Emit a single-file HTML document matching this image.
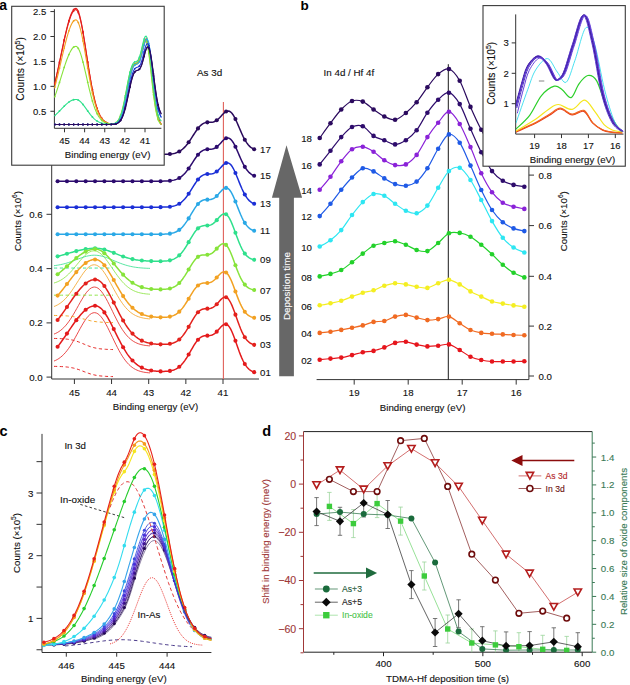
<!DOCTYPE html>
<html><head><meta charset="utf-8"><style>
html,body{margin:0;padding:0;background:#fff;}
svg{display:block;}
text{font-family:"Liberation Sans", sans-serif;}
</style></head><body>
<svg width="630" height="685" viewBox="0 0 630 685">
<rect width="630" height="685" fill="#fff"/>
<g stroke="#333" stroke-width="1" fill="none">
<path d="M51.7,165 L51.7,379 L259,379"/>
<path d="M46.5,377.1 L51.7,377.1"/>
<path d="M46.5,322.9 L51.7,322.9"/>
<path d="M46.5,268.6 L51.7,268.6"/>
<path d="M46.5,214.3 L51.7,214.3"/>
<path d="M74.4,379 L74.4,384"/>
<path d="M111.55,379 L111.55,384"/>
<path d="M148.7,379 L148.7,384"/>
<path d="M185.85,379 L185.85,384"/>
<path d="M223,379 L223,384"/>
</g>
<text x="42.6" y="380.6" font-size="9.7" text-anchor="end" fill="#111" stroke="#111" stroke-width="0.12" font-weight="normal" >0.0</text>
<text x="42.6" y="326.4" font-size="9.7" text-anchor="end" fill="#111" stroke="#111" stroke-width="0.12" font-weight="normal" >0.2</text>
<text x="42.6" y="272.1" font-size="9.7" text-anchor="end" fill="#111" stroke="#111" stroke-width="0.12" font-weight="normal" >0.4</text>
<text x="42.6" y="217.8" font-size="9.7" text-anchor="end" fill="#111" stroke="#111" stroke-width="0.12" font-weight="normal" >0.6</text>
<text x="74.4" y="396" font-size="9.7" text-anchor="middle" fill="#111" stroke="#111" stroke-width="0.12" font-weight="normal" >45</text>
<text x="111.55" y="396" font-size="9.7" text-anchor="middle" fill="#111" stroke="#111" stroke-width="0.12" font-weight="normal" >44</text>
<text x="148.7" y="396" font-size="9.7" text-anchor="middle" fill="#111" stroke="#111" stroke-width="0.12" font-weight="normal" >43</text>
<text x="185.85" y="396" font-size="9.7" text-anchor="middle" fill="#111" stroke="#111" stroke-width="0.12" font-weight="normal" >42</text>
<text x="223" y="396" font-size="9.7" text-anchor="middle" fill="#111" stroke="#111" stroke-width="0.12" font-weight="normal" >41</text>
<text x="155.5" y="410" font-size="9.7" text-anchor="middle" fill="#111" stroke="#111" stroke-width="0.12" font-weight="normal" >Binding energy (eV)</text>
<text x="20.8" y="221" font-size="9.7" text-anchor="middle" fill="#111" stroke="#111" stroke-width="0.12" font-weight="normal" transform="rotate(-90 20.8 221)" >Counts (×10<tspan font-size="6.5" dy="-3.5">6</tspan><tspan dy="3.5">)</tspan></text>
<text x="197" y="76" font-size="9.9" text-anchor="start" fill="#111" stroke="#111" stroke-width="0.12" font-weight="normal" >As 3d</text>
<line x1="223.4" y1="102" x2="223.4" y2="379" stroke="#e0605a" stroke-width="1.1" />
<path d="M54,366.34 L55.51,366.38 L57.03,366.41 L58.54,366.46 L60.05,366.52 L61.56,366.59 L63.08,366.68 L64.59,366.79 L66.1,366.93 L67.62,367.09 L69.13,367.29 L70.64,367.53 L72.15,367.81 L73.67,368.14 L75.18,368.52 L76.69,368.95 L78.21,369.43 L79.72,369.96 L81.23,370.52 L82.74,371.1 L84.26,371.7 L85.77,372.28 L87.28,372.85 L88.79,373.39 L90.31,373.88 L91.82,374.32 L93.33,374.72 L94.85,375.06 L96.36,375.35 L97.87,375.6 L99.38,375.81 L100.9,375.98 L102.41,376.12 L103.92,376.24 L105.44,376.33 L106.95,376.41 L108.46,376.47 L109.97,376.52 L111.49,376.56 L113,376.59" stroke="#e41a1c" stroke-width="0.95" fill="none" stroke-dasharray="3.2,2.6"/>
<path d="M54,361.06 L55.63,360.36 L57.25,359.52 L58.88,358.51 L60.51,357.34 L62.14,355.97 L63.76,354.4 L65.39,352.61 L67.02,350.62 L68.64,348.41 L70.27,346 L71.9,343.4 L73.53,340.64 L75.15,337.75 L76.78,334.78 L78.41,331.76 L80.03,328.77 L81.66,325.85 L83.29,323.07 L84.92,320.5 L86.54,318.2 L88.17,316.24 L89.8,314.66 L91.42,313.52 L93.05,312.85 L94.68,312.67 L96.31,312.99 L97.93,313.81 L99.56,315.12 L101.19,316.89 L102.81,319.07 L104.44,321.61 L106.07,324.46 L107.69,327.55 L109.32,330.82 L110.95,334.2 L112.58,337.62 L114.2,341.03 L115.83,344.36 L117.46,347.58 L119.08,350.64 L120.71,353.52 L122.34,356.17 L123.97,358.6 L125.59,360.8 L127.22,362.76 L128.85,364.49 L130.47,366 L132.1,367.3 L133.73,368.41 L135.36,369.35 L136.98,370.14 L138.61,370.79 L140.24,371.32 L141.86,371.76 L143.49,372.11 L145.12,372.38 L146.75,372.6 L148.37,372.77 L150,372.9" stroke="#e41a1c" stroke-width="0.8" fill="none"/>
<path d="M54,338.42 L55.51,338.46 L57.03,338.5 L58.54,338.55 L60.05,338.61 L61.56,338.69 L63.08,338.79 L64.59,338.91 L66.1,339.06 L67.62,339.24 L69.13,339.45 L70.64,339.71 L72.15,340.01 L73.67,340.37 L75.18,340.79 L76.69,341.25 L78.21,341.78 L79.72,342.35 L81.23,342.96 L82.74,343.59 L84.26,344.23 L85.77,344.87 L87.28,345.49 L88.79,346.07 L90.31,346.6 L91.82,347.08 L93.33,347.51 L94.85,347.88 L96.36,348.2 L97.87,348.47 L99.38,348.7 L100.9,348.88 L102.41,349.04 L103.92,349.16 L105.44,349.27 L106.95,349.35 L108.46,349.42 L109.97,349.47 L111.49,349.51 L113,349.55" stroke="#e3211c" stroke-width="0.95" fill="none" stroke-dasharray="3.2,2.6"/>
<path d="M54,334.1 L55.63,333.42 L57.25,332.6 L58.88,331.62 L60.51,330.47 L62.14,329.14 L63.76,327.61 L65.39,325.88 L67.02,323.93 L68.64,321.78 L70.27,319.44 L71.9,316.91 L73.53,314.22 L75.15,311.41 L76.78,308.51 L78.41,305.58 L80.03,302.66 L81.66,299.82 L83.29,297.12 L84.92,294.62 L86.54,292.39 L88.17,290.48 L89.8,288.95 L91.42,287.85 L93.05,287.2 L94.68,287.03 L96.31,287.36 L97.93,288.17 L99.56,289.45 L101.19,291.18 L102.81,293.32 L104.44,295.8 L106.07,298.59 L107.69,301.61 L109.32,304.8 L110.95,308.1 L112.58,311.44 L114.2,314.77 L115.83,318.03 L117.46,321.17 L119.08,324.16 L120.71,326.96 L122.34,329.55 L123.97,331.92 L125.59,334.07 L127.22,335.98 L128.85,337.67 L130.47,339.14 L132.1,340.41 L133.73,341.5 L135.36,342.42 L136.98,343.18 L138.61,343.82 L140.24,344.34 L141.86,344.76 L143.49,345.1 L145.12,345.37 L146.75,345.58 L148.37,345.75 L150,345.88" stroke="#e3211c" stroke-width="0.8" fill="none"/>
<path d="M54,315.45 L55.51,315.47 L57.03,315.5 L58.54,315.53 L60.05,315.57 L61.56,315.62 L63.08,315.68 L64.59,315.76 L66.1,315.86 L67.62,315.97 L69.13,316.11 L70.64,316.27 L72.15,316.47 L73.67,316.7 L75.18,316.96 L76.69,317.26 L78.21,317.6 L79.72,317.96 L81.23,318.35 L82.74,318.76 L84.26,319.17 L85.77,319.58 L87.28,319.97 L88.79,320.34 L90.31,320.69 L91.82,321 L93.33,321.27 L94.85,321.51 L96.36,321.71 L97.87,321.88 L99.38,322.03 L100.9,322.15 L102.41,322.25 L103.92,322.33 L105.44,322.39 L106.95,322.45 L108.46,322.49 L109.97,322.52 L111.49,322.55 L113,322.57" stroke="#f2a122" stroke-width="0.95" fill="none" stroke-dasharray="3.2,2.6"/>
<path d="M54,306.51 L55.63,305.85 L57.25,305.05 L58.88,304.11 L60.51,303.03 L62.14,301.77 L63.76,300.34 L65.39,298.74 L67.02,296.95 L68.64,294.99 L70.27,292.86 L71.9,290.58 L73.53,288.18 L75.15,285.68 L76.78,283.12 L78.41,280.54 L80.03,277.99 L81.66,275.53 L83.29,273.19 L84.92,271.05 L86.54,269.15 L88.17,267.54 L89.8,266.27 L91.42,265.37 L93.05,264.87 L94.68,264.79 L96.31,265.14 L97.93,265.92 L99.56,267.1 L101.19,268.67 L102.81,270.59 L104.44,272.82 L106.07,275.31 L107.69,278.02 L109.32,280.87 L110.95,283.83 L112.58,286.83 L114.2,289.82 L115.83,292.76 L117.46,295.61 L119.08,298.33 L120.71,300.89 L122.34,303.28 L123.97,305.47 L125.59,307.46 L127.22,309.26 L128.85,310.85 L130.47,312.25 L132.1,313.47 L133.73,314.52 L135.36,315.41 L136.98,316.16 L138.61,316.79 L140.24,317.32 L141.86,317.74 L143.49,318.09 L145.12,318.37 L146.75,318.59 L148.37,318.77 L150,318.91" stroke="#f2a122" stroke-width="0.8" fill="none"/>
<path d="M54,295.18 L55.51,295.18 L57.03,295.18 L58.54,295.18 L60.05,295.18 L61.56,295.18 L63.08,295.18 L64.59,295.18 L66.1,295.18 L67.62,295.18 L69.13,295.18 L70.64,295.18 L72.15,295.18 L73.67,295.18 L75.18,295.18 L76.69,295.18 L78.21,295.18 L79.72,295.18 L81.23,295.18 L82.74,295.18 L84.26,295.18 L85.77,295.18 L87.28,295.18 L88.79,295.18 L90.31,295.18 L91.82,295.18 L93.33,295.18 L94.85,295.18 L96.36,295.18 L97.87,295.18 L99.38,295.18 L100.9,295.18 L102.41,295.18 L103.92,295.18 L105.44,295.18 L106.95,295.18 L108.46,295.18 L109.97,295.18 L111.49,295.18 L113,295.18" stroke="#86e33a" stroke-width="0.95" fill="none" stroke-dasharray="3.2,2.6"/>
<path d="M54,283.02 L55.63,282.5 L57.25,281.88 L58.88,281.15 L60.51,280.3 L62.14,279.33 L63.76,278.21 L65.39,276.96 L67.02,275.56 L68.64,274.03 L70.27,272.38 L71.9,270.6 L73.53,268.73 L75.15,266.79 L76.78,264.8 L78.41,262.8 L80.03,260.82 L81.66,258.92 L83.29,257.12 L84.92,255.47 L86.54,254.02 L88.17,252.8 L89.8,251.85 L91.42,251.19 L93.05,250.85 L94.68,250.85 L96.31,251.17 L97.93,251.84 L99.56,252.82 L101.19,254.11 L102.81,255.67 L104.44,257.47 L106.07,259.48 L107.69,261.65 L109.32,263.94 L110.95,266.3 L112.58,268.69 L114.2,271.08 L115.83,273.42 L117.46,275.69 L119.08,277.85 L120.71,279.89 L122.34,281.79 L123.97,283.53 L125.59,285.11 L127.22,286.54 L128.85,287.8 L130.47,288.91 L132.1,289.88 L133.73,290.71 L135.36,291.42 L136.98,292.02 L138.61,292.52 L140.24,292.94 L141.86,293.28 L143.49,293.56 L145.12,293.78 L146.75,293.96 L148.37,294.1 L150,294.21" stroke="#86e33a" stroke-width="0.8" fill="none"/>
<path d="M54,268.05 L55.51,268.05 L57.03,268.05 L58.54,268.05 L60.05,268.05 L61.56,268.05 L63.08,268.05 L64.59,268.05 L66.1,268.05 L67.62,268.05 L69.13,268.05 L70.64,268.05 L72.15,268.05 L73.67,268.05 L75.18,268.05 L76.69,268.05 L78.21,268.05 L79.72,268.05 L81.23,268.05 L82.74,268.05 L84.26,268.05 L85.77,268.05 L87.28,268.05 L88.79,268.05 L90.31,268.05 L91.82,268.05 L93.33,268.05 L94.85,268.05 L96.36,268.05 L97.87,268.05 L99.38,268.05 L100.9,268.05 L102.41,268.05 L103.92,268.05 L105.44,268.05 L106.95,268.05 L108.46,268.05 L109.97,268.05 L111.49,268.05 L113,268.05" stroke="#2fe08c" stroke-width="0.95" fill="none" stroke-dasharray="3.2,2.6"/>
<path d="M54,265.68 L55.63,265.47 L57.25,265.23 L58.88,264.96 L60.51,264.64 L62.14,264.29 L63.76,263.9 L65.39,263.46 L67.02,262.99 L68.64,262.48 L70.27,261.93 L71.9,261.36 L73.53,260.76 L75.15,260.15 L76.78,259.53 L78.41,258.91 L80.03,258.31 L81.66,257.73 L83.29,257.18 L84.92,256.68 L86.54,256.24 L88.17,255.87 L89.8,255.57 L91.42,255.36 L93.05,255.23 L94.68,255.2 L96.31,255.27 L97.93,255.43 L99.56,255.68 L101.19,256.01 L102.81,256.43 L104.44,256.92 L106.07,257.47 L107.69,258.07 L109.32,258.71 L110.95,259.38 L112.58,260.07 L114.2,260.76 L115.83,261.45 L117.46,262.13 L119.08,262.79 L120.71,263.41 L122.34,264.01 L123.97,264.56 L125.59,265.07 L127.22,265.54 L128.85,265.97 L130.47,266.35 L132.1,266.69 L133.73,266.99 L135.36,267.25 L136.98,267.47 L138.61,267.66 L140.24,267.83 L141.86,267.96 L143.49,268.08 L145.12,268.17 L146.75,268.25 L148.37,268.31 L150,268.36" stroke="#2fe08c" stroke-width="0.8" fill="none"/>
<path d="M57.6,154.47 L58.84,154.47 L60.07,154.47 L61.31,154.47 L62.55,154.47 L63.78,154.47 L65.02,154.47 L66.26,154.47 L67.49,154.47 L68.73,154.47 L69.96,154.47 L71.2,154.47 L72.44,154.47 L73.67,154.47 L74.91,154.47 L76.15,154.47 L77.38,154.47 L78.62,154.47 L79.86,154.47 L81.09,154.47 L82.33,154.47 L83.57,154.47 L84.8,154.47 L86.04,154.47 L87.28,154.47 L88.51,154.47 L89.75,154.47 L90.98,154.47 L92.22,154.47 L93.46,154.47 L94.69,154.47 L95.93,154.47 L97.17,154.47 L98.4,154.47 L99.64,154.47 L100.88,154.47 L102.11,154.47 L103.35,154.47 L104.59,154.47 L105.82,154.47 L107.06,154.47 L108.3,154.47 L109.53,154.47 L110.77,154.47 L112.01,154.47 L113.24,154.47 L114.48,154.47 L115.71,154.47 L116.95,154.47 L118.19,154.47 L119.42,154.47 L120.66,154.47 L121.9,154.47 L123.13,154.47 L124.37,154.47 L125.61,154.47 L126.84,154.47 L128.08,154.47 L129.32,154.47 L130.55,154.47 L131.79,154.47 L133.03,154.47 L134.26,154.47 L135.5,154.47 L136.73,154.47 L137.97,154.47 L139.21,154.47 L140.44,154.47 L141.68,154.47 L142.92,154.47 L144.15,154.47 L145.39,154.47 L146.63,154.47 L147.86,154.47 L149.1,154.47 L150.34,154.47 L151.57,154.47 L152.81,154.47 L154.05,154.46 L155.28,154.46 L156.52,154.46 L157.75,154.46 L158.99,154.45 L160.23,154.44 L161.46,154.43 L162.7,154.41 L163.94,154.39 L165.17,154.36 L166.41,154.31 L167.65,154.25 L168.88,154.16 L170.12,154.05 L171.36,153.9 L172.59,153.71 L173.83,153.47 L175.07,153.16 L176.3,152.77 L177.54,152.3 L178.77,151.72 L180.01,151.02 L181.25,150.2 L182.48,149.24 L183.72,148.13 L184.96,146.88 L186.19,145.47 L187.43,143.93 L188.67,142.26 L189.9,140.47 L191.14,138.61 L192.38,136.69 L193.61,134.76 L194.85,132.85 L196.09,131.01 L197.32,129.28 L198.56,127.7 L199.79,126.3 L201.03,125.11 L202.27,124.15 L203.5,123.41 L204.74,122.89 L205.98,122.56 L207.21,122.39 L208.45,122.32 L209.69,122.29 L210.92,122.25 L212.16,122.14 L213.4,121.9 L214.63,121.48 L215.87,120.86 L217.11,120.02 L218.34,118.98 L219.58,117.77 L220.82,116.45 L222.05,115.1 L223.29,113.8 L224.52,112.65 L225.76,111.74 L227,111.16 L228.23,110.99 L229.47,111.27 L230.71,112.04 L231.94,113.28 L233.18,114.98 L234.42,117.09 L235.65,119.53 L236.89,122.23 L238.13,125.08 L239.36,128.01 L240.6,130.91 L241.84,133.72 L243.07,136.36 L244.31,138.78 L245.54,140.96 L246.78,142.88 L248.02,144.52 L249.25,145.91 L250.49,147.05 L251.73,147.98 L252.96,148.71 L254.2,149.28" stroke="#2a0a5c" stroke-width="1.5" fill="none"/>
<circle cx="57.6" cy="154.47" r="2.05" fill="#2a0a5c"/><circle cx="66.96" cy="154.47" r="2.05" fill="#2a0a5c"/><circle cx="76.32" cy="154.47" r="2.05" fill="#2a0a5c"/><circle cx="85.68" cy="154.47" r="2.05" fill="#2a0a5c"/><circle cx="95.04" cy="154.47" r="2.05" fill="#2a0a5c"/><circle cx="104.4" cy="154.47" r="2.05" fill="#2a0a5c"/><circle cx="113.76" cy="154.47" r="2.05" fill="#2a0a5c"/><circle cx="123.12" cy="154.47" r="2.05" fill="#2a0a5c"/><circle cx="132.48" cy="154.47" r="2.05" fill="#2a0a5c"/><circle cx="141.84" cy="154.47" r="2.05" fill="#2a0a5c"/><circle cx="151.2" cy="154.47" r="2.05" fill="#2a0a5c"/><circle cx="160.56" cy="154.44" r="2.05" fill="#2a0a5c"/><circle cx="169.92" cy="154.07" r="2.05" fill="#2a0a5c"/><circle cx="179.28" cy="151.45" r="2.05" fill="#2a0a5c"/><circle cx="188.64" cy="142.29" r="2.05" fill="#2a0a5c"/><circle cx="198" cy="128.39" r="2.05" fill="#2a0a5c"/><circle cx="207.36" cy="122.37" r="2.05" fill="#2a0a5c"/><circle cx="216.72" cy="120.3" r="2.05" fill="#2a0a5c"/><circle cx="226.08" cy="111.56" r="2.05" fill="#2a0a5c"/><circle cx="235.44" cy="119.09" r="2.05" fill="#2a0a5c"/><circle cx="244.8" cy="139.68" r="2.05" fill="#2a0a5c"/><circle cx="254.16" cy="149.27" r="2.05" fill="#2a0a5c"/>
<text x="260" y="152.87" font-size="9.7" text-anchor="start" fill="#111" stroke="#111" stroke-width="0.12" font-weight="normal" >17</text>
<path d="M57.6,181.21 L58.84,181.21 L60.07,181.21 L61.31,181.21 L62.55,181.21 L63.78,181.21 L65.02,181.21 L66.26,181.21 L67.49,181.21 L68.73,181.21 L69.96,181.21 L71.2,181.21 L72.44,181.21 L73.67,181.21 L74.91,181.21 L76.15,181.21 L77.38,181.21 L78.62,181.21 L79.86,181.21 L81.09,181.21 L82.33,181.21 L83.57,181.21 L84.8,181.21 L86.04,181.21 L87.28,181.21 L88.51,181.21 L89.75,181.21 L90.98,181.21 L92.22,181.21 L93.46,181.21 L94.69,181.21 L95.93,181.21 L97.17,181.21 L98.4,181.21 L99.64,181.21 L100.88,181.21 L102.11,181.21 L103.35,181.21 L104.59,181.21 L105.82,181.21 L107.06,181.21 L108.3,181.21 L109.53,181.21 L110.77,181.21 L112.01,181.21 L113.24,181.21 L114.48,181.21 L115.71,181.21 L116.95,181.21 L118.19,181.21 L119.42,181.21 L120.66,181.21 L121.9,181.21 L123.13,181.21 L124.37,181.21 L125.61,181.21 L126.84,181.21 L128.08,181.21 L129.32,181.21 L130.55,181.21 L131.79,181.21 L133.03,181.21 L134.26,181.21 L135.5,181.21 L136.73,181.21 L137.97,181.21 L139.21,181.21 L140.44,181.21 L141.68,181.21 L142.92,181.21 L144.15,181.21 L145.39,181.21 L146.63,181.21 L147.86,181.21 L149.1,181.21 L150.34,181.21 L151.57,181.21 L152.81,181.21 L154.05,181.2 L155.28,181.2 L156.52,181.2 L157.75,181.2 L158.99,181.19 L160.23,181.18 L161.46,181.17 L162.7,181.15 L163.94,181.12 L165.17,181.08 L166.41,181.03 L167.65,180.96 L168.88,180.87 L170.12,180.75 L171.36,180.58 L172.59,180.38 L173.83,180.11 L175.07,179.78 L176.3,179.36 L177.54,178.85 L178.77,178.24 L180.01,177.5 L181.25,176.63 L182.48,175.63 L183.72,174.47 L184.96,173.17 L186.19,171.73 L187.43,170.14 L188.67,168.44 L189.9,166.63 L191.14,164.76 L192.38,162.84 L193.61,160.92 L194.85,159.04 L196.09,157.25 L197.32,155.58 L198.56,154.07 L199.79,152.75 L201.03,151.65 L202.27,150.77 L203.5,150.12 L204.74,149.67 L205.98,149.41 L207.21,149.27 L208.45,149.23 L209.69,149.21 L210.92,149.15 L212.16,148.99 L213.4,148.69 L214.63,148.2 L215.87,147.51 L217.11,146.59 L218.34,145.49 L219.58,144.24 L220.82,142.9 L222.05,141.56 L223.29,140.3 L224.52,139.23 L225.76,138.42 L227,137.98 L228.23,137.95 L229.47,138.38 L230.71,139.29 L231.94,140.67 L233.18,142.49 L234.42,144.68 L235.65,147.18 L236.89,149.9 L238.13,152.74 L239.36,155.62 L240.6,158.45 L241.84,161.16 L243.07,163.69 L244.31,166 L245.54,168.05 L246.78,169.84 L248.02,171.37 L249.25,172.65 L250.49,173.69 L251.73,174.54 L252.96,175.2 L254.2,175.71" stroke="#2c0b6e" stroke-width="1.5" fill="none"/>
<circle cx="57.6" cy="181.21" r="2.05" fill="#2c0b6e"/><circle cx="66.96" cy="181.21" r="2.05" fill="#2c0b6e"/><circle cx="76.32" cy="181.21" r="2.05" fill="#2c0b6e"/><circle cx="85.68" cy="181.21" r="2.05" fill="#2c0b6e"/><circle cx="95.04" cy="181.21" r="2.05" fill="#2c0b6e"/><circle cx="104.4" cy="181.21" r="2.05" fill="#2c0b6e"/><circle cx="113.76" cy="181.21" r="2.05" fill="#2c0b6e"/><circle cx="123.12" cy="181.21" r="2.05" fill="#2c0b6e"/><circle cx="132.48" cy="181.21" r="2.05" fill="#2c0b6e"/><circle cx="141.84" cy="181.21" r="2.05" fill="#2c0b6e"/><circle cx="151.2" cy="181.21" r="2.05" fill="#2c0b6e"/><circle cx="160.56" cy="181.18" r="2.05" fill="#2c0b6e"/><circle cx="169.92" cy="180.77" r="2.05" fill="#2c0b6e"/><circle cx="179.28" cy="177.95" r="2.05" fill="#2c0b6e"/><circle cx="188.64" cy="168.48" r="2.05" fill="#2c0b6e"/><circle cx="198" cy="154.73" r="2.05" fill="#2c0b6e"/><circle cx="207.36" cy="149.27" r="2.05" fill="#2c0b6e"/><circle cx="216.72" cy="146.9" r="2.05" fill="#2c0b6e"/><circle cx="226.08" cy="138.27" r="2.05" fill="#2c0b6e"/><circle cx="235.44" cy="146.73" r="2.05" fill="#2c0b6e"/><circle cx="244.8" cy="166.85" r="2.05" fill="#2c0b6e"/><circle cx="254.16" cy="175.7" r="2.05" fill="#2c0b6e"/>
<text x="260" y="179.3" font-size="9.7" text-anchor="start" fill="#111" stroke="#111" stroke-width="0.12" font-weight="normal" >15</text>
<path d="M57.6,207.19 L58.84,207.19 L60.07,207.19 L61.31,207.19 L62.55,207.19 L63.78,207.19 L65.02,207.19 L66.26,207.19 L67.49,207.19 L68.73,207.19 L69.96,207.19 L71.2,207.19 L72.44,207.19 L73.67,207.19 L74.91,207.19 L76.15,207.19 L77.38,207.19 L78.62,207.19 L79.86,207.19 L81.09,207.19 L82.33,207.19 L83.57,207.19 L84.8,207.19 L86.04,207.19 L87.28,207.19 L88.51,207.19 L89.75,207.19 L90.98,207.19 L92.22,207.19 L93.46,207.19 L94.69,207.19 L95.93,207.19 L97.17,207.19 L98.4,207.19 L99.64,207.19 L100.88,207.19 L102.11,207.19 L103.35,207.19 L104.59,207.19 L105.82,207.19 L107.06,207.19 L108.3,207.19 L109.53,207.19 L110.77,207.19 L112.01,207.19 L113.24,207.19 L114.48,207.19 L115.71,207.19 L116.95,207.19 L118.19,207.19 L119.42,207.19 L120.66,207.19 L121.9,207.19 L123.13,207.19 L124.37,207.19 L125.61,207.19 L126.84,207.19 L128.08,207.19 L129.32,207.19 L130.55,207.19 L131.79,207.19 L133.03,207.19 L134.26,207.19 L135.5,207.19 L136.73,207.19 L137.97,207.19 L139.21,207.19 L140.44,207.19 L141.68,207.19 L142.92,207.19 L144.15,207.19 L145.39,207.19 L146.63,207.19 L147.86,207.19 L149.1,207.19 L150.34,207.19 L151.57,207.19 L152.81,207.19 L154.05,207.18 L155.28,207.18 L156.52,207.18 L157.75,207.17 L158.99,207.17 L160.23,207.16 L161.46,207.14 L162.7,207.12 L163.94,207.09 L165.17,207.05 L166.41,207 L167.65,206.92 L168.88,206.82 L170.12,206.69 L171.36,206.52 L172.59,206.3 L173.83,206.02 L175.07,205.66 L176.3,205.22 L177.54,204.68 L178.77,204.03 L180.01,203.26 L181.25,202.34 L182.48,201.28 L183.72,200.07 L184.96,198.7 L186.19,197.19 L187.43,195.53 L188.67,193.75 L189.9,191.87 L191.14,189.91 L192.38,187.92 L193.61,185.93 L194.85,183.99 L196.09,182.14 L197.32,180.42 L198.56,178.87 L199.79,177.53 L201.03,176.41 L202.27,175.52 L203.5,174.87 L204.74,174.43 L205.98,174.17 L207.21,174.05 L208.45,174.01 L209.69,173.99 L210.92,173.93 L212.16,173.77 L213.4,173.45 L214.63,172.93 L215.87,172.2 L217.11,171.26 L218.34,170.12 L219.58,168.84 L220.82,167.48 L222.05,166.14 L223.29,164.9 L224.52,163.87 L225.76,163.14 L227,162.8 L228.23,162.91 L229.47,163.52 L230.71,164.63 L231.94,166.23 L233.18,168.28 L234.42,170.72 L235.65,173.47 L236.89,176.43 L238.13,179.51 L239.36,182.6 L240.6,185.63 L241.84,188.51 L243.07,191.19 L244.31,193.62 L245.54,195.78 L246.78,197.66 L248.02,199.26 L249.25,200.59 L250.49,201.68 L251.73,202.56 L252.96,203.24 L254.2,203.78" stroke="#1b2fd6" stroke-width="1.5" fill="none"/>
<circle cx="57.6" cy="207.19" r="2.05" fill="#1b2fd6"/><circle cx="66.96" cy="207.19" r="2.05" fill="#1b2fd6"/><circle cx="76.32" cy="207.19" r="2.05" fill="#1b2fd6"/><circle cx="85.68" cy="207.19" r="2.05" fill="#1b2fd6"/><circle cx="95.04" cy="207.19" r="2.05" fill="#1b2fd6"/><circle cx="104.4" cy="207.19" r="2.05" fill="#1b2fd6"/><circle cx="113.76" cy="207.19" r="2.05" fill="#1b2fd6"/><circle cx="123.12" cy="207.19" r="2.05" fill="#1b2fd6"/><circle cx="132.48" cy="207.19" r="2.05" fill="#1b2fd6"/><circle cx="141.84" cy="207.19" r="2.05" fill="#1b2fd6"/><circle cx="151.2" cy="207.19" r="2.05" fill="#1b2fd6"/><circle cx="160.56" cy="207.15" r="2.05" fill="#1b2fd6"/><circle cx="169.92" cy="206.72" r="2.05" fill="#1b2fd6"/><circle cx="179.28" cy="203.73" r="2.05" fill="#1b2fd6"/><circle cx="188.64" cy="193.79" r="2.05" fill="#1b2fd6"/><circle cx="198" cy="179.55" r="2.05" fill="#1b2fd6"/><circle cx="207.36" cy="174.04" r="2.05" fill="#1b2fd6"/><circle cx="216.72" cy="171.57" r="2.05" fill="#1b2fd6"/><circle cx="226.08" cy="163.01" r="2.05" fill="#1b2fd6"/><circle cx="235.44" cy="172.98" r="2.05" fill="#1b2fd6"/><circle cx="244.8" cy="194.51" r="2.05" fill="#1b2fd6"/><circle cx="254.16" cy="203.76" r="2.05" fill="#1b2fd6"/>
<text x="260" y="207.36" font-size="9.7" text-anchor="start" fill="#111" stroke="#111" stroke-width="0.12" font-weight="normal" >13</text>
<path d="M57.6,234.32 L58.84,234.32 L60.07,234.32 L61.31,234.32 L62.55,234.32 L63.78,234.32 L65.02,234.32 L66.26,234.32 L67.49,234.32 L68.73,234.32 L69.96,234.32 L71.2,234.32 L72.44,234.32 L73.67,234.32 L74.91,234.32 L76.15,234.32 L77.38,234.32 L78.62,234.32 L79.86,234.32 L81.09,234.32 L82.33,234.32 L83.57,234.32 L84.8,234.32 L86.04,234.32 L87.28,234.32 L88.51,234.32 L89.75,234.32 L90.98,234.32 L92.22,234.32 L93.46,234.32 L94.69,234.32 L95.93,234.32 L97.17,234.32 L98.4,234.32 L99.64,234.32 L100.88,234.32 L102.11,234.32 L103.35,234.32 L104.59,234.32 L105.82,234.32 L107.06,234.32 L108.3,234.32 L109.53,234.32 L110.77,234.32 L112.01,234.32 L113.24,234.32 L114.48,234.32 L115.71,234.32 L116.95,234.32 L118.19,234.32 L119.42,234.32 L120.66,234.32 L121.9,234.32 L123.13,234.32 L124.37,234.32 L125.61,234.32 L126.84,234.32 L128.08,234.32 L129.32,234.32 L130.55,234.32 L131.79,234.32 L133.03,234.32 L134.26,234.32 L135.5,234.32 L136.73,234.32 L137.97,234.32 L139.21,234.32 L140.44,234.32 L141.68,234.32 L142.92,234.32 L144.15,234.32 L145.39,234.32 L146.63,234.31 L147.86,234.31 L149.1,234.31 L150.34,234.31 L151.57,234.31 L152.81,234.31 L154.05,234.31 L155.28,234.31 L156.52,234.3 L157.75,234.29 L158.99,234.28 L160.23,234.27 L161.46,234.25 L162.7,234.22 L163.94,234.18 L165.17,234.12 L166.41,234.04 L167.65,233.94 L168.88,233.8 L170.12,233.62 L171.36,233.39 L172.59,233.1 L173.83,232.73 L175.07,232.27 L176.3,231.71 L177.54,231.03 L178.77,230.22 L180.01,229.27 L181.25,228.16 L182.48,226.9 L183.72,225.47 L184.96,223.89 L186.19,222.16 L187.43,220.3 L188.67,218.34 L189.9,216.3 L191.14,214.21 L192.38,212.14 L193.61,210.11 L194.85,208.17 L196.09,206.37 L197.32,204.75 L198.56,203.34 L199.79,202.17 L201.03,201.24 L202.27,200.55 L203.5,200.09 L204.74,199.82 L205.98,199.69 L207.21,199.65 L208.45,199.63 L209.69,199.57 L210.92,199.4 L212.16,199.07 L213.4,198.53 L214.63,197.77 L215.87,196.79 L217.11,195.6 L218.34,194.27 L219.58,192.85 L220.82,191.44 L222.05,190.15 L223.29,189.06 L224.52,188.29 L225.76,187.93 L227,188.03 L228.23,188.64 L229.47,189.78 L230.71,191.43 L231.94,193.55 L233.18,196.08 L234.42,198.92 L235.65,201.98 L236.89,205.16 L238.13,208.37 L239.36,211.5 L240.6,214.49 L241.84,217.26 L243.07,219.78 L244.31,222.02 L245.54,223.97 L246.78,225.63 L248.02,227.01 L249.25,228.14 L250.49,229.05 L251.73,229.76 L252.96,230.32 L254.2,230.73" stroke="#2aa8e6" stroke-width="1.5" fill="none"/>
<circle cx="57.6" cy="234.32" r="2.05" fill="#2aa8e6"/><circle cx="66.96" cy="234.32" r="2.05" fill="#2aa8e6"/><circle cx="76.32" cy="234.32" r="2.05" fill="#2aa8e6"/><circle cx="85.68" cy="234.32" r="2.05" fill="#2aa8e6"/><circle cx="95.04" cy="234.32" r="2.05" fill="#2aa8e6"/><circle cx="104.4" cy="234.32" r="2.05" fill="#2aa8e6"/><circle cx="113.76" cy="234.32" r="2.05" fill="#2aa8e6"/><circle cx="123.12" cy="234.32" r="2.05" fill="#2aa8e6"/><circle cx="132.48" cy="234.32" r="2.05" fill="#2aa8e6"/><circle cx="141.84" cy="234.32" r="2.05" fill="#2aa8e6"/><circle cx="151.2" cy="234.31" r="2.05" fill="#2aa8e6"/><circle cx="160.56" cy="234.26" r="2.05" fill="#2aa8e6"/><circle cx="169.92" cy="233.65" r="2.05" fill="#2aa8e6"/><circle cx="179.28" cy="229.85" r="2.05" fill="#2aa8e6"/><circle cx="188.64" cy="218.38" r="2.05" fill="#2aa8e6"/><circle cx="198" cy="203.95" r="2.05" fill="#2aa8e6"/><circle cx="207.36" cy="199.65" r="2.05" fill="#2aa8e6"/><circle cx="216.72" cy="195.99" r="2.05" fill="#2aa8e6"/><circle cx="226.08" cy="187.91" r="2.05" fill="#2aa8e6"/><circle cx="235.44" cy="201.44" r="2.05" fill="#2aa8e6"/><circle cx="244.8" cy="222.83" r="2.05" fill="#2aa8e6"/><circle cx="254.16" cy="230.72" r="2.05" fill="#2aa8e6"/>
<text x="260" y="234.32" font-size="9.7" text-anchor="start" fill="#111" stroke="#111" stroke-width="0.12" font-weight="normal" >11</text>
<path d="M57.6,256.37 L58.84,256.05 L60.07,255.72 L61.31,255.38 L62.55,255.04 L63.78,254.69 L65.02,254.33 L66.26,253.97 L67.49,253.61 L68.73,253.24 L69.96,252.88 L71.2,252.52 L72.44,252.16 L73.67,251.81 L74.91,251.46 L76.15,251.13 L77.38,250.8 L78.62,250.49 L79.86,250.19 L81.09,249.91 L82.33,249.65 L83.57,249.4 L84.8,249.17 L86.04,248.97 L87.28,248.79 L88.51,248.63 L89.75,248.5 L90.98,248.39 L92.22,248.31 L93.46,248.25 L94.69,248.23 L95.93,248.23 L97.17,248.28 L98.4,248.39 L99.64,248.54 L100.88,248.74 L102.11,248.98 L103.35,249.27 L104.59,249.6 L105.82,249.96 L107.06,250.36 L108.3,250.78 L109.53,251.23 L110.77,251.69 L112.01,252.17 L113.24,252.66 L114.48,253.16 L115.71,253.66 L116.95,254.16 L118.19,254.65 L119.42,255.13 L120.66,255.6 L121.9,256.05 L123.13,256.49 L124.37,256.91 L125.61,257.31 L126.84,257.68 L128.08,258.04 L129.32,258.37 L130.55,258.68 L131.79,258.97 L133.03,259.23 L134.26,259.47 L135.5,259.69 L136.73,259.89 L137.97,260.08 L139.21,260.24 L140.44,260.38 L141.68,260.51 L142.92,260.63 L144.15,260.73 L145.39,260.82 L146.63,260.9 L147.86,260.97 L149.1,261.02 L150.34,261.07 L151.57,261.12 L152.81,261.15 L154.05,261.18 L155.28,261.2 L156.52,261.21 L157.75,261.22 L158.99,261.22 L160.23,261.21 L161.46,261.19 L162.7,261.15 L163.94,261.09 L165.17,261.01 L166.41,260.9 L167.65,260.75 L168.88,260.56 L170.12,260.3 L171.36,259.98 L172.59,259.58 L173.83,259.07 L175.07,258.46 L176.3,257.73 L177.54,256.85 L178.77,255.82 L180.01,254.63 L181.25,253.28 L182.48,251.76 L183.72,250.09 L184.96,248.26 L186.19,246.31 L187.43,244.25 L188.67,242.13 L189.9,239.98 L191.14,237.84 L192.38,235.77 L193.61,233.81 L194.85,232 L196.09,230.39 L197.32,229 L198.56,227.86 L199.79,226.98 L201.03,226.34 L202.27,225.93 L203.5,225.69 L204.74,225.6 L205.98,225.57 L207.21,225.55 L208.45,225.47 L209.69,225.26 L210.92,224.86 L212.16,224.26 L213.4,223.42 L214.63,222.35 L215.87,221.09 L217.11,219.7 L218.34,218.26 L219.58,216.86 L220.82,215.62 L222.05,214.63 L223.29,214 L224.52,213.82 L225.76,214.14 L227,215.01 L228.23,216.43 L229.47,218.37 L230.71,220.79 L231.94,223.6 L233.18,226.71 L234.42,230.01 L235.65,233.4 L236.89,236.79 L238.13,240.06 L239.36,243.16 L240.6,246.01 L241.84,248.58 L243.07,250.85 L244.31,252.81 L245.54,254.47 L246.78,255.85 L248.02,256.97 L249.25,257.86 L250.49,258.56 L251.73,259.1 L252.96,259.51 L254.2,259.81" stroke="#2fe08c" stroke-width="1.5" fill="none"/>
<circle cx="57.6" cy="256.37" r="2.05" fill="#2fe08c"/><circle cx="66.96" cy="253.76" r="2.05" fill="#2fe08c"/><circle cx="76.32" cy="251.08" r="2.05" fill="#2fe08c"/><circle cx="85.68" cy="249.03" r="2.05" fill="#2fe08c"/><circle cx="95.04" cy="248.22" r="2.05" fill="#2fe08c"/><circle cx="104.4" cy="249.55" r="2.05" fill="#2fe08c"/><circle cx="113.76" cy="252.87" r="2.05" fill="#2fe08c"/><circle cx="123.12" cy="256.48" r="2.05" fill="#2fe08c"/><circle cx="132.48" cy="259.12" r="2.05" fill="#2fe08c"/><circle cx="141.84" cy="260.53" r="2.05" fill="#2fe08c"/><circle cx="151.2" cy="261.1" r="2.05" fill="#2fe08c"/><circle cx="160.56" cy="261.2" r="2.05" fill="#2fe08c"/><circle cx="169.92" cy="260.35" r="2.05" fill="#2fe08c"/><circle cx="179.28" cy="255.36" r="2.05" fill="#2fe08c"/><circle cx="188.64" cy="242.17" r="2.05" fill="#2fe08c"/><circle cx="198" cy="228.35" r="2.05" fill="#2fe08c"/><circle cx="207.36" cy="225.55" r="2.05" fill="#2fe08c"/><circle cx="216.72" cy="220.15" r="2.05" fill="#2fe08c"/><circle cx="226.08" cy="214.31" r="2.05" fill="#2fe08c"/><circle cx="235.44" cy="232.82" r="2.05" fill="#2fe08c"/><circle cx="244.8" cy="253.51" r="2.05" fill="#2fe08c"/><circle cx="254.16" cy="259.8" r="2.05" fill="#2fe08c"/>
<text x="260" y="263.4" font-size="9.7" text-anchor="start" fill="#111" stroke="#111" stroke-width="0.12" font-weight="normal" >09</text>
<path d="M57.6,274.3 L58.84,273.31 L60.07,272.29 L61.31,271.24 L62.55,270.17 L63.78,269.08 L65.02,267.98 L66.26,266.87 L67.49,265.74 L68.73,264.62 L69.96,263.5 L71.2,262.38 L72.44,261.28 L73.67,260.19 L74.91,259.12 L76.15,258.09 L77.38,257.08 L78.62,256.12 L79.86,255.19 L81.09,254.32 L82.33,253.5 L83.57,252.74 L84.8,252.04 L86.04,251.4 L87.28,250.84 L88.51,250.35 L89.75,249.94 L90.98,249.61 L92.22,249.36 L93.46,249.19 L94.69,249.11 L95.93,249.12 L97.17,249.28 L98.4,249.6 L99.64,250.07 L100.88,250.69 L102.11,251.45 L103.35,252.34 L104.59,253.36 L105.82,254.48 L107.06,255.7 L108.3,257.01 L109.53,258.39 L110.77,259.83 L112.01,261.32 L113.24,262.83 L114.48,264.37 L115.71,265.91 L116.95,267.44 L118.19,268.96 L119.42,270.45 L120.66,271.9 L121.9,273.31 L123.13,274.66 L124.37,275.95 L125.61,277.19 L126.84,278.35 L128.08,279.45 L129.32,280.48 L130.55,281.44 L131.79,282.32 L133.03,283.14 L134.26,283.89 L135.5,284.57 L136.73,285.19 L137.97,285.75 L139.21,286.25 L140.44,286.71 L141.68,287.11 L142.92,287.46 L144.15,287.78 L145.39,288.05 L146.63,288.29 L147.86,288.5 L149.1,288.68 L150.34,288.84 L151.57,288.97 L152.81,289.08 L154.05,289.18 L155.28,289.25 L156.52,289.31 L157.75,289.36 L158.99,289.39 L160.23,289.4 L161.46,289.39 L162.7,289.36 L163.94,289.3 L165.17,289.22 L166.41,289.1 L167.65,288.93 L168.88,288.71 L170.12,288.42 L171.36,288.05 L172.59,287.6 L173.83,287.03 L175.07,286.35 L176.3,285.54 L177.54,284.58 L178.77,283.47 L180.01,282.2 L181.25,280.77 L182.48,279.18 L183.72,277.44 L184.96,275.57 L186.19,273.59 L187.43,271.54 L188.67,269.45 L189.9,267.36 L191.14,265.33 L192.38,263.38 L193.61,261.58 L194.85,259.96 L196.09,258.55 L197.32,257.38 L198.56,256.45 L199.79,255.76 L201.03,255.31 L202.27,255.04 L203.5,254.91 L204.74,254.88 L205.98,254.87 L207.21,254.81 L208.45,254.65 L209.69,254.32 L210.92,253.8 L212.16,253.05 L213.4,252.07 L214.63,250.91 L215.87,249.6 L217.11,248.21 L218.34,246.85 L219.58,245.61 L220.82,244.59 L222.05,243.91 L223.29,243.65 L224.52,243.87 L225.76,244.62 L227,245.92 L228.23,247.75 L229.47,250.06 L230.71,252.78 L231.94,255.82 L233.18,259.08 L234.42,262.46 L235.65,265.85 L236.89,269.16 L238.13,272.31 L239.36,275.23 L240.6,277.88 L241.84,280.23 L243.07,282.27 L244.31,284 L245.54,285.45 L246.78,286.64 L248.02,287.59 L249.25,288.34 L250.49,288.92 L251.73,289.36 L252.96,289.69 L254.2,289.94" stroke="#86e33a" stroke-width="1.5" fill="none"/>
<circle cx="57.6" cy="274.3" r="2.05" fill="#86e33a"/><circle cx="66.96" cy="266.23" r="2.05" fill="#86e33a"/><circle cx="76.32" cy="257.94" r="2.05" fill="#86e33a"/><circle cx="85.68" cy="251.58" r="2.05" fill="#86e33a"/><circle cx="95.04" cy="249.1" r="2.05" fill="#86e33a"/><circle cx="104.4" cy="253.2" r="2.05" fill="#86e33a"/><circle cx="113.76" cy="263.48" r="2.05" fill="#86e33a"/><circle cx="123.12" cy="274.64" r="2.05" fill="#86e33a"/><circle cx="132.48" cy="282.79" r="2.05" fill="#86e33a"/><circle cx="141.84" cy="287.16" r="2.05" fill="#86e33a"/><circle cx="151.2" cy="288.93" r="2.05" fill="#86e33a"/><circle cx="160.56" cy="289.4" r="2.05" fill="#86e33a"/><circle cx="169.92" cy="288.47" r="2.05" fill="#86e33a"/><circle cx="179.28" cy="282.97" r="2.05" fill="#86e33a"/><circle cx="188.64" cy="269.5" r="2.05" fill="#86e33a"/><circle cx="198" cy="256.84" r="2.05" fill="#86e33a"/><circle cx="207.36" cy="254.8" r="2.05" fill="#86e33a"/><circle cx="216.72" cy="248.65" r="2.05" fill="#86e33a"/><circle cx="226.08" cy="244.91" r="2.05" fill="#86e33a"/><circle cx="235.44" cy="265.27" r="2.05" fill="#86e33a"/><circle cx="244.8" cy="284.61" r="2.05" fill="#86e33a"/><circle cx="254.16" cy="289.93" r="2.05" fill="#86e33a"/>
<text x="260" y="293.53" font-size="9.7" text-anchor="start" fill="#111" stroke="#111" stroke-width="0.12" font-weight="normal" >07</text>
<path d="M57.6,295.6 L58.84,294.18 L60.07,292.71 L61.31,291.21 L62.55,289.67 L63.78,288.11 L65.02,286.53 L66.26,284.93 L67.49,283.32 L68.73,281.7 L69.96,280.09 L71.2,278.49 L72.44,276.91 L73.67,275.35 L74.91,273.82 L76.15,272.33 L77.38,270.89 L78.62,269.5 L79.86,268.18 L81.09,266.92 L82.33,265.75 L83.57,264.65 L84.8,263.65 L86.04,262.74 L87.28,261.93 L88.51,261.23 L89.75,260.64 L90.98,260.16 L92.22,259.81 L93.46,259.56 L94.69,259.45 L95.93,259.46 L97.17,259.69 L98.4,260.15 L99.64,260.83 L100.88,261.72 L102.11,262.81 L103.35,264.09 L104.59,265.54 L105.82,267.15 L107.06,268.91 L108.3,270.78 L109.53,272.77 L110.77,274.83 L112.01,276.96 L113.24,279.14 L114.48,281.34 L115.71,283.55 L116.95,285.76 L118.19,287.93 L119.42,290.07 L120.66,292.15 L121.9,294.17 L123.13,296.11 L124.37,297.97 L125.61,299.74 L126.84,301.42 L128.08,302.99 L129.32,304.47 L130.55,305.84 L131.79,307.11 L133.03,308.28 L134.26,309.36 L135.5,310.34 L136.73,311.23 L137.97,312.03 L139.21,312.75 L140.44,313.4 L141.68,313.98 L142.92,314.49 L144.15,314.94 L145.39,315.33 L146.63,315.68 L147.86,315.98 L149.1,316.24 L150.34,316.46 L151.57,316.66 L152.81,316.82 L154.05,316.96 L155.28,317.07 L156.52,317.16 L157.75,317.24 L158.99,317.29 L160.23,317.32 L161.46,317.34 L162.7,317.33 L163.94,317.3 L165.17,317.24 L166.41,317.14 L167.65,317 L168.88,316.82 L170.12,316.57 L171.36,316.26 L172.59,315.86 L173.83,315.36 L175.07,314.75 L176.3,314.02 L177.54,313.15 L178.77,312.13 L180.01,310.95 L181.25,309.61 L182.48,308.12 L183.72,306.47 L184.96,304.67 L186.19,302.76 L187.43,300.76 L188.67,298.69 L189.9,296.6 L191.14,294.54 L192.38,292.54 L193.61,290.66 L194.85,288.93 L196.09,287.4 L197.32,286.09 L198.56,285.03 L199.79,284.21 L201.03,283.63 L202.27,283.26 L203.5,283.06 L204.74,282.98 L205.98,282.96 L207.21,282.94 L208.45,282.85 L209.69,282.62 L210.92,282.22 L212.16,281.6 L213.4,280.75 L214.63,279.7 L215.87,278.46 L217.11,277.12 L218.34,275.73 L219.58,274.42 L220.82,273.26 L222.05,272.38 L223.29,271.87 L224.52,271.81 L225.76,272.26 L227,273.25 L228.23,274.78 L229.47,276.81 L230.71,279.3 L231.94,282.16 L233.18,285.31 L234.42,288.63 L235.65,292.01 L236.89,295.37 L238.13,298.61 L239.36,301.66 L240.6,304.45 L241.84,306.97 L243.07,309.18 L244.31,311.08 L245.54,312.68 L246.78,314.01 L248.02,315.09 L249.25,315.95 L250.49,316.62 L251.73,317.13 L252.96,317.52 L254.2,317.81" stroke="#f2a122" stroke-width="1.5" fill="none"/>
<circle cx="57.6" cy="295.6" r="2.05" fill="#f2a122"/><circle cx="66.96" cy="284.01" r="2.05" fill="#f2a122"/><circle cx="76.32" cy="272.12" r="2.05" fill="#f2a122"/><circle cx="85.68" cy="262.99" r="2.05" fill="#f2a122"/><circle cx="95.04" cy="259.43" r="2.05" fill="#f2a122"/><circle cx="104.4" cy="265.31" r="2.05" fill="#f2a122"/><circle cx="113.76" cy="280.06" r="2.05" fill="#f2a122"/><circle cx="123.12" cy="296.09" r="2.05" fill="#f2a122"/><circle cx="132.48" cy="307.78" r="2.05" fill="#f2a122"/><circle cx="141.84" cy="314.05" r="2.05" fill="#f2a122"/><circle cx="151.2" cy="316.6" r="2.05" fill="#f2a122"/><circle cx="160.56" cy="317.33" r="2.05" fill="#f2a122"/><circle cx="169.92" cy="316.62" r="2.05" fill="#f2a122"/><circle cx="179.28" cy="311.67" r="2.05" fill="#f2a122"/><circle cx="188.64" cy="298.73" r="2.05" fill="#f2a122"/><circle cx="198" cy="285.48" r="2.05" fill="#f2a122"/><circle cx="207.36" cy="282.93" r="2.05" fill="#f2a122"/><circle cx="216.72" cy="277.54" r="2.05" fill="#f2a122"/><circle cx="226.08" cy="272.46" r="2.05" fill="#f2a122"/><circle cx="235.44" cy="291.43" r="2.05" fill="#f2a122"/><circle cx="244.8" cy="311.75" r="2.05" fill="#f2a122"/><circle cx="254.16" cy="317.8" r="2.05" fill="#f2a122"/>
<text x="260" y="321.4" font-size="9.7" text-anchor="start" fill="#111" stroke="#111" stroke-width="0.12" font-weight="normal" >05</text>
<path d="M57.6,319.98 L58.84,318.39 L60.07,316.74 L61.31,315.06 L62.55,313.34 L63.78,311.6 L65.02,309.82 L66.26,308.03 L67.49,306.23 L68.73,304.42 L69.96,302.62 L71.2,300.82 L72.44,299.05 L73.67,297.3 L74.91,295.59 L76.15,293.92 L77.38,292.31 L78.62,290.76 L79.86,289.27 L81.09,287.87 L82.33,286.55 L83.57,285.32 L84.8,284.2 L86.04,283.18 L87.28,282.28 L88.51,281.49 L89.75,280.83 L90.98,280.3 L92.22,279.9 L93.46,279.63 L94.69,279.5 L95.93,279.51 L97.17,279.77 L98.4,280.29 L99.64,281.04 L100.88,282.04 L102.11,283.26 L103.35,284.69 L104.59,286.32 L105.82,288.13 L107.06,290.09 L108.3,292.19 L109.53,294.41 L110.77,296.73 L112.01,299.11 L113.24,301.55 L114.48,304.02 L115.71,306.49 L116.95,308.96 L118.19,311.39 L119.42,313.79 L120.66,316.12 L121.9,318.38 L123.13,320.56 L124.37,322.64 L125.61,324.62 L126.84,326.49 L128.08,328.26 L129.32,329.91 L130.55,331.45 L131.79,332.87 L133.03,334.18 L134.26,335.39 L135.5,336.48 L136.73,337.48 L137.97,338.38 L139.21,339.19 L140.44,339.91 L141.68,340.56 L142.92,341.13 L144.15,341.64 L145.39,342.08 L146.63,342.47 L147.86,342.8 L149.1,343.1 L150.34,343.35 L151.57,343.56 L152.81,343.75 L154.05,343.9 L155.28,344.03 L156.52,344.14 L157.75,344.22 L158.99,344.29 L160.23,344.34 L161.46,344.37 L162.7,344.37 L163.94,344.36 L165.17,344.32 L166.41,344.25 L167.65,344.14 L168.88,343.99 L170.12,343.79 L171.36,343.52 L172.59,343.18 L173.83,342.75 L175.07,342.21 L176.3,341.56 L177.54,340.78 L178.77,339.86 L180.01,338.78 L181.25,337.53 L182.48,336.12 L183.72,334.54 L184.96,332.8 L186.19,330.92 L187.43,328.92 L188.67,326.83 L189.9,324.67 L191.14,322.51 L192.38,320.37 L193.61,318.31 L194.85,316.38 L196.09,314.61 L197.32,313.06 L198.56,311.73 L199.79,310.67 L201.03,309.85 L202.27,309.28 L203.5,308.92 L204.74,308.74 L205.98,308.67 L207.21,308.66 L208.45,308.63 L209.69,308.52 L210.92,308.26 L212.16,307.81 L213.4,307.14 L214.63,306.23 L215.87,305.11 L217.11,303.81 L218.34,302.4 L219.58,300.97 L220.82,299.63 L222.05,298.47 L223.29,297.62 L224.52,297.16 L225.76,297.18 L227,297.74 L228.23,298.86 L229.47,300.54 L230.71,302.74 L231.94,305.41 L233.18,308.44 L234.42,311.75 L235.65,315.23 L236.89,318.76 L238.13,322.25 L239.36,325.6 L240.6,328.73 L241.84,331.6 L243.07,334.17 L244.31,336.43 L245.54,338.36 L246.78,339.98 L248.02,341.32 L249.25,342.41 L250.49,343.27 L251.73,343.94 L252.96,344.46 L254.2,344.85" stroke="#e3211c" stroke-width="1.5" fill="none"/>
<circle cx="57.6" cy="319.98" r="2.05" fill="#e3211c"/><circle cx="66.96" cy="307" r="2.05" fill="#e3211c"/><circle cx="76.32" cy="293.69" r="2.05" fill="#e3211c"/><circle cx="85.68" cy="283.47" r="2.05" fill="#e3211c"/><circle cx="95.04" cy="279.48" r="2.05" fill="#e3211c"/><circle cx="104.4" cy="286.06" r="2.05" fill="#e3211c"/><circle cx="113.76" cy="302.58" r="2.05" fill="#e3211c"/><circle cx="123.12" cy="320.53" r="2.05" fill="#e3211c"/><circle cx="132.48" cy="333.62" r="2.05" fill="#e3211c"/><circle cx="141.84" cy="340.64" r="2.05" fill="#e3211c"/><circle cx="151.2" cy="343.5" r="2.05" fill="#e3211c"/><circle cx="160.56" cy="344.35" r="2.05" fill="#e3211c"/><circle cx="169.92" cy="343.82" r="2.05" fill="#e3211c"/><circle cx="179.28" cy="339.43" r="2.05" fill="#e3211c"/><circle cx="188.64" cy="326.87" r="2.05" fill="#e3211c"/><circle cx="198" cy="312.3" r="2.05" fill="#e3211c"/><circle cx="207.36" cy="308.66" r="2.05" fill="#e3211c"/><circle cx="216.72" cy="304.23" r="2.05" fill="#e3211c"/><circle cx="226.08" cy="297.27" r="2.05" fill="#e3211c"/><circle cx="235.44" cy="314.63" r="2.05" fill="#e3211c"/><circle cx="244.8" cy="337.23" r="2.05" fill="#e3211c"/><circle cx="254.16" cy="344.84" r="2.05" fill="#e3211c"/>
<text x="260" y="348.44" font-size="9.7" text-anchor="start" fill="#111" stroke="#111" stroke-width="0.12" font-weight="normal" >03</text>
<path d="M57.6,346.73 L58.84,345.11 L60.07,343.45 L61.31,341.75 L62.55,340.01 L63.78,338.24 L65.02,336.45 L66.26,334.64 L67.49,332.81 L68.73,330.98 L69.96,329.16 L71.2,327.34 L72.44,325.55 L73.67,323.78 L74.91,322.05 L76.15,320.36 L77.38,318.73 L78.62,317.16 L79.86,315.66 L81.09,314.24 L82.33,312.9 L83.57,311.66 L84.8,310.53 L86.04,309.5 L87.28,308.58 L88.51,307.79 L89.75,307.12 L90.98,306.58 L92.22,306.17 L93.46,305.9 L94.69,305.77 L95.93,305.79 L97.17,306.05 L98.4,306.57 L99.64,307.33 L100.88,308.34 L102.11,309.57 L103.35,311.02 L104.59,312.67 L105.82,314.5 L107.06,316.49 L108.3,318.61 L109.53,320.86 L110.77,323.2 L112.01,325.61 L113.24,328.08 L114.48,330.57 L115.71,333.08 L116.95,335.57 L118.19,338.04 L119.42,340.46 L120.66,342.82 L121.9,345.1 L123.13,347.31 L124.37,349.41 L125.61,351.42 L126.84,353.31 L128.08,355.1 L129.32,356.77 L130.55,358.33 L131.79,359.77 L133.03,361.09 L134.26,362.31 L135.5,363.42 L136.73,364.43 L137.97,365.34 L139.21,366.16 L140.44,366.89 L141.68,367.54 L142.92,368.12 L144.15,368.63 L145.39,369.08 L146.63,369.47 L147.86,369.81 L149.1,370.11 L150.34,370.36 L151.57,370.58 L152.81,370.77 L154.05,370.93 L155.28,371.06 L156.52,371.17 L157.75,371.25 L158.99,371.32 L160.23,371.37 L161.46,371.4 L162.7,371.42 L163.94,371.41 L165.17,371.37 L166.41,371.31 L167.65,371.21 L168.88,371.08 L170.12,370.89 L171.36,370.64 L172.59,370.32 L173.83,369.92 L175.07,369.42 L176.3,368.81 L177.54,368.07 L178.77,367.19 L180.01,366.15 L181.25,364.96 L182.48,363.6 L183.72,362.07 L184.96,360.38 L186.19,358.54 L187.43,356.57 L188.67,354.5 L189.9,352.36 L191.14,350.19 L192.38,348.03 L193.61,345.95 L194.85,343.97 L196.09,342.15 L197.32,340.52 L198.56,339.12 L199.79,337.98 L201.03,337.08 L202.27,336.44 L203.5,336.02 L204.74,335.79 L205.98,335.69 L207.21,335.67 L208.45,335.66 L209.69,335.58 L210.92,335.37 L212.16,334.99 L213.4,334.38 L214.63,333.55 L215.87,332.49 L217.11,331.25 L218.34,329.87 L219.58,328.44 L220.82,327.07 L222.05,325.85 L223.29,324.9 L224.52,324.32 L225.76,324.2 L227,324.61 L228.23,325.57 L229.47,327.1 L230.71,329.17 L231.94,331.72 L233.18,334.68 L234.42,337.94 L235.65,341.4 L236.89,344.95 L238.13,348.48 L239.36,351.9 L240.6,355.12 L241.84,358.09 L243.07,360.77 L244.31,363.13 L245.54,365.17 L246.78,366.89 L248.02,368.33 L249.25,369.49 L250.49,370.42 L251.73,371.15 L252.96,371.72 L254.2,372.14" stroke="#e41a1c" stroke-width="1.5" fill="none"/>
<circle cx="57.6" cy="346.73" r="2.05" fill="#e41a1c"/><circle cx="66.96" cy="333.6" r="2.05" fill="#e41a1c"/><circle cx="76.32" cy="320.13" r="2.05" fill="#e41a1c"/><circle cx="85.68" cy="309.78" r="2.05" fill="#e41a1c"/><circle cx="95.04" cy="305.75" r="2.05" fill="#e41a1c"/><circle cx="104.4" cy="312.41" r="2.05" fill="#e41a1c"/><circle cx="113.76" cy="329.12" r="2.05" fill="#e41a1c"/><circle cx="123.12" cy="347.28" r="2.05" fill="#e41a1c"/><circle cx="132.48" cy="360.52" r="2.05" fill="#e41a1c"/><circle cx="141.84" cy="367.62" r="2.05" fill="#e41a1c"/><circle cx="151.2" cy="370.52" r="2.05" fill="#e41a1c"/><circle cx="160.56" cy="371.38" r="2.05" fill="#e41a1c"/><circle cx="169.92" cy="370.92" r="2.05" fill="#e41a1c"/><circle cx="179.28" cy="366.78" r="2.05" fill="#e41a1c"/><circle cx="188.64" cy="354.54" r="2.05" fill="#e41a1c"/><circle cx="198" cy="339.72" r="2.05" fill="#e41a1c"/><circle cx="207.36" cy="335.67" r="2.05" fill="#e41a1c"/><circle cx="216.72" cy="331.65" r="2.05" fill="#e41a1c"/><circle cx="226.08" cy="324.25" r="2.05" fill="#e41a1c"/><circle cx="235.44" cy="340.79" r="2.05" fill="#e41a1c"/><circle cx="244.8" cy="363.98" r="2.05" fill="#e41a1c"/><circle cx="254.16" cy="372.13" r="2.05" fill="#e41a1c"/>
<text x="260" y="375.73" font-size="9.7" text-anchor="start" fill="#111" stroke="#111" stroke-width="0.12" font-weight="normal" >01</text>
<rect x="11.7" y="6.3" width="152.5" height="158.9" fill="#fff" stroke="#3a3a3a" stroke-width="1.1"/>
<g stroke="#333" stroke-width="1" fill="none">
<path d="M54.4,9.2 L54.4,128.3 L161.4,128.3"/>
<path d="M50.4,11.57 L54.4,11.57"/>
<path d="M50.4,36.5 L54.4,36.5"/>
<path d="M50.4,61.42 L54.4,61.42"/>
<path d="M50.4,86.35 L54.4,86.35"/>
<path d="M50.4,111.27 L54.4,111.27"/>
<path d="M64.5,128.3 L64.5,132.3"/>
<path d="M84.62,128.3 L84.62,132.3"/>
<path d="M104.75,128.3 L104.75,132.3"/>
<path d="M124.88,128.3 L124.88,132.3"/>
<path d="M145,128.3 L145,132.3"/>
</g>
<text x="46.3" y="14.97" font-size="9.5" text-anchor="end" fill="#111" stroke="#111" stroke-width="0.12" font-weight="normal" >2.5</text>
<text x="46.3" y="39.9" font-size="9.5" text-anchor="end" fill="#111" stroke="#111" stroke-width="0.12" font-weight="normal" >2.0</text>
<text x="46.3" y="64.82" font-size="9.5" text-anchor="end" fill="#111" stroke="#111" stroke-width="0.12" font-weight="normal" >1.5</text>
<text x="46.3" y="89.75" font-size="9.5" text-anchor="end" fill="#111" stroke="#111" stroke-width="0.12" font-weight="normal" >1.0</text>
<text x="46.3" y="114.67" font-size="9.5" text-anchor="end" fill="#111" stroke="#111" stroke-width="0.12" font-weight="normal" >0.5</text>
<text x="64.5" y="143.6" font-size="9.5" text-anchor="middle" fill="#111" stroke="#111" stroke-width="0.12" font-weight="normal" >45</text>
<text x="84.62" y="143.6" font-size="9.5" text-anchor="middle" fill="#111" stroke="#111" stroke-width="0.12" font-weight="normal" >44</text>
<text x="104.75" y="143.6" font-size="9.5" text-anchor="middle" fill="#111" stroke="#111" stroke-width="0.12" font-weight="normal" >43</text>
<text x="124.88" y="143.6" font-size="9.5" text-anchor="middle" fill="#111" stroke="#111" stroke-width="0.12" font-weight="normal" >42</text>
<text x="145" y="143.6" font-size="9.5" text-anchor="middle" fill="#111" stroke="#111" stroke-width="0.12" font-weight="normal" >41</text>
<text x="107.6" y="157.9" font-size="9.7" text-anchor="middle" fill="#111" stroke="#111" stroke-width="0.12" font-weight="normal" >Binding energy (eV)</text>
<text x="24" y="68.9" font-size="10.3" text-anchor="middle" fill="#111" stroke="#111" stroke-width="0.12" font-weight="normal" transform="rotate(-90 24 68.9)" >Counts (×10<tspan font-size="7" dy="-3.8">5</tspan><tspan dy="3.8">)</tspan></text>
<svg x="54.4" y="6.3" width="107.5" height="122" overflow="hidden"><g transform="translate(-54.4,-6.3)">
<path d="M54.4,84.55 L55.3,80.88 L56.2,77.06 L57.1,73.1 L58,69.01 L58.9,64.83 L59.79,60.57 L60.69,56.26 L61.59,51.94 L62.49,47.64 L63.39,43.38 L64.29,39.21 L65.19,35.16 L66.09,31.27 L66.99,27.58 L67.89,24.12 L68.79,20.93 L69.69,18.04 L70.58,15.47 L71.48,13.27 L72.38,11.45 L73.28,10.03 L74.18,9.02 L75.08,8.45 L75.98,8.32 L76.88,8.87 L77.78,10.24 L78.68,12.38 L79.58,15.26 L80.48,18.81 L81.37,22.97 L82.27,27.65 L83.17,32.77 L84.07,38.22 L84.97,43.92 L85.87,49.78 L86.77,55.7 L87.67,61.59 L88.57,67.39 L89.47,73.01 L90.37,78.41 L91.27,83.53 L92.16,88.34 L93.06,92.81 L93.96,96.92 L94.86,100.67 L95.76,104.05 L96.66,107.08 L97.56,109.76 L98.46,112.11 L99.36,114.17 L100.26,115.94 L101.16,117.46 L102.06,118.75 L102.95,119.83 L103.85,120.74 L104.75,121.49 L105.65,122.1 L106.55,122.61 L107.45,123.01 L108.35,123.33 L109.25,123.57 L110.15,123.76 L111.05,123.88 L111.95,123.95 L112.85,123.95 L113.74,123.88 L114.64,123.72 L115.54,123.45 L116.44,123.04 L117.34,122.44 L118.24,121.61 L119.14,120.49 L120.04,119.03 L120.94,117.16 L121.84,114.83 L122.74,112.02 L123.64,108.71 L124.53,104.9 L125.43,100.66 L126.33,96.08 L127.23,91.28 L128.13,86.42 L129.03,81.68 L129.93,77.27 L130.83,73.36 L131.73,70.08 L132.63,67.53 L133.53,65.72 L134.43,64.59 L135.32,63.98 L136.22,63.66 L137.12,63.37 L138.02,62.83 L138.92,61.77 L139.82,60.03 L140.72,57.53 L141.62,54.36 L142.52,50.73 L143.42,47 L144.32,43.6 L145.22,41.02 L146.11,39.71 L147.01,40.02 L147.91,42.15 L148.81,46.12 L149.71,51.79 L150.61,58.84 L151.51,66.85 L152.41,75.33 L153.31,83.83 L154.21,91.92 L155.11,99.29 L156.01,105.73 L156.9,111.14 L157.8,115.52 L158.7,118.94 L159.6,121.52 L160.5,123.41 L161.4,124.74" stroke="#e41a1c" stroke-width="1.1" fill="none"/>
<circle cx="54.8" cy="82.94" r="0.9" fill="#e41a1c"/><circle cx="59.5" cy="61.97" r="0.9" fill="#e41a1c"/><circle cx="64.2" cy="39.63" r="0.9" fill="#e41a1c"/><circle cx="68.9" cy="20.55" r="0.9" fill="#e41a1c"/><circle cx="73.6" cy="9.62" r="0.9" fill="#e41a1c"/><circle cx="78.3" cy="11.39" r="0.9" fill="#e41a1c"/><circle cx="83" cy="31.75" r="0.9" fill="#e41a1c"/><circle cx="87.7" cy="61.79" r="0.9" fill="#e41a1c"/><circle cx="92.4" cy="89.54" r="0.9" fill="#e41a1c"/><circle cx="97.1" cy="108.43" r="0.9" fill="#e41a1c"/><circle cx="101.8" cy="118.4" r="0.9" fill="#e41a1c"/><circle cx="106.5" cy="122.58" r="0.9" fill="#e41a1c"/><circle cx="111.2" cy="123.89" r="0.9" fill="#e41a1c"/><circle cx="115.9" cy="123.31" r="0.9" fill="#e41a1c"/><circle cx="120.6" cy="117.91" r="0.9" fill="#e41a1c"/><circle cx="125.3" cy="101.32" r="0.9" fill="#e41a1c"/><circle cx="130" cy="76.94" r="0.9" fill="#e41a1c"/><circle cx="134.7" cy="64.36" r="0.9" fill="#e41a1c"/><circle cx="139.4" cy="60.93" r="0.9" fill="#e41a1c"/><circle cx="144.1" cy="44.36" r="0.9" fill="#e41a1c"/><circle cx="148.8" cy="46.06" r="0.9" fill="#e41a1c"/><circle cx="153.5" cy="85.61" r="0.9" fill="#e41a1c"/><circle cx="158.2" cy="117.14" r="0.9" fill="#e41a1c"/>
<path d="M54.4,85.01 L55.3,81.39 L56.2,77.61 L57.1,73.69 L58,69.65 L58.9,65.52 L59.79,61.31 L60.69,57.05 L61.59,52.78 L62.49,48.52 L63.39,44.31 L64.29,40.19 L65.19,36.19 L66.09,32.35 L66.99,28.7 L67.89,25.28 L68.79,22.12 L69.69,19.26 L70.58,16.73 L71.48,14.55 L72.38,12.75 L73.28,11.35 L74.18,10.35 L75.08,9.79 L75.98,9.66 L76.88,10.21 L77.78,11.56 L78.68,13.68 L79.58,16.52 L80.48,20.03 L81.37,24.14 L82.27,28.77 L83.17,33.82 L84.07,39.22 L84.97,44.85 L85.87,50.64 L86.77,56.49 L87.67,62.32 L88.57,68.04 L89.47,73.61 L90.37,78.94 L91.27,84 L92.16,88.76 L93.06,93.17 L93.96,97.24 L94.86,100.94 L95.76,104.29 L96.66,107.28 L97.56,109.93 L98.46,112.26 L99.36,114.29 L100.26,116.04 L101.16,117.54 L102.06,118.81 L102.95,119.88 L103.85,120.78 L104.75,121.52 L105.65,122.13 L106.55,122.63 L107.45,123.02 L108.35,123.34 L109.25,123.58 L110.15,123.76 L111.05,123.87 L111.95,123.93 L112.85,123.92 L113.74,123.84 L114.64,123.66 L115.54,123.36 L116.44,122.9 L117.34,122.25 L118.24,121.35 L119.14,120.15 L120.04,118.58 L120.94,116.59 L121.84,114.14 L122.74,111.18 L123.64,107.72 L124.53,103.77 L125.43,99.41 L126.33,94.71 L127.23,89.84 L128.13,84.94 L129.03,80.22 L129.93,75.87 L130.83,72.05 L131.73,68.91 L132.63,66.5 L133.53,64.84 L134.43,63.83 L135.32,63.3 L136.22,63.02 L137.12,62.69 L138.02,62.04 L138.92,60.82 L139.82,58.88 L140.72,56.19 L141.62,52.85 L142.52,49.11 L143.42,45.36 L144.32,42.06 L145.22,39.69 L146.11,38.68 L147.01,39.36 L147.91,41.89 L148.81,46.26 L149.71,52.29 L150.61,59.61 L151.51,67.79 L152.41,76.35 L153.31,84.83 L154.21,92.82 L155.11,100.02 L156.01,106.26 L156.9,111.46 L157.8,115.64 L158.7,118.87 L159.6,121.3 L160.5,123.05 L161.4,124.28" stroke="#e3211c" stroke-width="1.1" fill="none"/>
<circle cx="54.8" cy="83.42" r="0.9" fill="#e3211c"/><circle cx="59.5" cy="62.69" r="0.9" fill="#e3211c"/><circle cx="64.2" cy="40.6" r="0.9" fill="#e3211c"/><circle cx="68.9" cy="21.75" r="0.9" fill="#e3211c"/><circle cx="73.6" cy="10.95" r="0.9" fill="#e3211c"/><circle cx="78.3" cy="12.7" r="0.9" fill="#e3211c"/><circle cx="83" cy="32.82" r="0.9" fill="#e3211c"/><circle cx="87.7" cy="62.52" r="0.9" fill="#e3211c"/><circle cx="92.4" cy="89.95" r="0.9" fill="#e3211c"/><circle cx="97.1" cy="108.61" r="0.9" fill="#e3211c"/><circle cx="101.8" cy="118.47" r="0.9" fill="#e3211c"/><circle cx="106.5" cy="122.6" r="0.9" fill="#e3211c"/><circle cx="111.2" cy="123.89" r="0.9" fill="#e3211c"/><circle cx="115.9" cy="123.2" r="0.9" fill="#e3211c"/><circle cx="120.6" cy="117.39" r="0.9" fill="#e3211c"/><circle cx="125.3" cy="100.08" r="0.9" fill="#e3211c"/><circle cx="130" cy="75.55" r="0.9" fill="#e3211c"/><circle cx="134.7" cy="63.63" r="0.9" fill="#e3211c"/><circle cx="139.4" cy="59.88" r="0.9" fill="#e3211c"/><circle cx="144.1" cy="42.79" r="0.9" fill="#e3211c"/><circle cx="148.8" cy="46.2" r="0.9" fill="#e3211c"/><circle cx="153.5" cy="86.59" r="0.9" fill="#e3211c"/><circle cx="158.2" cy="117.17" r="0.9" fill="#e3211c"/>
<path d="M54.4,88.5 L55.3,85.2 L56.2,81.75 L57.1,78.18 L58,74.5 L58.9,70.73 L59.79,66.89 L60.69,63.01 L61.59,59.12 L62.49,55.24 L63.39,51.4 L64.29,47.64 L65.19,44 L66.09,40.49 L66.99,37.17 L67.89,34.05 L68.79,31.17 L69.69,28.57 L70.58,26.26 L71.48,24.27 L72.38,22.63 L73.28,21.35 L74.18,20.44 L75.08,19.93 L75.98,19.81 L76.88,20.31 L77.78,21.54 L78.68,23.47 L79.58,26.06 L80.48,29.27 L81.37,33.01 L82.27,37.23 L83.17,41.84 L84.07,46.75 L84.97,51.89 L85.87,57.17 L86.77,62.5 L87.67,67.81 L88.57,73.03 L89.47,78.1 L90.37,82.97 L91.27,87.58 L92.16,91.92 L93.06,95.94 L93.96,99.65 L94.86,103.02 L95.76,106.07 L96.66,108.8 L97.56,111.21 L98.46,113.34 L99.36,115.19 L100.26,116.78 L101.16,118.15 L102.06,119.31 L102.95,120.29 L103.85,121.11 L104.75,121.78 L105.65,122.34 L106.55,122.79 L107.45,123.15 L108.35,123.43 L109.25,123.64 L110.15,123.79 L111.05,123.88 L111.95,123.91 L112.85,123.86 L113.74,123.73 L114.64,123.49 L115.54,123.11 L116.44,122.56 L117.34,121.78 L118.24,120.72 L119.14,119.33 L120.04,117.55 L120.94,115.34 L121.84,112.64 L122.74,109.45 L123.64,105.78 L124.53,101.67 L125.43,97.21 L126.33,92.51 L127.23,87.74 L128.13,83.06 L129.03,78.68 L129.93,74.76 L130.83,71.45 L131.73,68.84 L132.63,66.97 L133.53,65.78 L134.43,65.11 L135.32,64.78 L136.22,64.5 L137.12,64.01 L138.02,63.05 L138.92,61.42 L139.82,59.06 L140.72,56.01 L141.62,52.47 L142.52,48.76 L143.42,45.33 L144.32,42.62 L145.22,41.09 L146.11,41.1 L147.01,42.87 L147.91,46.45 L148.81,51.72 L149.71,58.39 L150.61,66.07 L151.51,74.28 L152.41,82.57 L153.31,90.53 L154.21,97.82 L155.11,104.23 L156.01,109.65 L156.9,114.06 L157.8,117.52 L158.7,120.14 L159.6,122.07 L160.5,123.43 L161.4,124.37" stroke="#f2a122" stroke-width="1.1" fill="none"/>
<circle cx="54.8" cy="87.05" r="0.9" fill="#f2a122"/><circle cx="59.5" cy="68.16" r="0.9" fill="#f2a122"/><circle cx="64.2" cy="48.02" r="0.9" fill="#f2a122"/><circle cx="68.9" cy="30.83" r="0.9" fill="#f2a122"/><circle cx="73.6" cy="20.99" r="0.9" fill="#f2a122"/><circle cx="78.3" cy="22.58" r="0.9" fill="#f2a122"/><circle cx="83" cy="40.92" r="0.9" fill="#f2a122"/><circle cx="87.7" cy="68" r="0.9" fill="#f2a122"/><circle cx="92.4" cy="93" r="0.9" fill="#f2a122"/><circle cx="97.1" cy="110.02" r="0.9" fill="#f2a122"/><circle cx="101.8" cy="119" r="0.9" fill="#f2a122"/><circle cx="106.5" cy="122.76" r="0.9" fill="#f2a122"/><circle cx="111.2" cy="123.89" r="0.9" fill="#f2a122"/><circle cx="115.9" cy="122.92" r="0.9" fill="#f2a122"/><circle cx="120.6" cy="116.22" r="0.9" fill="#f2a122"/><circle cx="125.3" cy="97.89" r="0.9" fill="#f2a122"/><circle cx="130" cy="74.47" r="0.9" fill="#f2a122"/><circle cx="134.7" cy="64.99" r="0.9" fill="#f2a122"/><circle cx="139.4" cy="60.25" r="0.9" fill="#f2a122"/><circle cx="144.1" cy="43.18" r="0.9" fill="#f2a122"/><circle cx="148.8" cy="51.64" r="0.9" fill="#f2a122"/><circle cx="153.5" cy="92.16" r="0.9" fill="#f2a122"/><circle cx="158.2" cy="118.77" r="0.9" fill="#f2a122"/>
<path d="M54.4,97.62 L55.3,95.15 L56.2,92.58 L57.1,89.92 L58,87.17 L58.9,84.35 L59.79,81.49 L60.69,78.59 L61.59,75.68 L62.49,72.79 L63.39,69.92 L64.29,67.12 L65.19,64.39 L66.09,61.78 L66.99,59.29 L67.89,56.97 L68.79,54.82 L69.69,52.87 L70.58,51.15 L71.48,49.67 L72.38,48.44 L73.28,47.48 L74.18,46.81 L75.08,46.42 L75.98,46.33 L76.88,46.71 L77.78,47.63 L78.68,49.07 L79.58,51.01 L80.48,53.4 L81.37,56.19 L82.27,59.34 L83.17,62.78 L84.07,66.45 L84.97,70.29 L85.87,74.23 L86.77,78.21 L87.67,82.17 L88.57,86.07 L89.47,89.86 L90.37,93.49 L91.27,96.93 L92.16,100.17 L93.06,103.18 L93.96,105.94 L94.86,108.46 L95.76,110.74 L96.66,112.77 L97.56,114.58 L98.46,116.16 L99.36,117.54 L100.26,118.74 L101.16,119.76 L102.06,120.62 L102.95,121.35 L103.85,121.96 L104.75,122.47 L105.65,122.88 L106.55,123.21 L107.45,123.48 L108.35,123.68 L109.25,123.83 L110.15,123.92 L111.05,123.97 L111.95,123.94 L112.85,123.85 L113.74,123.66 L114.64,123.36 L115.54,122.89 L116.44,122.24 L117.34,121.33 L118.24,120.12 L119.14,118.55 L120.04,116.57 L120.94,114.12 L121.84,111.18 L122.74,107.73 L123.64,103.82 L124.53,99.49 L125.43,94.85 L126.33,90.04 L127.23,85.22 L128.13,80.59 L129.03,76.33 L129.93,72.6 L130.83,69.55 L131.73,67.23 L132.63,65.64 L133.53,64.68 L134.43,64.17 L135.32,63.89 L136.22,63.56 L137.12,62.88 L138.02,61.64 L138.92,59.68 L139.82,56.97 L140.72,53.63 L141.62,49.93 L142.52,46.23 L143.42,43 L144.32,40.71 L145.22,39.78 L146.11,40.52 L147.01,43.1 L147.91,47.47 L148.81,53.45 L149.71,60.69 L150.61,68.75 L151.51,77.16 L152.41,85.46 L153.31,93.27 L154.21,100.3 L155.11,106.37 L156.01,111.43 L156.9,115.47 L157.8,118.61 L158.7,120.95 L159.6,122.64 L160.5,123.83 L161.4,124.63" stroke="#86e33a" stroke-width="1.1" fill="none"/>
<circle cx="54.8" cy="96.53" r="0.9" fill="#86e33a"/><circle cx="59.5" cy="82.43" r="0.9" fill="#86e33a"/><circle cx="64.2" cy="67.4" r="0.9" fill="#86e33a"/><circle cx="68.9" cy="54.56" r="0.9" fill="#86e33a"/><circle cx="73.6" cy="47.21" r="0.9" fill="#86e33a"/><circle cx="78.3" cy="48.4" r="0.9" fill="#86e33a"/><circle cx="83" cy="62.1" r="0.9" fill="#86e33a"/><circle cx="87.7" cy="82.31" r="0.9" fill="#86e33a"/><circle cx="92.4" cy="100.98" r="0.9" fill="#86e33a"/><circle cx="97.1" cy="113.68" r="0.9" fill="#86e33a"/><circle cx="101.8" cy="120.39" r="0.9" fill="#86e33a"/><circle cx="106.5" cy="123.2" r="0.9" fill="#86e33a"/><circle cx="111.2" cy="123.97" r="0.9" fill="#86e33a"/><circle cx="115.9" cy="122.66" r="0.9" fill="#86e33a"/><circle cx="120.6" cy="115.1" r="0.9" fill="#86e33a"/><circle cx="125.3" cy="95.56" r="0.9" fill="#86e33a"/><circle cx="130" cy="72.34" r="0.9" fill="#86e33a"/><circle cx="134.7" cy="64.08" r="0.9" fill="#86e33a"/><circle cx="139.4" cy="58.32" r="0.9" fill="#86e33a"/><circle cx="144.1" cy="41.15" r="0.9" fill="#86e33a"/><circle cx="148.8" cy="53.36" r="0.9" fill="#86e33a"/><circle cx="153.5" cy="94.85" r="0.9" fill="#86e33a"/><circle cx="158.2" cy="119.73" r="0.9" fill="#86e33a"/>
<path d="M54.4,115.88 L55.3,115.09 L56.2,114.27 L57.1,113.41 L58,112.53 L58.9,111.63 L59.79,110.71 L60.69,109.78 L61.59,108.85 L62.49,107.93 L63.39,107.01 L64.29,106.11 L65.19,105.24 L66.09,104.4 L66.99,103.6 L67.89,102.86 L68.79,102.17 L69.69,101.55 L70.58,100.99 L71.48,100.52 L72.38,100.13 L73.28,99.82 L74.18,99.6 L75.08,99.48 L75.98,99.45 L76.88,99.57 L77.78,99.87 L78.68,100.33 L79.58,100.95 L80.48,101.71 L81.37,102.61 L82.27,103.62 L83.17,104.72 L84.07,105.9 L84.97,107.13 L85.87,108.39 L86.77,109.66 L87.67,110.93 L88.57,112.18 L89.47,113.39 L90.37,114.56 L91.27,115.66 L92.16,116.7 L93.06,117.66 L93.96,118.55 L94.86,119.35 L95.76,120.08 L96.66,120.73 L97.56,121.31 L98.46,121.82 L99.36,122.26 L100.26,122.64 L101.16,122.97 L102.06,123.25 L102.95,123.48 L103.85,123.68 L104.75,123.84 L105.65,123.97 L106.55,124.07 L107.45,124.15 L108.35,124.21 L109.25,124.25 L110.15,124.26 L111.05,124.24 L111.95,124.18 L112.85,124.06 L113.74,123.88 L114.64,123.6 L115.54,123.19 L116.44,122.6 L117.34,121.8 L118.24,120.71 L119.14,119.29 L120.04,117.46 L120.94,115.18 L121.84,112.4 L122.74,109.11 L123.64,105.31 L124.53,101.04 L125.43,96.38 L126.33,91.46 L127.23,86.44 L128.13,81.51 L129.03,76.85 L129.93,72.66 L130.83,69.1 L131.73,66.27 L132.63,64.21 L133.53,62.87 L134.43,62.12 L135.32,61.73 L136.22,61.45 L137.12,60.96 L138.02,60.01 L138.92,58.38 L139.82,55.96 L140.72,52.81 L141.62,49.1 L142.52,45.16 L143.42,41.44 L144.32,38.4 L145.22,36.53 L146.11,36.22 L147.01,37.72 L147.91,41.1 L148.81,46.25 L149.71,52.9 L150.61,60.64 L151.51,69 L152.41,77.51 L153.31,85.72 L154.21,93.29 L155.11,99.98 L156.01,105.65 L156.9,110.29 L157.8,113.95 L158.7,116.73 L159.6,118.78 L160.5,120.23 L161.4,121.23" stroke="#2fe08c" stroke-width="1.1" fill="none"/>
<circle cx="54.8" cy="115.53" r="0.9" fill="#2fe08c"/><circle cx="59.5" cy="111.01" r="0.9" fill="#2fe08c"/><circle cx="64.2" cy="106.2" r="0.9" fill="#2fe08c"/><circle cx="68.9" cy="102.09" r="0.9" fill="#2fe08c"/><circle cx="73.6" cy="99.73" r="0.9" fill="#2fe08c"/><circle cx="78.3" cy="100.11" r="0.9" fill="#2fe08c"/><circle cx="83" cy="104.5" r="0.9" fill="#2fe08c"/><circle cx="87.7" cy="110.98" r="0.9" fill="#2fe08c"/><circle cx="92.4" cy="116.96" r="0.9" fill="#2fe08c"/><circle cx="97.1" cy="121.03" r="0.9" fill="#2fe08c"/><circle cx="101.8" cy="123.17" r="0.9" fill="#2fe08c"/><circle cx="106.5" cy="124.07" r="0.9" fill="#2fe08c"/><circle cx="111.2" cy="124.23" r="0.9" fill="#2fe08c"/><circle cx="115.9" cy="122.98" r="0.9" fill="#2fe08c"/><circle cx="120.6" cy="116.09" r="0.9" fill="#2fe08c"/><circle cx="125.3" cy="97.09" r="0.9" fill="#2fe08c"/><circle cx="130" cy="72.35" r="0.9" fill="#2fe08c"/><circle cx="134.7" cy="61.97" r="0.9" fill="#2fe08c"/><circle cx="139.4" cy="57.19" r="0.9" fill="#2fe08c"/><circle cx="144.1" cy="39.04" r="0.9" fill="#2fe08c"/><circle cx="148.8" cy="46.18" r="0.9" fill="#2fe08c"/><circle cx="153.5" cy="87.4" r="0.9" fill="#2fe08c"/><circle cx="158.2" cy="115.28" r="0.9" fill="#2fe08c"/>
<path d="M54.4,124.49 L55.3,124.49 L56.2,124.49 L57.1,124.49 L58,124.49 L58.9,124.49 L59.79,124.49 L60.69,124.49 L61.59,124.49 L62.49,124.49 L63.39,124.49 L64.29,124.49 L65.19,124.49 L66.09,124.49 L66.99,124.49 L67.89,124.49 L68.79,124.49 L69.69,124.49 L70.58,124.49 L71.48,124.49 L72.38,124.49 L73.28,124.49 L74.18,124.49 L75.08,124.49 L75.98,124.49 L76.88,124.49 L77.78,124.49 L78.68,124.49 L79.58,124.49 L80.48,124.49 L81.37,124.49 L82.27,124.49 L83.17,124.49 L84.07,124.49 L84.97,124.49 L85.87,124.49 L86.77,124.49 L87.67,124.49 L88.57,124.49 L89.47,124.49 L90.37,124.49 L91.27,124.49 L92.16,124.49 L93.06,124.49 L93.96,124.49 L94.86,124.49 L95.76,124.49 L96.66,124.49 L97.56,124.49 L98.46,124.49 L99.36,124.49 L100.26,124.49 L101.16,124.49 L102.06,124.49 L102.95,124.48 L103.85,124.48 L104.75,124.48 L105.65,124.48 L106.55,124.48 L107.45,124.48 L108.35,124.47 L109.25,124.46 L110.15,124.44 L111.05,124.4 L111.95,124.35 L112.85,124.26 L113.74,124.14 L114.64,123.94 L115.54,123.66 L116.44,123.25 L117.34,122.67 L118.24,121.88 L119.14,120.83 L120.04,119.44 L120.94,117.67 L121.84,115.46 L122.74,112.78 L123.64,109.6 L124.53,105.93 L125.43,101.82 L126.33,97.34 L127.23,92.61 L128.13,87.8 L129.03,83.07 L129.93,78.61 L130.83,74.62 L131.73,71.23 L132.63,68.54 L133.53,66.59 L134.43,65.33 L135.32,64.62 L136.22,64.25 L137.12,63.97 L138.02,63.48 L138.92,62.52 L139.82,60.91 L140.72,58.54 L141.62,55.45 L142.52,51.82 L143.42,47.98 L144.32,44.34 L145.22,41.37 L146.11,39.5 L147.01,39.11 L147.91,40.44 L148.81,43.54 L149.71,48.32 L150.61,54.51 L151.51,61.73 L152.41,69.53 L153.31,77.48 L154.21,85.15 L155.11,92.22 L156.01,98.47 L156.9,103.77 L157.8,108.1 L158.7,111.5 L159.6,114.09 L160.5,115.99 L161.4,117.33" stroke="#2aa8e6" stroke-width="1.1" fill="none"/>
<circle cx="54.8" cy="124.49" r="0.9" fill="#2aa8e6"/><circle cx="59.5" cy="124.49" r="0.9" fill="#2aa8e6"/><circle cx="64.2" cy="124.49" r="0.9" fill="#2aa8e6"/><circle cx="68.9" cy="124.49" r="0.9" fill="#2aa8e6"/><circle cx="73.6" cy="124.49" r="0.9" fill="#2aa8e6"/><circle cx="78.3" cy="124.49" r="0.9" fill="#2aa8e6"/><circle cx="83" cy="124.49" r="0.9" fill="#2aa8e6"/><circle cx="87.7" cy="124.49" r="0.9" fill="#2aa8e6"/><circle cx="92.4" cy="124.49" r="0.9" fill="#2aa8e6"/><circle cx="97.1" cy="124.49" r="0.9" fill="#2aa8e6"/><circle cx="101.8" cy="124.49" r="0.9" fill="#2aa8e6"/><circle cx="106.5" cy="124.48" r="0.9" fill="#2aa8e6"/><circle cx="111.2" cy="124.4" r="0.9" fill="#2aa8e6"/><circle cx="115.9" cy="123.51" r="0.9" fill="#2aa8e6"/><circle cx="120.6" cy="118.38" r="0.9" fill="#2aa8e6"/><circle cx="125.3" cy="102.45" r="0.9" fill="#2aa8e6"/><circle cx="130" cy="78.28" r="0.9" fill="#2aa8e6"/><circle cx="134.7" cy="65.06" r="0.9" fill="#2aa8e6"/><circle cx="139.4" cy="61.76" r="0.9" fill="#2aa8e6"/><circle cx="144.1" cy="45.17" r="0.9" fill="#2aa8e6"/><circle cx="148.8" cy="43.49" r="0.9" fill="#2aa8e6"/><circle cx="153.5" cy="79.15" r="0.9" fill="#2aa8e6"/><circle cx="158.2" cy="109.71" r="0.9" fill="#2aa8e6"/>
<path d="M54.4,124.49 L55.3,124.49 L56.2,124.49 L57.1,124.49 L58,124.49 L58.9,124.49 L59.79,124.49 L60.69,124.49 L61.59,124.49 L62.49,124.49 L63.39,124.49 L64.29,124.49 L65.19,124.49 L66.09,124.49 L66.99,124.49 L67.89,124.49 L68.79,124.49 L69.69,124.49 L70.58,124.49 L71.48,124.49 L72.38,124.49 L73.28,124.49 L74.18,124.49 L75.08,124.49 L75.98,124.49 L76.88,124.49 L77.78,124.49 L78.68,124.49 L79.58,124.49 L80.48,124.49 L81.37,124.49 L82.27,124.49 L83.17,124.49 L84.07,124.49 L84.97,124.49 L85.87,124.49 L86.77,124.49 L87.67,124.49 L88.57,124.49 L89.47,124.49 L90.37,124.49 L91.27,124.49 L92.16,124.49 L93.06,124.49 L93.96,124.49 L94.86,124.49 L95.76,124.49 L96.66,124.49 L97.56,124.49 L98.46,124.49 L99.36,124.49 L100.26,124.49 L101.16,124.49 L102.06,124.49 L102.95,124.49 L103.85,124.48 L104.75,124.48 L105.65,124.48 L106.55,124.48 L107.45,124.48 L108.35,124.48 L109.25,124.47 L110.15,124.45 L111.05,124.43 L111.95,124.4 L112.85,124.34 L113.74,124.25 L114.64,124.11 L115.54,123.91 L116.44,123.61 L117.34,123.18 L118.24,122.59 L119.14,121.78 L120.04,120.7 L120.94,119.3 L121.84,117.51 L122.74,115.31 L123.64,112.64 L124.53,109.5 L125.43,105.91 L126.33,101.91 L127.23,97.59 L128.13,93.07 L129.03,88.51 L129.93,84.09 L130.83,79.96 L131.73,76.32 L132.63,73.28 L133.53,70.92 L134.43,69.25 L135.32,68.21 L136.22,67.65 L137.12,67.34 L138.02,67.05 L138.92,66.49 L139.82,65.43 L140.72,63.71 L141.62,61.28 L142.52,58.19 L143.42,54.67 L144.32,51.04 L145.22,47.71 L146.11,45.14 L147.01,43.72 L147.91,43.78 L148.81,45.51 L149.71,48.92 L150.61,53.88 L151.51,60.09 L152.41,67.18 L153.31,74.72 L154.21,82.28 L155.11,89.49 L156.01,96.07 L156.9,101.81 L157.8,106.63 L158.7,110.53 L159.6,113.57 L160.5,115.86 L161.4,117.52" stroke="#1b2fd6" stroke-width="1.1" fill="none"/>
<circle cx="54.8" cy="124.49" r="0.9" fill="#1b2fd6"/><circle cx="59.5" cy="124.49" r="0.9" fill="#1b2fd6"/><circle cx="64.2" cy="124.49" r="0.9" fill="#1b2fd6"/><circle cx="68.9" cy="124.49" r="0.9" fill="#1b2fd6"/><circle cx="73.6" cy="124.49" r="0.9" fill="#1b2fd6"/><circle cx="78.3" cy="124.49" r="0.9" fill="#1b2fd6"/><circle cx="83" cy="124.49" r="0.9" fill="#1b2fd6"/><circle cx="87.7" cy="124.49" r="0.9" fill="#1b2fd6"/><circle cx="92.4" cy="124.49" r="0.9" fill="#1b2fd6"/><circle cx="97.1" cy="124.49" r="0.9" fill="#1b2fd6"/><circle cx="101.8" cy="124.49" r="0.9" fill="#1b2fd6"/><circle cx="106.5" cy="124.48" r="0.9" fill="#1b2fd6"/><circle cx="111.2" cy="124.43" r="0.9" fill="#1b2fd6"/><circle cx="115.9" cy="123.8" r="0.9" fill="#1b2fd6"/><circle cx="120.6" cy="119.87" r="0.9" fill="#1b2fd6"/><circle cx="125.3" cy="106.47" r="0.9" fill="#1b2fd6"/><circle cx="130" cy="83.75" r="0.9" fill="#1b2fd6"/><circle cx="134.7" cy="68.87" r="0.9" fill="#1b2fd6"/><circle cx="139.4" cy="66" r="0.9" fill="#1b2fd6"/><circle cx="144.1" cy="51.9" r="0.9" fill="#1b2fd6"/><circle cx="148.8" cy="45.48" r="0.9" fill="#1b2fd6"/><circle cx="153.5" cy="76.35" r="0.9" fill="#1b2fd6"/><circle cx="158.2" cy="108.46" r="0.9" fill="#1b2fd6"/>
<path d="M54.4,124.49 L55.3,124.49 L56.2,124.49 L57.1,124.49 L58,124.49 L58.9,124.49 L59.79,124.49 L60.69,124.49 L61.59,124.49 L62.49,124.49 L63.39,124.49 L64.29,124.49 L65.19,124.49 L66.09,124.49 L66.99,124.49 L67.89,124.49 L68.79,124.49 L69.69,124.49 L70.58,124.49 L71.48,124.49 L72.38,124.49 L73.28,124.49 L74.18,124.49 L75.08,124.49 L75.98,124.49 L76.88,124.49 L77.78,124.49 L78.68,124.49 L79.58,124.49 L80.48,124.49 L81.37,124.49 L82.27,124.49 L83.17,124.49 L84.07,124.49 L84.97,124.49 L85.87,124.49 L86.77,124.49 L87.67,124.49 L88.57,124.49 L89.47,124.49 L90.37,124.49 L91.27,124.49 L92.16,124.49 L93.06,124.49 L93.96,124.49 L94.86,124.49 L95.76,124.49 L96.66,124.49 L97.56,124.49 L98.46,124.49 L99.36,124.49 L100.26,124.49 L101.16,124.49 L102.06,124.49 L102.95,124.49 L103.85,124.48 L104.75,124.48 L105.65,124.48 L106.55,124.48 L107.45,124.48 L108.35,124.48 L109.25,124.47 L110.15,124.46 L111.05,124.44 L111.95,124.4 L112.85,124.35 L113.74,124.27 L114.64,124.14 L115.54,123.96 L116.44,123.68 L117.34,123.29 L118.24,122.74 L119.14,122 L120.04,121 L120.94,119.7 L121.84,118.04 L122.74,115.99 L123.64,113.5 L124.53,110.57 L125.43,107.21 L126.33,103.46 L127.23,99.4 L128.13,95.15 L129.03,90.84 L129.93,86.65 L130.83,82.73 L131.73,79.24 L132.63,76.32 L133.53,74.05 L134.43,72.42 L135.32,71.39 L136.22,70.83 L137.12,70.52 L138.02,70.23 L138.92,69.71 L139.82,68.73 L140.72,67.13 L141.62,64.83 L142.52,61.9 L143.42,58.52 L144.32,54.99 L145.22,51.69 L146.11,49.04 L147.01,47.42 L147.91,47.14 L148.81,48.39 L149.71,51.21 L150.61,55.49 L151.51,60.97 L152.41,67.31 L153.31,74.13 L154.21,81.03 L155.11,87.66 L156.01,93.73 L156.9,99.06 L157.8,103.56 L158.7,107.21 L159.6,110.07 L160.5,112.22 L161.4,113.79" stroke="#2c0b6e" stroke-width="1.1" fill="none"/>
<circle cx="54.8" cy="124.49" r="0.9" fill="#2c0b6e"/><circle cx="59.5" cy="124.49" r="0.9" fill="#2c0b6e"/><circle cx="64.2" cy="124.49" r="0.9" fill="#2c0b6e"/><circle cx="68.9" cy="124.49" r="0.9" fill="#2c0b6e"/><circle cx="73.6" cy="124.49" r="0.9" fill="#2c0b6e"/><circle cx="78.3" cy="124.49" r="0.9" fill="#2c0b6e"/><circle cx="83" cy="124.49" r="0.9" fill="#2c0b6e"/><circle cx="87.7" cy="124.49" r="0.9" fill="#2c0b6e"/><circle cx="92.4" cy="124.49" r="0.9" fill="#2c0b6e"/><circle cx="97.1" cy="124.49" r="0.9" fill="#2c0b6e"/><circle cx="101.8" cy="124.49" r="0.9" fill="#2c0b6e"/><circle cx="106.5" cy="124.48" r="0.9" fill="#2c0b6e"/><circle cx="111.2" cy="124.43" r="0.9" fill="#2c0b6e"/><circle cx="115.9" cy="123.86" r="0.9" fill="#2c0b6e"/><circle cx="120.6" cy="120.23" r="0.9" fill="#2c0b6e"/><circle cx="125.3" cy="107.74" r="0.9" fill="#2c0b6e"/><circle cx="130" cy="86.33" r="0.9" fill="#2c0b6e"/><circle cx="134.7" cy="72.05" r="0.9" fill="#2c0b6e"/><circle cx="139.4" cy="69.26" r="0.9" fill="#2c0b6e"/><circle cx="144.1" cy="55.83" r="0.9" fill="#2c0b6e"/><circle cx="148.8" cy="48.37" r="0.9" fill="#2c0b6e"/><circle cx="153.5" cy="75.62" r="0.9" fill="#2c0b6e"/><circle cx="158.2" cy="105.27" r="0.9" fill="#2c0b6e"/>
<path d="M54.4,124.49 L55.3,124.49 L56.2,124.49 L57.1,124.49 L58,124.49 L58.9,124.49 L59.79,124.49 L60.69,124.49 L61.59,124.49 L62.49,124.49 L63.39,124.49 L64.29,124.49 L65.19,124.49 L66.09,124.49 L66.99,124.49 L67.89,124.49 L68.79,124.49 L69.69,124.49 L70.58,124.49 L71.48,124.49 L72.38,124.49 L73.28,124.49 L74.18,124.49 L75.08,124.49 L75.98,124.49 L76.88,124.49 L77.78,124.49 L78.68,124.49 L79.58,124.49 L80.48,124.49 L81.37,124.49 L82.27,124.49 L83.17,124.49 L84.07,124.49 L84.97,124.49 L85.87,124.49 L86.77,124.49 L87.67,124.49 L88.57,124.49 L89.47,124.49 L90.37,124.49 L91.27,124.49 L92.16,124.49 L93.06,124.49 L93.96,124.49 L94.86,124.49 L95.76,124.49 L96.66,124.49 L97.56,124.49 L98.46,124.49 L99.36,124.49 L100.26,124.49 L101.16,124.49 L102.06,124.49 L102.95,124.49 L103.85,124.48 L104.75,124.48 L105.65,124.48 L106.55,124.48 L107.45,124.48 L108.35,124.48 L109.25,124.47 L110.15,124.46 L111.05,124.44 L111.95,124.41 L112.85,124.37 L113.74,124.29 L114.64,124.18 L115.54,124.01 L116.44,123.76 L117.34,123.4 L118.24,122.9 L119.14,122.21 L120.04,121.28 L120.94,120.05 L121.84,118.49 L122.74,116.54 L123.64,114.16 L124.53,111.33 L125.43,108.06 L126.33,104.39 L127.23,100.38 L128.13,96.14 L129.03,91.81 L129.93,87.54 L130.83,83.51 L131.73,79.87 L132.63,76.77 L133.53,74.31 L134.43,72.5 L135.32,71.31 L136.22,70.64 L137.12,70.28 L138.02,70.01 L138.92,69.58 L139.82,68.74 L140.72,67.31 L141.62,65.19 L142.52,62.41 L143.42,59.11 L144.32,55.58 L145.22,52.17 L146.11,49.31 L147.01,47.4 L147.91,46.77 L148.81,47.65 L149.71,50.12 L150.61,54.11 L151.51,59.4 L152.41,65.67 L153.31,72.51 L154.21,79.54 L155.11,86.38 L156.01,92.72 L156.9,98.35 L157.8,103.15 L158.7,107.08 L159.6,110.19 L160.5,112.55 L161.4,114.29" stroke="#2a0a5c" stroke-width="1.1" fill="none"/>
<circle cx="54.8" cy="124.49" r="0.9" fill="#2a0a5c"/><circle cx="59.5" cy="124.49" r="0.9" fill="#2a0a5c"/><circle cx="64.2" cy="124.49" r="0.9" fill="#2a0a5c"/><circle cx="68.9" cy="124.49" r="0.9" fill="#2a0a5c"/><circle cx="73.6" cy="124.49" r="0.9" fill="#2a0a5c"/><circle cx="78.3" cy="124.49" r="0.9" fill="#2a0a5c"/><circle cx="83" cy="124.49" r="0.9" fill="#2a0a5c"/><circle cx="87.7" cy="124.49" r="0.9" fill="#2a0a5c"/><circle cx="92.4" cy="124.49" r="0.9" fill="#2a0a5c"/><circle cx="97.1" cy="124.49" r="0.9" fill="#2a0a5c"/><circle cx="101.8" cy="124.49" r="0.9" fill="#2a0a5c"/><circle cx="106.5" cy="124.48" r="0.9" fill="#2a0a5c"/><circle cx="111.2" cy="124.44" r="0.9" fill="#2a0a5c"/><circle cx="115.9" cy="123.92" r="0.9" fill="#2a0a5c"/><circle cx="120.6" cy="120.55" r="0.9" fill="#2a0a5c"/><circle cx="125.3" cy="108.57" r="0.9" fill="#2a0a5c"/><circle cx="130" cy="87.21" r="0.9" fill="#2a0a5c"/><circle cx="134.7" cy="72.07" r="0.9" fill="#2a0a5c"/><circle cx="139.4" cy="69.2" r="0.9" fill="#2a0a5c"/><circle cx="144.1" cy="56.43" r="0.9" fill="#2a0a5c"/><circle cx="148.8" cy="47.63" r="0.9" fill="#2a0a5c"/><circle cx="153.5" cy="74.02" r="0.9" fill="#2a0a5c"/><circle cx="158.2" cy="104.99" r="0.9" fill="#2a0a5c"/>
</g></svg>
<path d="M286.5,145.3 L302.1,197.7 L293.9,197.7 L293.9,376.2 L279.2,376.2 L279.2,197.7 L271.9,197.7 Z" fill="#676767"/>
<text x="289.8" y="286" font-size="9.9" text-anchor="middle" fill="#fff" stroke="#fff" stroke-width="0.12" font-weight="normal" transform="rotate(-90 289.8 286)" >Deposition time</text>
<g stroke="#333" stroke-width="1" fill="none">
<path d="M316.6,379.6 L528.9,379.6 L528.9,166"/>
<path d="M528.9,376 L534,376"/>
<path d="M528.9,326.1 L534,326.1"/>
<path d="M528.9,276.3 L534,276.3"/>
<path d="M528.9,225.6 L534,225.6"/>
<path d="M528.9,175.1 L534,175.1"/>
<path d="M354.2,379.6 L354.2,384.6"/>
<path d="M408.2,379.6 L408.2,384.6"/>
<path d="M462.2,379.6 L462.2,384.6"/>
<path d="M516.2,379.6 L516.2,384.6"/>
</g>
<text x="538.4" y="379.5" font-size="9.7" text-anchor="start" fill="#111" stroke="#111" stroke-width="0.12" font-weight="normal" >0.0</text>
<text x="538.4" y="329.6" font-size="9.7" text-anchor="start" fill="#111" stroke="#111" stroke-width="0.12" font-weight="normal" >0.2</text>
<text x="538.4" y="279.8" font-size="9.7" text-anchor="start" fill="#111" stroke="#111" stroke-width="0.12" font-weight="normal" >0.4</text>
<text x="538.4" y="229.1" font-size="9.7" text-anchor="start" fill="#111" stroke="#111" stroke-width="0.12" font-weight="normal" >0.6</text>
<text x="538.4" y="178.6" font-size="9.7" text-anchor="start" fill="#111" stroke="#111" stroke-width="0.12" font-weight="normal" >0.8</text>
<text x="354.2" y="395.6" font-size="9.7" text-anchor="middle" fill="#111" stroke="#111" stroke-width="0.12" font-weight="normal" >19</text>
<text x="408.2" y="395.6" font-size="9.7" text-anchor="middle" fill="#111" stroke="#111" stroke-width="0.12" font-weight="normal" >18</text>
<text x="462.2" y="395.6" font-size="9.7" text-anchor="middle" fill="#111" stroke="#111" stroke-width="0.12" font-weight="normal" >17</text>
<text x="516.2" y="395.6" font-size="9.7" text-anchor="middle" fill="#111" stroke="#111" stroke-width="0.12" font-weight="normal" >16</text>
<text x="422.6" y="411" font-size="9.7" text-anchor="middle" fill="#111" stroke="#111" stroke-width="0.12" font-weight="normal" >Binding energy (eV)</text>
<text x="566.8" y="221.2" font-size="9.7" text-anchor="middle" fill="#111" stroke="#111" stroke-width="0.12" font-weight="normal" transform="rotate(-90 566.8 221.2)" >Counts (×10<tspan font-size="6.5" dy="-3.5">6</tspan><tspan dy="3.5">)</tspan></text>
<text x="323.6" y="76" font-size="9.8" text-anchor="start" fill="#111" stroke="#111" stroke-width="0.12" font-weight="normal" >In 4d / Hf 4f</text>
<line x1="448.3" y1="64.2" x2="448.3" y2="379.6" stroke="#1a1a1a" stroke-width="1.0" />
<path d="M319.7,359.7 C321.5,359.52 326.88,358.95 330.47,358.6 C334.06,358.25 337.65,358.18 341.24,357.6 C344.83,357.02 348.42,355.98 352.01,355.1 C355.6,354.22 359.19,353 362.78,352.3 C366.37,351.6 369.96,351.72 373.55,350.9 C377.14,350.08 380.73,348.73 384.32,347.4 C387.91,346.07 391.5,343.83 395.09,342.9 C398.68,341.97 402.27,341.52 405.86,341.8 C409.45,342.08 413.04,343.83 416.63,344.6 C420.22,345.37 423.81,346.22 427.4,346.4 C430.99,346.58 434.58,346.03 438.17,345.7 C441.76,345.37 445.35,343.68 448.94,344.4 C452.53,345.12 456.12,347.95 459.71,350 C463.3,352.05 466.89,355.03 470.48,356.7 C474.07,358.37 477.66,359.2 481.25,360 C484.84,360.8 488.43,361.25 492.02,361.5 C495.61,361.75 499.2,361.5 502.79,361.5 C506.38,361.5 509.97,361.53 513.56,361.5 C517.15,361.47 522.53,361.33 524.33,361.3" stroke="#e6151c" stroke-width="1.2" fill="none"/>
<circle cx="319.7" cy="359.7" r="2.3" fill="#e6151c"/><circle cx="330.47" cy="358.6" r="2.3" fill="#e6151c"/><circle cx="341.24" cy="357.6" r="2.3" fill="#e6151c"/><circle cx="352.01" cy="355.1" r="2.3" fill="#e6151c"/><circle cx="362.78" cy="352.3" r="2.3" fill="#e6151c"/><circle cx="373.55" cy="350.9" r="2.3" fill="#e6151c"/><circle cx="384.32" cy="347.4" r="2.3" fill="#e6151c"/><circle cx="395.09" cy="342.9" r="2.3" fill="#e6151c"/><circle cx="405.86" cy="341.8" r="2.3" fill="#e6151c"/><circle cx="416.63" cy="344.6" r="2.3" fill="#e6151c"/><circle cx="427.4" cy="346.4" r="2.3" fill="#e6151c"/><circle cx="438.17" cy="345.7" r="2.3" fill="#e6151c"/><circle cx="448.94" cy="344.4" r="2.3" fill="#e6151c"/><circle cx="459.71" cy="350" r="2.3" fill="#e6151c"/><circle cx="470.48" cy="356.7" r="2.3" fill="#e6151c"/><circle cx="481.25" cy="360" r="2.3" fill="#e6151c"/><circle cx="492.02" cy="361.5" r="2.3" fill="#e6151c"/><circle cx="502.79" cy="361.5" r="2.3" fill="#e6151c"/><circle cx="513.56" cy="361.5" r="2.3" fill="#e6151c"/><circle cx="524.33" cy="361.3" r="2.3" fill="#e6151c"/>
<text x="301.2" y="364" font-size="9.7" text-anchor="start" fill="#111" stroke="#111" stroke-width="0.12" font-weight="normal" >02</text>
<path d="M319.7,332.9 C321.5,332.7 326.88,332.2 330.47,331.7 C334.06,331.2 337.65,330.55 341.24,329.9 C344.83,329.25 348.42,328.55 352.01,327.8 C355.6,327.05 359.19,326.38 362.78,325.4 C366.37,324.42 369.96,322.63 373.55,321.9 C377.14,321.17 380.73,321.88 384.32,321 C387.91,320.12 391.5,317.62 395.09,316.6 C398.68,315.58 402.27,314.73 405.86,314.9 C409.45,315.07 413.04,316.73 416.63,317.6 C420.22,318.47 423.81,319.85 427.4,320.1 C430.99,320.35 434.58,319.68 438.17,319.1 C441.76,318.52 445.35,315.9 448.94,316.6 C452.53,317.3 456.12,321.07 459.71,323.3 C463.3,325.53 466.89,328.4 470.48,330 C474.07,331.6 477.66,332.27 481.25,332.9 C484.84,333.53 488.43,333.55 492.02,333.8 C495.61,334.05 499.2,334.2 502.79,334.4 C506.38,334.6 509.97,334.85 513.56,335 C517.15,335.15 522.53,335.25 524.33,335.3" stroke="#f06a22" stroke-width="1.2" fill="none"/>
<circle cx="319.7" cy="332.9" r="2.3" fill="#f06a22"/><circle cx="330.47" cy="331.7" r="2.3" fill="#f06a22"/><circle cx="341.24" cy="329.9" r="2.3" fill="#f06a22"/><circle cx="352.01" cy="327.8" r="2.3" fill="#f06a22"/><circle cx="362.78" cy="325.4" r="2.3" fill="#f06a22"/><circle cx="373.55" cy="321.9" r="2.3" fill="#f06a22"/><circle cx="384.32" cy="321" r="2.3" fill="#f06a22"/><circle cx="395.09" cy="316.6" r="2.3" fill="#f06a22"/><circle cx="405.86" cy="314.9" r="2.3" fill="#f06a22"/><circle cx="416.63" cy="317.6" r="2.3" fill="#f06a22"/><circle cx="427.4" cy="320.1" r="2.3" fill="#f06a22"/><circle cx="438.17" cy="319.1" r="2.3" fill="#f06a22"/><circle cx="448.94" cy="316.6" r="2.3" fill="#f06a22"/><circle cx="459.71" cy="323.3" r="2.3" fill="#f06a22"/><circle cx="470.48" cy="330" r="2.3" fill="#f06a22"/><circle cx="481.25" cy="332.9" r="2.3" fill="#f06a22"/><circle cx="492.02" cy="333.8" r="2.3" fill="#f06a22"/><circle cx="502.79" cy="334.4" r="2.3" fill="#f06a22"/><circle cx="513.56" cy="335" r="2.3" fill="#f06a22"/><circle cx="524.33" cy="335.3" r="2.3" fill="#f06a22"/>
<text x="301.2" y="337.2" font-size="9.7" text-anchor="start" fill="#111" stroke="#111" stroke-width="0.12" font-weight="normal" >04</text>
<path d="M319.7,305.3 C321.5,304.97 326.88,304.05 330.47,303.3 C334.06,302.55 337.65,301.92 341.24,300.8 C344.83,299.68 348.42,297.93 352.01,296.6 C355.6,295.27 359.19,293.85 362.78,292.8 C366.37,291.75 369.96,291.47 373.55,290.3 C377.14,289.13 380.73,286.97 384.32,285.8 C387.91,284.63 391.5,283.53 395.09,283.3 C398.68,283.07 402.27,283.82 405.86,284.4 C409.45,284.98 413.04,286.22 416.63,286.8 C420.22,287.38 423.81,288.48 427.4,287.9 C430.99,287.32 434.58,284.65 438.17,283.3 C441.76,281.95 445.35,279.62 448.94,279.8 C452.53,279.98 456.12,282.47 459.71,284.4 C463.3,286.33 466.89,289.37 470.48,291.4 C474.07,293.43 477.66,294.92 481.25,296.6 C484.84,298.28 488.43,300.33 492.02,301.5 C495.61,302.67 499.2,302.95 502.79,303.6 C506.38,304.25 509.97,304.87 513.56,305.4 C517.15,305.93 522.53,306.57 524.33,306.8" stroke="#f4ee22" stroke-width="1.2" fill="none"/>
<circle cx="319.7" cy="305.3" r="2.3" fill="#f4ee22"/><circle cx="330.47" cy="303.3" r="2.3" fill="#f4ee22"/><circle cx="341.24" cy="300.8" r="2.3" fill="#f4ee22"/><circle cx="352.01" cy="296.6" r="2.3" fill="#f4ee22"/><circle cx="362.78" cy="292.8" r="2.3" fill="#f4ee22"/><circle cx="373.55" cy="290.3" r="2.3" fill="#f4ee22"/><circle cx="384.32" cy="285.8" r="2.3" fill="#f4ee22"/><circle cx="395.09" cy="283.3" r="2.3" fill="#f4ee22"/><circle cx="405.86" cy="284.4" r="2.3" fill="#f4ee22"/><circle cx="416.63" cy="286.8" r="2.3" fill="#f4ee22"/><circle cx="427.4" cy="287.9" r="2.3" fill="#f4ee22"/><circle cx="438.17" cy="283.3" r="2.3" fill="#f4ee22"/><circle cx="448.94" cy="279.8" r="2.3" fill="#f4ee22"/><circle cx="459.71" cy="284.4" r="2.3" fill="#f4ee22"/><circle cx="470.48" cy="291.4" r="2.3" fill="#f4ee22"/><circle cx="481.25" cy="296.6" r="2.3" fill="#f4ee22"/><circle cx="492.02" cy="301.5" r="2.3" fill="#f4ee22"/><circle cx="502.79" cy="303.6" r="2.3" fill="#f4ee22"/><circle cx="513.56" cy="305.4" r="2.3" fill="#f4ee22"/><circle cx="524.33" cy="306.8" r="2.3" fill="#f4ee22"/>
<text x="301.2" y="309.6" font-size="9.7" text-anchor="start" fill="#111" stroke="#111" stroke-width="0.12" font-weight="normal" >06</text>
<path d="M319.7,276.4 C321.5,275.98 326.88,274.97 330.47,273.9 C334.06,272.83 337.65,271.93 341.24,270 C344.83,268.07 348.42,265.03 352.01,262.3 C355.6,259.57 359.19,256.35 362.78,253.6 C366.37,250.85 369.96,247.57 373.55,245.8 C377.14,244.03 380.73,243.75 384.32,243 C387.91,242.25 391.5,241 395.09,241.3 C398.68,241.6 402.27,243.35 405.86,244.8 C409.45,246.25 413.04,248.95 416.63,250 C420.22,251.05 423.81,252.27 427.4,251.1 C430.99,249.93 434.58,245.97 438.17,243 C441.76,240.03 445.35,234.98 448.94,233.3 C452.53,231.62 456.12,232.33 459.71,232.9 C463.3,233.47 466.89,234.72 470.48,236.7 C474.07,238.68 477.66,241.87 481.25,244.8 C484.84,247.73 488.43,250.97 492.02,254.3 C495.61,257.63 499.2,261.72 502.79,264.8 C506.38,267.88 509.97,270.7 513.56,272.8 C517.15,274.9 522.53,276.63 524.33,277.4" stroke="#22d12a" stroke-width="1.2" fill="none"/>
<circle cx="319.7" cy="276.4" r="2.3" fill="#22d12a"/><circle cx="330.47" cy="273.9" r="2.3" fill="#22d12a"/><circle cx="341.24" cy="270" r="2.3" fill="#22d12a"/><circle cx="352.01" cy="262.3" r="2.3" fill="#22d12a"/><circle cx="362.78" cy="253.6" r="2.3" fill="#22d12a"/><circle cx="373.55" cy="245.8" r="2.3" fill="#22d12a"/><circle cx="384.32" cy="243" r="2.3" fill="#22d12a"/><circle cx="395.09" cy="241.3" r="2.3" fill="#22d12a"/><circle cx="405.86" cy="244.8" r="2.3" fill="#22d12a"/><circle cx="416.63" cy="250" r="2.3" fill="#22d12a"/><circle cx="427.4" cy="251.1" r="2.3" fill="#22d12a"/><circle cx="438.17" cy="243" r="2.3" fill="#22d12a"/><circle cx="448.94" cy="233.3" r="2.3" fill="#22d12a"/><circle cx="459.71" cy="232.9" r="2.3" fill="#22d12a"/><circle cx="470.48" cy="236.7" r="2.3" fill="#22d12a"/><circle cx="481.25" cy="244.8" r="2.3" fill="#22d12a"/><circle cx="492.02" cy="254.3" r="2.3" fill="#22d12a"/><circle cx="502.79" cy="264.8" r="2.3" fill="#22d12a"/><circle cx="513.56" cy="272.8" r="2.3" fill="#22d12a"/><circle cx="524.33" cy="277.4" r="2.3" fill="#22d12a"/>
<text x="301.2" y="280.7" font-size="9.7" text-anchor="start" fill="#111" stroke="#111" stroke-width="0.12" font-weight="normal" >08</text>
<path d="M319.7,246.5 C321.5,245.45 326.88,242.93 330.47,240.2 C334.06,237.47 337.65,234.3 341.24,230.1 C344.83,225.9 348.42,219.67 352.01,215 C355.6,210.33 359.19,205.6 362.78,202.1 C366.37,198.6 369.96,195.05 373.55,194 C377.14,192.95 380.73,194.17 384.32,195.8 C387.91,197.43 391.5,201.3 395.09,203.8 C398.68,206.3 402.27,209.22 405.86,210.8 C409.45,212.38 413.04,214.17 416.63,213.3 C420.22,212.43 423.81,209.87 427.4,205.6 C430.99,201.33 434.58,193.45 438.17,187.7 C441.76,181.95 445.35,174.42 448.94,171.1 C452.53,167.78 456.12,166.32 459.71,167.8 C463.3,169.28 466.89,174.63 470.48,180 C474.07,185.37 477.66,193.15 481.25,200 C484.84,206.85 488.43,214.8 492.02,221.1 C495.61,227.4 499.2,233.4 502.79,237.8 C506.38,242.2 509.97,245.05 513.56,247.5 C517.15,249.95 522.53,251.67 524.33,252.5" stroke="#2ee6f2" stroke-width="1.2" fill="none"/>
<circle cx="319.7" cy="246.5" r="2.3" fill="#2ee6f2"/><circle cx="330.47" cy="240.2" r="2.3" fill="#2ee6f2"/><circle cx="341.24" cy="230.1" r="2.3" fill="#2ee6f2"/><circle cx="352.01" cy="215" r="2.3" fill="#2ee6f2"/><circle cx="362.78" cy="202.1" r="2.3" fill="#2ee6f2"/><circle cx="373.55" cy="194" r="2.3" fill="#2ee6f2"/><circle cx="384.32" cy="195.8" r="2.3" fill="#2ee6f2"/><circle cx="395.09" cy="203.8" r="2.3" fill="#2ee6f2"/><circle cx="405.86" cy="210.8" r="2.3" fill="#2ee6f2"/><circle cx="416.63" cy="213.3" r="2.3" fill="#2ee6f2"/><circle cx="427.4" cy="205.6" r="2.3" fill="#2ee6f2"/><circle cx="438.17" cy="187.7" r="2.3" fill="#2ee6f2"/><circle cx="448.94" cy="171.1" r="2.3" fill="#2ee6f2"/><circle cx="459.71" cy="167.8" r="2.3" fill="#2ee6f2"/><circle cx="470.48" cy="180" r="2.3" fill="#2ee6f2"/><circle cx="481.25" cy="200" r="2.3" fill="#2ee6f2"/><circle cx="492.02" cy="221.1" r="2.3" fill="#2ee6f2"/><circle cx="502.79" cy="237.8" r="2.3" fill="#2ee6f2"/><circle cx="513.56" cy="247.5" r="2.3" fill="#2ee6f2"/><circle cx="524.33" cy="252.5" r="2.3" fill="#2ee6f2"/>
<text x="301.2" y="250.8" font-size="9.7" text-anchor="start" fill="#111" stroke="#111" stroke-width="0.12" font-weight="normal" >10</text>
<path d="M319.7,216.1 C321.5,214.05 326.88,208.18 330.47,203.8 C334.06,199.42 337.65,194.18 341.24,189.8 C344.83,185.42 348.42,181.08 352.01,177.5 C355.6,173.92 359.19,169.32 362.78,168.3 C366.37,167.28 369.96,169.72 373.55,171.4 C377.14,173.08 380.73,176.28 384.32,178.4 C387.91,180.52 391.5,182.88 395.09,184.1 C398.68,185.32 402.27,186.12 405.86,185.7 C409.45,185.28 413.04,184.5 416.63,181.6 C420.22,178.7 423.81,173.77 427.4,168.3 C430.99,162.83 434.58,154.45 438.17,148.8 C441.76,143.15 445.35,135.42 448.94,134.4 C452.53,133.38 456.12,137.5 459.71,142.7 C463.3,147.9 466.89,157.72 470.48,165.6 C474.07,173.48 477.66,182.6 481.25,190 C484.84,197.4 488.43,204.63 492.02,210 C495.61,215.37 499.2,219.13 502.79,222.2 C506.38,225.27 509.97,226.92 513.56,228.4 C517.15,229.88 522.53,230.65 524.33,231.1" stroke="#1f5ae6" stroke-width="1.2" fill="none"/>
<circle cx="319.7" cy="216.1" r="2.3" fill="#1f5ae6"/><circle cx="330.47" cy="203.8" r="2.3" fill="#1f5ae6"/><circle cx="341.24" cy="189.8" r="2.3" fill="#1f5ae6"/><circle cx="352.01" cy="177.5" r="2.3" fill="#1f5ae6"/><circle cx="362.78" cy="168.3" r="2.3" fill="#1f5ae6"/><circle cx="373.55" cy="171.4" r="2.3" fill="#1f5ae6"/><circle cx="384.32" cy="178.4" r="2.3" fill="#1f5ae6"/><circle cx="395.09" cy="184.1" r="2.3" fill="#1f5ae6"/><circle cx="405.86" cy="185.7" r="2.3" fill="#1f5ae6"/><circle cx="416.63" cy="181.6" r="2.3" fill="#1f5ae6"/><circle cx="427.4" cy="168.3" r="2.3" fill="#1f5ae6"/><circle cx="438.17" cy="148.8" r="2.3" fill="#1f5ae6"/><circle cx="448.94" cy="134.4" r="2.3" fill="#1f5ae6"/><circle cx="459.71" cy="142.7" r="2.3" fill="#1f5ae6"/><circle cx="470.48" cy="165.6" r="2.3" fill="#1f5ae6"/><circle cx="481.25" cy="190" r="2.3" fill="#1f5ae6"/><circle cx="492.02" cy="210" r="2.3" fill="#1f5ae6"/><circle cx="502.79" cy="222.2" r="2.3" fill="#1f5ae6"/><circle cx="513.56" cy="228.4" r="2.3" fill="#1f5ae6"/><circle cx="524.33" cy="231.1" r="2.3" fill="#1f5ae6"/>
<text x="301.2" y="220.4" font-size="9.7" text-anchor="start" fill="#111" stroke="#111" stroke-width="0.12" font-weight="normal" >12</text>
<path d="M319.7,189.8 C321.5,187.63 326.88,181.55 330.47,176.8 C334.06,172.05 337.65,165.9 341.24,161.3 C344.83,156.7 348.42,151.63 352.01,149.2 C355.6,146.77 359.19,146.28 362.78,146.7 C366.37,147.12 369.96,149.43 373.55,151.7 C377.14,153.97 380.73,158.07 384.32,160.3 C387.91,162.53 391.5,164.42 395.09,165.1 C398.68,165.78 402.27,166.1 405.86,164.4 C409.45,162.7 413.04,159.45 416.63,154.9 C420.22,150.35 423.81,142.47 427.4,137.1 C430.99,131.73 434.58,126.93 438.17,122.7 C441.76,118.47 445.35,111.48 448.94,111.7 C452.53,111.92 456.12,118.1 459.71,124 C463.3,129.9 466.89,138.88 470.48,147.1 C474.07,155.32 477.66,165.78 481.25,173.3 C484.84,180.82 488.43,187.3 492.02,192.2 C495.61,197.1 499.2,200.28 502.79,202.7 C506.38,205.12 509.97,205.67 513.56,206.7 C517.15,207.73 522.53,208.53 524.33,208.9" stroke="#8a22d8" stroke-width="1.2" fill="none"/>
<circle cx="319.7" cy="189.8" r="2.3" fill="#8a22d8"/><circle cx="330.47" cy="176.8" r="2.3" fill="#8a22d8"/><circle cx="341.24" cy="161.3" r="2.3" fill="#8a22d8"/><circle cx="352.01" cy="149.2" r="2.3" fill="#8a22d8"/><circle cx="362.78" cy="146.7" r="2.3" fill="#8a22d8"/><circle cx="373.55" cy="151.7" r="2.3" fill="#8a22d8"/><circle cx="384.32" cy="160.3" r="2.3" fill="#8a22d8"/><circle cx="395.09" cy="165.1" r="2.3" fill="#8a22d8"/><circle cx="405.86" cy="164.4" r="2.3" fill="#8a22d8"/><circle cx="416.63" cy="154.9" r="2.3" fill="#8a22d8"/><circle cx="427.4" cy="137.1" r="2.3" fill="#8a22d8"/><circle cx="438.17" cy="122.7" r="2.3" fill="#8a22d8"/><circle cx="448.94" cy="111.7" r="2.3" fill="#8a22d8"/><circle cx="459.71" cy="124" r="2.3" fill="#8a22d8"/><circle cx="470.48" cy="147.1" r="2.3" fill="#8a22d8"/><circle cx="481.25" cy="173.3" r="2.3" fill="#8a22d8"/><circle cx="492.02" cy="192.2" r="2.3" fill="#8a22d8"/><circle cx="502.79" cy="202.7" r="2.3" fill="#8a22d8"/><circle cx="513.56" cy="206.7" r="2.3" fill="#8a22d8"/><circle cx="524.33" cy="208.9" r="2.3" fill="#8a22d8"/>
<text x="301.2" y="194.1" font-size="9.7" text-anchor="start" fill="#111" stroke="#111" stroke-width="0.12" font-weight="normal" >14</text>
<path d="M319.7,164.4 C321.5,162.13 326.88,155.35 330.47,150.8 C334.06,146.25 337.65,141.07 341.24,137.1 C344.83,133.13 348.42,128.8 352.01,127 C355.6,125.2 359.19,124.82 362.78,126.3 C366.37,127.78 369.96,133.57 373.55,135.9 C377.14,138.23 380.73,138.88 384.32,140.3 C387.91,141.72 391.5,144.4 395.09,144.4 C398.68,144.4 402.27,142.67 405.86,140.3 C409.45,137.93 413.04,134.8 416.63,130.2 C420.22,125.6 423.81,117.78 427.4,112.7 C430.99,107.62 434.58,103.03 438.17,99.7 C441.76,96.37 445.35,91.97 448.94,92.7 C452.53,93.43 456.12,98.1 459.71,104.1 C463.3,110.1 466.89,120.68 470.48,128.7 C474.07,136.72 477.66,145.13 481.25,152.2 C484.84,159.27 488.43,166.35 492.02,171.1 C495.61,175.85 499.2,178.4 502.79,180.7 C506.38,183 509.97,183.9 513.56,184.9 C517.15,185.9 522.53,186.4 524.33,186.7" stroke="#2e0c6c" stroke-width="1.2" fill="none"/>
<circle cx="319.7" cy="164.4" r="2.3" fill="#2e0c6c"/><circle cx="330.47" cy="150.8" r="2.3" fill="#2e0c6c"/><circle cx="341.24" cy="137.1" r="2.3" fill="#2e0c6c"/><circle cx="352.01" cy="127" r="2.3" fill="#2e0c6c"/><circle cx="362.78" cy="126.3" r="2.3" fill="#2e0c6c"/><circle cx="373.55" cy="135.9" r="2.3" fill="#2e0c6c"/><circle cx="384.32" cy="140.3" r="2.3" fill="#2e0c6c"/><circle cx="395.09" cy="144.4" r="2.3" fill="#2e0c6c"/><circle cx="405.86" cy="140.3" r="2.3" fill="#2e0c6c"/><circle cx="416.63" cy="130.2" r="2.3" fill="#2e0c6c"/><circle cx="427.4" cy="112.7" r="2.3" fill="#2e0c6c"/><circle cx="438.17" cy="99.7" r="2.3" fill="#2e0c6c"/><circle cx="448.94" cy="92.7" r="2.3" fill="#2e0c6c"/><circle cx="459.71" cy="104.1" r="2.3" fill="#2e0c6c"/><circle cx="470.48" cy="128.7" r="2.3" fill="#2e0c6c"/><circle cx="481.25" cy="152.2" r="2.3" fill="#2e0c6c"/><circle cx="492.02" cy="171.1" r="2.3" fill="#2e0c6c"/><circle cx="502.79" cy="180.7" r="2.3" fill="#2e0c6c"/><circle cx="513.56" cy="184.9" r="2.3" fill="#2e0c6c"/><circle cx="524.33" cy="186.7" r="2.3" fill="#2e0c6c"/>
<text x="301.2" y="168.7" font-size="9.7" text-anchor="start" fill="#111" stroke="#111" stroke-width="0.12" font-weight="normal" >16</text>
<path d="M319.7,138 C321.5,135.53 326.88,127.95 330.47,123.2 C334.06,118.45 337.65,113.2 341.24,109.5 C344.83,105.8 348.42,102.32 352.01,101 C355.6,99.68 359.19,100.18 362.78,101.6 C366.37,103.02 369.96,107.02 373.55,109.5 C377.14,111.98 380.73,114.8 384.32,116.5 C387.91,118.2 391.5,120.28 395.09,119.7 C398.68,119.12 402.27,115.92 405.86,113 C409.45,110.08 413.04,106.48 416.63,102.2 C420.22,97.92 423.81,91.98 427.4,87.3 C430.99,82.62 434.58,77.15 438.17,74.1 C441.76,71.05 445.35,67.9 448.94,69 C452.53,70.1 456.12,74.38 459.71,80.7 C463.3,87.02 466.89,98.73 470.48,106.9 C474.07,115.07 477.66,122.85 481.25,129.7 C484.84,136.55 488.43,143.28 492.02,148 C495.61,152.72 499.2,155.67 502.79,158 C506.38,160.33 509.97,161 513.56,162 C517.15,163 522.53,163.67 524.33,164" stroke="#2b0a5e" stroke-width="1.2" fill="none"/>
<circle cx="319.7" cy="138" r="2.3" fill="#2b0a5e"/><circle cx="330.47" cy="123.2" r="2.3" fill="#2b0a5e"/><circle cx="341.24" cy="109.5" r="2.3" fill="#2b0a5e"/><circle cx="352.01" cy="101" r="2.3" fill="#2b0a5e"/><circle cx="362.78" cy="101.6" r="2.3" fill="#2b0a5e"/><circle cx="373.55" cy="109.5" r="2.3" fill="#2b0a5e"/><circle cx="384.32" cy="116.5" r="2.3" fill="#2b0a5e"/><circle cx="395.09" cy="119.7" r="2.3" fill="#2b0a5e"/><circle cx="405.86" cy="113" r="2.3" fill="#2b0a5e"/><circle cx="416.63" cy="102.2" r="2.3" fill="#2b0a5e"/><circle cx="427.4" cy="87.3" r="2.3" fill="#2b0a5e"/><circle cx="438.17" cy="74.1" r="2.3" fill="#2b0a5e"/><circle cx="448.94" cy="69" r="2.3" fill="#2b0a5e"/><circle cx="459.71" cy="80.7" r="2.3" fill="#2b0a5e"/><circle cx="470.48" cy="106.9" r="2.3" fill="#2b0a5e"/><circle cx="481.25" cy="129.7" r="2.3" fill="#2b0a5e"/><circle cx="492.02" cy="148" r="2.3" fill="#2b0a5e"/><circle cx="502.79" cy="158" r="2.3" fill="#2b0a5e"/><circle cx="513.56" cy="162" r="2.3" fill="#2b0a5e"/><circle cx="524.33" cy="164" r="2.3" fill="#2b0a5e"/>
<text x="301.2" y="142.3" font-size="9.7" text-anchor="start" fill="#111" stroke="#111" stroke-width="0.12" font-weight="normal" >18</text>
<rect x="483" y="5.6" width="142.3" height="160.6" fill="#fff" stroke="#3a3a3a" stroke-width="1.1"/>
<g stroke="#333" stroke-width="1" fill="none">
<path d="M515.7,14.4 L515.7,134.1 L623.5,134.1"/>
<path d="M511.7,42.9 L515.7,42.9"/>
<path d="M511.7,73.3 L515.7,73.3"/>
<path d="M511.7,103.7 L515.7,103.7"/>
<path d="M534.6,134.1 L534.6,138.1"/>
<path d="M561.5,134.1 L561.5,138.1"/>
<path d="M588.4,134.1 L588.4,138.1"/>
<path d="M615.3,134.1 L615.3,138.1"/>
</g>
<text x="508.8" y="46.3" font-size="9.5" text-anchor="end" fill="#111" stroke="#111" stroke-width="0.12" font-weight="normal" >3</text>
<text x="508.8" y="76.7" font-size="9.5" text-anchor="end" fill="#111" stroke="#111" stroke-width="0.12" font-weight="normal" >2</text>
<text x="508.8" y="107.1" font-size="9.5" text-anchor="end" fill="#111" stroke="#111" stroke-width="0.12" font-weight="normal" >1</text>
<text x="534.6" y="148.5" font-size="9.5" text-anchor="middle" fill="#111" stroke="#111" stroke-width="0.12" font-weight="normal" >19</text>
<text x="561.5" y="148.5" font-size="9.5" text-anchor="middle" fill="#111" stroke="#111" stroke-width="0.12" font-weight="normal" >18</text>
<text x="588.4" y="148.5" font-size="9.5" text-anchor="middle" fill="#111" stroke="#111" stroke-width="0.12" font-weight="normal" >17</text>
<text x="615.3" y="148.5" font-size="9.5" text-anchor="middle" fill="#111" stroke="#111" stroke-width="0.12" font-weight="normal" >16</text>
<text x="572.5" y="162.7" font-size="9.7" text-anchor="middle" fill="#111" stroke="#111" stroke-width="0.12" font-weight="normal" >Binding energy (eV)</text>
<text x="494.6" y="73.3" font-size="10.2" text-anchor="middle" fill="#111" stroke="#111" stroke-width="0.12" font-weight="normal" transform="rotate(-90 494.6 73.3)" >Counts (×10<tspan font-size="7" dy="-3.8">5</tspan><tspan dy="3.8">)</tspan></text>
<svg x="515.7" y="5.6" width="107.8" height="128.5" overflow="hidden"><g transform="translate(-515.7,-5.6)">
<path d="M515.9,132.1 C519.18,130.62 530.02,126 535.6,123.2 C541.18,120.4 545.3,117.67 549.4,115.3 C553.5,112.93 556.42,109.07 560.2,109 C563.98,108.93 568.15,114.5 572.1,114.9 C576.05,115.3 580.45,110.02 583.9,111.4 C587.35,112.78 589.68,120.08 592.8,123.2 C595.92,126.32 599.4,128.58 602.6,130.1 C605.8,131.62 608.72,131.82 612,132.3 C615.28,132.78 620.58,132.88 622.3,133" stroke="#e63a1c" stroke-width="1.2" fill="none"/>
<path d="M515.9,131.5 C519.18,130.02 530.02,125.47 535.6,122.6 C541.18,119.73 545.3,116.7 549.4,114.3 C553.5,111.9 556.42,108.22 560.2,108.2 C563.98,108.18 568.15,113.83 572.1,114.2 C576.05,114.57 580.45,108.97 583.9,110.4 C587.35,111.83 589.68,119.57 592.8,122.8 C595.92,126.03 599.4,128.25 602.6,129.8 C605.8,131.35 608.72,131.6 612,132.1 C615.28,132.6 620.58,132.68 622.3,132.8" stroke="#f0641e" stroke-width="1.2" fill="none"/>
<path d="M515.9,131.1 C519.18,129.13 530.18,122.92 535.6,119.3 C541.02,115.68 544.62,111.87 548.4,109.4 C552.18,106.93 554.35,104.5 558.3,104.5 C562.25,104.5 567.73,110.12 572.1,109.4 C576.47,108.68 580.73,99.87 584.5,100.2 C588.27,100.53 591.35,107.23 594.7,111.4 C598.05,115.57 601.55,122.07 604.6,125.2 C607.65,128.33 610.05,129.07 613,130.2 C615.95,131.33 620.75,131.7 622.3,132" stroke="#f5e61e" stroke-width="1.2" fill="none"/>
<path d="M515.9,129.1 C518.2,126.8 525.43,120.88 529.7,115.3 C533.97,109.72 537.4,100.45 541.5,95.6 C545.6,90.75 550.85,87.18 554.3,86.2 C557.75,85.22 559.4,87.8 562.2,89.7 C565,91.6 568.3,98.58 571.1,97.6 C573.9,96.62 576.22,87.48 579,83.8 C581.78,80.12 584.85,75.98 587.8,75.5 C590.75,75.02 593.57,75.57 596.7,80.9 C599.83,86.23 603.32,100.12 606.6,107.5 C609.88,114.88 613.78,121.2 616.4,125.2 C619.02,129.2 621.32,130.45 622.3,131.5" stroke="#2ccf2a" stroke-width="1.2" fill="none"/>
<path d="M515.9,123.2 C517.87,117.62 524.42,98.57 527.7,89.7 C530.98,80.83 532.32,75.18 535.6,70 C538.88,64.82 543.78,58.27 547.4,58.6 C551.02,58.93 554.17,68.07 557.3,72 C560.43,75.93 563.25,84.17 566.2,82.2 C569.15,80.23 571.72,69.28 575,60.2 C578.28,51.12 582.62,30.33 585.9,27.7 C589.18,25.07 591.58,34.07 594.7,44.4 C597.82,54.73 601.32,76.88 604.6,89.7 C607.88,102.52 611.45,114.42 614.4,121.3 C617.35,128.18 620.98,129.38 622.3,131" stroke="#36dcee" stroke-width="0.9" fill="none"/>
<path d="M515.5,105.5 C516.48,101.88 519.43,90.37 521.4,83.8 C523.37,77.23 524.67,70.7 527.3,66.1 C529.93,61.5 534.07,56.7 537.2,56.2 C540.33,55.7 543.32,59.48 546.1,63.1 C548.88,66.72 552.02,75.12 553.9,77.9 C555.78,80.68 555.75,80.78 557.4,79.8 C559.05,78.82 561.25,77.9 563.8,72 C566.35,66.1 569.42,53.92 572.7,44.4 C575.98,34.88 580.22,15.23 583.5,14.9 C586.78,14.57 589.28,29.27 592.4,42.4 C595.52,55.53 598.92,80.55 602.2,93.7 C605.48,106.85 608.82,115.07 612.1,121.3 C615.38,127.53 620.27,129.47 621.9,131.1" stroke="#3a1a98" stroke-width="1.0" fill="none"/>
<path d="M515.9,106.47 C516.88,102.82 519.83,91.21 521.8,84.57 C523.77,77.94 525.07,71.36 527.7,66.68 C530.33,61.99 534.47,57.04 537.6,56.45 C540.73,55.85 543.72,59.52 546.5,63.1 C549.28,66.68 552.42,75.12 554.3,77.9 C556.18,80.68 556.15,80.76 557.8,79.8 C559.45,78.84 561.65,78 564.2,72.12 C566.75,66.24 569.82,54.04 573.1,44.52 C576.38,35 580.62,15.35 583.9,15.02 C587.18,14.69 589.68,29.39 592.8,42.52 C595.92,55.65 599.32,80.67 602.6,93.82 C605.88,106.97 609.22,115.19 612.5,121.42 C615.78,127.65 620.67,129.59 622.3,131.22" stroke="#2a0c70" stroke-width="1.0" fill="none"/>
<path d="M516.3,104.05 C517.28,100.48 520.23,89.11 522.2,82.64 C524.17,76.17 525.47,69.7 528.1,65.23 C530.73,60.77 534.87,56.19 538,55.83 C541.13,55.47 544.12,59.42 546.9,63.1 C549.68,66.78 552.82,75.12 554.7,77.9 C556.58,80.68 556.55,80.74 558.2,79.8 C559.85,78.86 562.05,78.1 564.6,72.24 C567.15,66.38 570.22,54.16 573.5,44.64 C576.78,35.12 581.02,15.47 584.3,15.14 C587.58,14.81 590.08,29.51 593.2,42.64 C596.32,55.77 599.72,80.79 603,93.94 C606.28,107.09 609.62,115.31 612.9,121.54 C616.18,127.77 621.07,129.71 622.7,131.34" stroke="#5028b8" stroke-width="1.0" fill="none"/>
<path d="M516.8,107.92 C517.78,104.23 520.73,92.46 522.7,85.73 C524.67,79 525.97,72.36 528.6,67.54 C531.23,62.72 535.37,57.56 538.5,56.82 C541.63,56.08 544.62,59.59 547.4,63.1 C550.18,66.61 553.32,75.12 555.2,77.9 C557.08,80.68 557.05,80.72 558.7,79.8 C560.35,78.88 562.55,78.2 565.1,72.36 C567.65,66.52 570.72,54.28 574,44.76 C577.28,35.24 581.52,15.59 584.8,15.26 C588.08,14.93 590.58,29.63 593.7,42.76 C596.82,55.89 600.22,80.91 603.5,94.06 C606.78,107.21 610.12,115.43 613.4,121.66 C616.68,127.89 621.57,129.83 623.2,131.46" stroke="#4a2ac0" stroke-width="1.0" fill="none"/>
<path d="M517.3,113.26 C518.28,109.38 521.23,97.08 523.2,89.99 C525.17,82.9 526.47,76.02 529.1,70.71 C531.73,65.41 535.87,59.44 539,58.17 C542.13,56.9 545.12,59.81 547.9,63.1 C550.68,66.39 553.82,75.12 555.7,77.9 C557.58,80.68 557.55,80.7 559.2,79.8 C560.85,78.9 563.05,78.3 565.6,72.48 C568.15,66.66 571.22,54.4 574.5,44.88 C577.78,35.36 582.02,15.71 585.3,15.38 C588.58,15.05 591.08,29.75 594.2,42.88 C597.32,56.01 600.72,81.03 604,94.18 C607.28,107.33 610.62,115.55 613.9,121.78 C617.18,128.01 622.07,129.95 623.7,131.58" stroke="#6a44dc" stroke-width="1.0" fill="none"/>
<path d="M515,110.35 C515.98,106.57 518.93,94.56 520.9,87.67 C522.87,80.77 524.17,74.02 526.8,68.98 C529.43,63.94 533.57,58.41 536.7,57.43 C539.83,56.45 542.82,59.69 545.6,63.1 C548.38,66.51 551.52,75.12 553.4,77.9 C555.28,80.68 555.25,80.68 556.9,79.8 C558.55,78.92 560.75,78.4 563.3,72.6 C565.85,66.8 568.92,54.52 572.2,45 C575.48,35.48 579.72,15.83 583,15.5 C586.28,15.17 588.78,29.87 591.9,43 C595.02,56.13 598.42,81.15 601.7,94.3 C604.98,107.45 608.32,115.67 611.6,121.9 C614.88,128.13 619.77,130.07 621.4,131.7" stroke="#5a36d0" stroke-width="1.0" fill="none"/>
</g></svg>
<line x1="538.9" y1="81" x2="544.3" y2="81" stroke="#777" stroke-width="0.9" />
<g stroke="#333" stroke-width="1" fill="none">
<path d="M42,433.9 L42,652.5 L211.4,652.5"/>
<path d="M36.5,461.65 L42,461.65"/>
<path d="M36.5,493 L42,493"/>
<path d="M36.5,524.35 L42,524.35"/>
<path d="M36.5,555.7 L42,555.7"/>
<path d="M36.5,587.05 L42,587.05"/>
<path d="M36.5,618.4 L42,618.4"/>
<path d="M36.5,649.75 L42,649.75"/>
<path d="M66.3,652.5 L66.3,656.7"/>
<path d="M116.7,652.5 L116.7,656.7"/>
<path d="M167.1,652.5 L167.1,656.7"/>
</g>
<text x="33.3" y="496.5" font-size="9.7" text-anchor="end" fill="#111" stroke="#111" stroke-width="0.12" font-weight="normal" >3</text>
<text x="33.3" y="559.2" font-size="9.7" text-anchor="end" fill="#111" stroke="#111" stroke-width="0.12" font-weight="normal" >2</text>
<text x="33.3" y="621.9" font-size="9.7" text-anchor="end" fill="#111" stroke="#111" stroke-width="0.12" font-weight="normal" >1</text>
<text x="66.3" y="668.6" font-size="9.7" text-anchor="middle" fill="#111" stroke="#111" stroke-width="0.12" font-weight="normal" >446</text>
<text x="116.7" y="668.6" font-size="9.7" text-anchor="middle" fill="#111" stroke="#111" stroke-width="0.12" font-weight="normal" >445</text>
<text x="167.1" y="668.6" font-size="9.7" text-anchor="middle" fill="#111" stroke="#111" stroke-width="0.12" font-weight="normal" >444</text>
<text x="123.8" y="682" font-size="9.7" text-anchor="middle" fill="#111" stroke="#111" stroke-width="0.12" font-weight="normal" >Binding energy (eV)</text>
<text x="19.6" y="543" font-size="9.7" text-anchor="middle" fill="#111" stroke="#111" stroke-width="0.12" font-weight="normal" transform="rotate(-90 19.6 543)" >Counts (×10<tspan font-size="6.5" dy="-3.5">5</tspan><tspan dy="3.5">)</tspan></text>
<text x="64.4" y="449.2" font-size="9.7" text-anchor="start" fill="#111" stroke="#111" stroke-width="0.12" font-weight="normal" >In 3d</text>
<text x="60" y="502.8" font-size="9.9" text-anchor="start" fill="#111" stroke="#111" stroke-width="0.12" font-weight="normal" >In-oxide</text>
<text x="137.6" y="617.6" font-size="9.8" text-anchor="start" fill="#111" stroke="#111" stroke-width="0.12" font-weight="normal" >In-As</text>
<path d="M65,645.95 L67.15,645.77 L69.31,645.57 L71.46,645.35 L73.61,645.12 L75.76,644.87 L77.92,644.61 L80.07,644.33 L82.22,644.04 L84.37,643.74 L86.53,643.42 L88.68,643.1 L90.83,642.78 L92.98,642.45 L95.14,642.13 L97.29,641.82 L99.44,641.51 L101.59,641.22 L103.75,640.94 L105.9,640.68 L108.05,640.45 L110.2,640.25 L112.36,640.07 L114.51,639.93 L116.66,639.82 L118.81,639.75 L120.97,639.72 L123.12,639.73 L125.27,639.77 L127.42,639.85 L129.58,639.97 L131.73,640.12 L133.88,640.3 L136.03,640.51 L138.19,640.75 L140.34,641.01 L142.49,641.3 L144.64,641.59 L146.8,641.9 L148.95,642.22 L151.1,642.55 L153.25,642.87 L155.41,643.19 L157.56,643.51 L159.71,643.82 L161.86,644.12 L164.02,644.41 L166.17,644.69 L168.32,644.94 L170.47,645.19 L172.63,645.42 L174.78,645.63 L176.93,645.82 L179.08,646 L181.24,646.16 L183.39,646.3 L185.54,646.43 L187.69,646.54 L189.85,646.65 L192,646.74" stroke="#4a3a8a" stroke-width="1" fill="none" stroke-dasharray="3.5,2.8"/>
<path d="M110,643.93 L111.58,643.46 L113.15,642.86 L114.73,642.11 L116.31,641.17 L117.88,640.04 L119.46,638.66 L121.03,637.02 L122.61,635.1 L124.19,632.86 L125.76,630.3 L127.34,627.42 L128.92,624.21 L130.49,620.7 L132.07,616.91 L133.64,612.9 L135.22,608.73 L136.8,604.46 L138.37,600.19 L139.95,596.02 L141.53,592.04 L143.1,588.37 L144.68,585.1 L146.25,582.33 L147.83,580.15 L149.41,578.62 L150.98,577.79 L152.56,577.69 L154.14,578.33 L155.71,579.68 L157.29,581.69 L158.86,584.31 L160.44,587.46 L162.02,591.04 L163.59,594.94 L165.17,599.07 L166.75,603.33 L168.32,607.6 L169.9,611.81 L171.47,615.87 L173.05,619.72 L174.63,623.31 L176.2,626.6 L177.78,629.57 L179.36,632.21 L180.93,634.53 L182.51,636.54 L184.08,638.25 L185.66,639.7 L187.24,640.89 L188.81,641.88 L190.39,642.67 L191.97,643.31 L193.54,643.81 L195.12,644.2 L196.69,644.51 L198.27,644.74 L199.85,644.91 L201.42,645.04 L203,645.13" stroke="#e6201c" stroke-width="0.8" fill="none" stroke-dasharray="1.2,1"/>
<path d="M80.3,504.4 L124.8,517.8" stroke="#222" stroke-width="0.9" fill="none" stroke-dasharray="2.6,2.2"/>
<path d="M43.5,645.17 L44.49,645.15 L45.49,645.13 L46.48,645.11 L47.47,645.09 L48.47,645.06 L49.46,645.04 L50.45,645.01 L51.45,644.97 L52.44,644.94 L53.43,644.9 L54.43,644.86 L55.42,644.82 L56.42,644.77 L57.41,644.72 L58.4,644.67 L59.4,644.61 L60.39,644.54 L61.38,644.48 L62.38,644.4 L63.37,644.33 L64.36,644.25 L65.36,644.16 L66.35,644.06 L67.34,643.97 L68.34,643.86 L69.33,643.75 L70.32,643.63 L71.32,643.51 L72.31,643.38 L73.3,643.24 L74.3,643.09 L75.29,642.94 L76.29,642.78 L77.28,642.61 L78.27,642.43 L79.27,642.25 L80.26,642.05 L81.25,641.85 L82.25,641.64 L83.24,641.42 L84.23,641.19 L85.23,640.95 L86.22,640.7 L87.21,640.44 L88.21,640.16 L89.2,639.88 L90.19,639.58 L91.19,639.27 L92.18,638.94 L93.17,638.6 L94.17,638.24 L95.16,637.86 L96.16,637.46 L97.15,637.04 L98.14,636.6 L99.14,636.13 L100.13,635.63 L101.12,635.1 L102.12,634.54 L103.11,633.94 L104.1,633.29 L105.1,632.61 L106.09,631.88 L107.08,631.09 L108.08,630.25 L109.07,629.35 L110.06,628.39 L111.06,627.35 L112.05,626.25 L113.04,625.09 L114.04,623.85 L115.03,622.54 L116.02,621.17 L117.02,619.74 L118.01,618.27 L119.01,616.74 L120,615.17 L120.99,613.54 L121.99,611.85 L122.98,610.07 L123.97,608.17 L124.97,606.13 L125.96,603.92 L126.95,601.5 L127.95,598.86 L128.94,596.02 L129.93,592.98 L130.93,589.79 L131.92,586.47 L132.91,583.09 L133.91,579.68 L134.9,576.28 L135.89,572.93 L136.89,569.65 L137.88,566.45 L138.88,563.36 L139.87,560.37 L140.86,557.51 L141.86,554.77 L142.85,552.18 L143.84,549.73 L144.84,547.46 L145.83,545.36 L146.82,543.45 L147.82,541.75 L148.81,540.28 L149.8,539.03 L150.8,538.03 L151.79,537.28 L152.78,536.79 L153.78,536.56 L154.77,536.59 L155.76,536.89 L156.76,537.46 L157.75,538.28 L158.74,539.36 L159.74,540.69 L160.73,542.25 L161.73,544.04 L162.72,546.04 L163.71,548.24 L164.71,550.61 L165.7,553.16 L166.69,555.85 L167.69,558.67 L168.68,561.59 L169.67,564.61 L170.67,567.7 L171.66,570.85 L172.65,574.02 L173.65,577.21 L174.64,580.4 L175.63,583.57 L176.63,586.71 L177.62,589.8 L178.61,592.83 L179.61,595.78 L180.6,598.66 L181.6,601.43 L182.59,604.11 L183.58,606.68 L184.58,609.14 L185.57,611.48 L186.56,613.7 L187.56,615.8 L188.55,617.78 L189.54,619.64 L190.54,621.38 L191.53,623 L192.52,624.5 L193.52,625.9 L194.51,627.18 L195.5,628.36 L196.5,629.45 L197.49,630.44 L198.48,631.34 L199.48,632.16 L200.47,632.9 L201.47,633.56 L202.46,634.16 L203.45,634.7 L204.45,635.18 L205.44,635.61 L206.43,635.99 L207.43,636.32 L208.42,636.62 L209.41,636.88 L210.41,637.11 L211.4,637.31" stroke="#22084e" stroke-width="0.85" fill="none"/>
<circle cx="43.9" cy="645.16" r="1.6" fill="#22084e"/><circle cx="53.95" cy="644.88" r="1.6" fill="#22084e"/><circle cx="64" cy="644.28" r="1.6" fill="#22084e"/><circle cx="74.05" cy="643.13" r="1.6" fill="#22084e"/><circle cx="84.1" cy="641.22" r="1.6" fill="#22084e"/><circle cx="94.15" cy="638.24" r="1.6" fill="#22084e"/><circle cx="104.2" cy="633.23" r="1.6" fill="#22084e"/><circle cx="114.25" cy="623.57" r="1.6" fill="#22084e"/><circle cx="124.3" cy="607.52" r="1.6" fill="#22084e"/><circle cx="134.35" cy="578.16" r="1.6" fill="#22084e"/><circle cx="144.4" cy="548.43" r="1.6" fill="#22084e"/><circle cx="154.45" cy="536.55" r="1.6" fill="#22084e"/><circle cx="164.5" cy="550.11" r="1.6" fill="#22084e"/><circle cx="174.55" cy="580.11" r="1.6" fill="#22084e"/><circle cx="184.6" cy="609.2" r="1.6" fill="#22084e"/><circle cx="194.65" cy="627.35" r="1.6" fill="#22084e"/><circle cx="204.7" cy="635.29" r="1.6" fill="#22084e"/>
<path d="M43.5,644.96 L44.49,644.94 L45.49,644.92 L46.48,644.89 L47.47,644.87 L48.47,644.84 L49.46,644.81 L50.45,644.77 L51.45,644.74 L52.44,644.7 L53.43,644.66 L54.43,644.61 L55.42,644.56 L56.42,644.51 L57.41,644.45 L58.4,644.39 L59.4,644.32 L60.39,644.25 L61.38,644.17 L62.38,644.09 L63.37,644 L64.36,643.91 L65.36,643.81 L66.35,643.7 L67.34,643.59 L68.34,643.47 L69.33,643.34 L70.32,643.21 L71.32,643.07 L72.31,642.92 L73.3,642.76 L74.3,642.59 L75.29,642.42 L76.29,642.24 L77.28,642.04 L78.27,641.84 L79.27,641.63 L80.26,641.41 L81.25,641.18 L82.25,640.94 L83.24,640.69 L84.23,640.42 L85.23,640.15 L86.22,639.87 L87.21,639.57 L88.21,639.26 L89.2,638.93 L90.19,638.6 L91.19,638.24 L92.18,637.87 L93.17,637.49 L94.17,637.08 L95.16,636.66 L96.16,636.21 L97.15,635.74 L98.14,635.25 L99.14,634.72 L100.13,634.17 L101.12,633.58 L102.12,632.96 L103.11,632.3 L104.1,631.59 L105.1,630.84 L106.09,630.03 L107.08,629.18 L108.08,628.26 L109.07,627.28 L110.06,626.23 L111.06,625.12 L112.05,623.93 L113.04,622.66 L114.04,621.32 L115.03,619.9 L116.02,618.41 L117.02,616.85 L118.01,615.22 L119.01,613.53 L120,611.77 L120.99,609.95 L121.99,608.04 L122.98,606.05 L123.97,603.94 L124.97,601.7 L125.96,599.3 L126.95,596.72 L127.95,593.97 L128.94,591.04 L129.93,587.96 L130.93,584.74 L131.92,581.43 L132.91,578.06 L133.91,574.67 L134.9,571.29 L135.89,567.96 L136.89,564.69 L137.88,561.5 L138.88,558.42 L139.87,555.44 L140.86,552.59 L141.86,549.87 L142.85,547.31 L143.84,544.9 L144.84,542.68 L145.83,540.64 L146.82,538.81 L147.82,537.21 L148.81,535.84 L149.8,534.71 L150.8,533.84 L151.79,533.23 L152.78,532.89 L153.78,532.82 L154.77,533.02 L155.76,533.5 L156.76,534.25 L157.75,535.26 L158.74,536.54 L159.74,538.06 L160.73,539.82 L161.73,541.8 L162.72,544 L163.71,546.4 L164.71,548.97 L165.7,551.7 L166.69,554.58 L167.69,557.57 L168.68,560.67 L169.67,563.86 L170.67,567.1 L171.66,570.39 L172.65,573.71 L173.65,577.03 L174.64,580.34 L175.63,583.63 L176.63,586.87 L177.62,590.05 L178.61,593.17 L179.61,596.2 L180.6,599.14 L181.6,601.98 L182.59,604.72 L183.58,607.33 L184.58,609.83 L185.57,612.21 L186.56,614.46 L187.56,616.58 L188.55,618.58 L189.54,620.45 L190.54,622.2 L191.53,623.83 L192.52,625.34 L193.52,626.73 L194.51,628.02 L195.5,629.2 L196.5,630.28 L197.49,631.27 L198.48,632.16 L199.48,632.98 L200.47,633.71 L201.47,634.37 L202.46,634.97 L203.45,635.5 L204.45,635.97 L205.44,636.39 L206.43,636.77 L207.43,637.1 L208.42,637.39 L209.41,637.64 L210.41,637.87 L211.4,638.06" stroke="#34107c" stroke-width="0.85" fill="none"/>
<circle cx="43.9" cy="644.95" r="1.6" fill="#34107c"/><circle cx="53.95" cy="644.63" r="1.6" fill="#34107c"/><circle cx="64" cy="643.94" r="1.6" fill="#34107c"/><circle cx="74.05" cy="642.64" r="1.6" fill="#34107c"/><circle cx="84.1" cy="640.46" r="1.6" fill="#34107c"/><circle cx="94.15" cy="637.09" r="1.6" fill="#34107c"/><circle cx="104.2" cy="631.52" r="1.6" fill="#34107c"/><circle cx="114.25" cy="621.02" r="1.6" fill="#34107c"/><circle cx="124.3" cy="603.22" r="1.6" fill="#34107c"/><circle cx="134.35" cy="573.16" r="1.6" fill="#34107c"/><circle cx="144.4" cy="543.63" r="1.6" fill="#34107c"/><circle cx="154.45" cy="532.93" r="1.6" fill="#34107c"/><circle cx="164.5" cy="548.42" r="1.6" fill="#34107c"/><circle cx="174.55" cy="580.04" r="1.6" fill="#34107c"/><circle cx="184.6" cy="609.89" r="1.6" fill="#34107c"/><circle cx="194.65" cy="628.19" r="1.6" fill="#34107c"/><circle cx="204.7" cy="636.08" r="1.6" fill="#34107c"/>
<path d="M43.5,644.77 L44.49,644.75 L45.49,644.73 L46.48,644.7 L47.47,644.67 L48.47,644.64 L49.46,644.61 L50.45,644.57 L51.45,644.53 L52.44,644.49 L53.43,644.44 L54.43,644.39 L55.42,644.34 L56.42,644.28 L57.41,644.22 L58.4,644.15 L59.4,644.07 L60.39,643.99 L61.38,643.91 L62.38,643.82 L63.37,643.72 L64.36,643.62 L65.36,643.51 L66.35,643.39 L67.34,643.26 L68.34,643.13 L69.33,642.99 L70.32,642.84 L71.32,642.68 L72.31,642.52 L73.3,642.34 L74.3,642.16 L75.29,641.97 L76.29,641.76 L77.28,641.55 L78.27,641.33 L79.27,641.09 L80.26,640.85 L81.25,640.59 L82.25,640.33 L83.24,640.05 L84.23,639.76 L85.23,639.45 L86.22,639.14 L87.21,638.81 L88.21,638.47 L89.2,638.11 L90.19,637.74 L91.19,637.35 L92.18,636.94 L93.17,636.52 L94.17,636.07 L95.16,635.6 L96.16,635.12 L97.15,634.6 L98.14,634.06 L99.14,633.49 L100.13,632.88 L101.12,632.24 L102.12,631.57 L103.11,630.85 L104.1,630.08 L105.1,629.27 L106.09,628.4 L107.08,627.48 L108.08,626.49 L109.07,625.44 L110.06,624.32 L111.06,623.13 L112.05,621.85 L113.04,620.5 L114.04,619.06 L115.03,617.54 L116.02,615.94 L117.02,614.26 L118.01,612.5 L119.01,610.66 L120,608.74 L120.99,606.74 L121.99,604.65 L122.98,602.46 L123.97,600.16 L124.97,597.74 L125.96,595.17 L126.95,592.46 L127.95,589.61 L128.94,586.6 L129.93,583.47 L130.93,580.24 L131.92,576.93 L132.91,573.57 L133.91,570.2 L134.9,566.85 L135.89,563.53 L136.89,560.28 L137.88,557.11 L138.88,554.03 L139.87,551.07 L140.86,548.23 L141.86,545.54 L142.85,543 L143.84,540.64 L144.84,538.47 L145.83,536.5 L146.82,534.74 L147.82,533.23 L148.81,531.95 L149.8,530.94 L150.8,530.18 L151.79,529.7 L152.78,529.5 L153.78,529.58 L154.77,529.94 L155.76,530.58 L156.76,531.5 L157.75,532.68 L158.74,534.13 L159.74,535.83 L160.73,537.76 L161.73,539.93 L162.72,542.3 L163.71,544.87 L164.71,547.61 L165.7,550.51 L166.69,553.55 L167.69,556.7 L168.68,559.95 L169.67,563.27 L170.67,566.66 L171.66,570.08 L172.65,573.51 L173.65,576.95 L174.64,580.36 L175.63,583.74 L176.63,587.07 L177.62,590.34 L178.61,593.52 L179.61,596.62 L180.6,599.62 L181.6,602.51 L182.59,605.29 L183.58,607.94 L184.58,610.47 L185.57,612.87 L186.56,615.15 L187.56,617.29 L188.55,619.3 L189.54,621.18 L190.54,622.94 L191.53,624.57 L192.52,626.08 L193.52,627.48 L194.51,628.77 L195.5,629.94 L196.5,631.02 L197.49,632 L198.48,632.89 L199.48,633.7 L200.47,634.43 L201.47,635.08 L202.46,635.67 L203.45,636.2 L204.45,636.66 L205.44,637.08 L206.43,637.45 L207.43,637.77 L208.42,638.06 L209.41,638.31 L210.41,638.53 L211.4,638.72" stroke="#5a22c0" stroke-width="0.85" fill="none"/>
<circle cx="43.9" cy="644.76" r="1.6" fill="#5a22c0"/><circle cx="53.95" cy="644.42" r="1.6" fill="#5a22c0"/><circle cx="64" cy="643.66" r="1.6" fill="#5a22c0"/><circle cx="74.05" cy="642.21" r="1.6" fill="#5a22c0"/><circle cx="84.1" cy="639.8" r="1.6" fill="#5a22c0"/><circle cx="94.15" cy="636.08" r="1.6" fill="#5a22c0"/><circle cx="104.2" cy="630.01" r="1.6" fill="#5a22c0"/><circle cx="114.25" cy="618.75" r="1.6" fill="#5a22c0"/><circle cx="124.3" cy="599.38" r="1.6" fill="#5a22c0"/><circle cx="134.35" cy="568.7" r="1.6" fill="#5a22c0"/><circle cx="144.4" cy="539.4" r="1.6" fill="#5a22c0"/><circle cx="154.45" cy="529.79" r="1.6" fill="#5a22c0"/><circle cx="164.5" cy="547.03" r="1.6" fill="#5a22c0"/><circle cx="174.55" cy="580.05" r="1.6" fill="#5a22c0"/><circle cx="184.6" cy="610.53" r="1.6" fill="#5a22c0"/><circle cx="194.65" cy="628.94" r="1.6" fill="#5a22c0"/><circle cx="204.7" cy="636.78" r="1.6" fill="#5a22c0"/>
<path d="M43.5,644.59 L44.49,644.56 L45.49,644.54 L46.48,644.51 L47.47,644.48 L48.47,644.45 L49.46,644.41 L50.45,644.37 L51.45,644.33 L52.44,644.28 L53.43,644.23 L54.43,644.17 L55.42,644.11 L56.42,644.05 L57.41,643.98 L58.4,643.91 L59.4,643.82 L60.39,643.74 L61.38,643.64 L62.38,643.55 L63.37,643.44 L64.36,643.33 L65.36,643.2 L66.35,643.07 L67.34,642.94 L68.34,642.79 L69.33,642.64 L70.32,642.47 L71.32,642.3 L72.31,642.12 L73.3,641.93 L74.3,641.73 L75.29,641.51 L76.29,641.29 L77.28,641.06 L78.27,640.81 L79.27,640.56 L80.26,640.29 L81.25,640.01 L82.25,639.71 L83.24,639.41 L84.23,639.09 L85.23,638.76 L86.22,638.41 L87.21,638.05 L88.21,637.68 L89.2,637.29 L90.19,636.88 L91.19,636.45 L92.18,636.01 L93.17,635.54 L94.17,635.06 L95.16,634.55 L96.16,634.01 L97.15,633.45 L98.14,632.86 L99.14,632.24 L100.13,631.59 L101.12,630.9 L102.12,630.16 L103.11,629.38 L104.1,628.56 L105.1,627.68 L106.09,626.75 L107.08,625.76 L108.08,624.7 L109.07,623.58 L110.06,622.38 L111.06,621.1 L112.05,619.74 L113.04,618.3 L114.04,616.77 L115.03,615.14 L116.02,613.43 L117.02,611.62 L118.01,609.72 L119.01,607.73 L120,605.64 L120.99,603.46 L121.99,601.18 L122.98,598.8 L123.97,596.31 L124.97,593.7 L125.96,590.97 L126.95,588.13 L127.95,585.16 L128.94,582.09 L129.93,578.91 L130.93,575.66 L131.92,572.35 L132.91,569.01 L133.91,565.66 L134.9,562.33 L135.89,559.04 L136.89,555.8 L137.88,552.65 L138.88,549.59 L139.87,546.64 L140.86,543.83 L141.86,541.17 L142.85,538.67 L143.84,536.35 L144.84,534.24 L145.83,532.34 L146.82,530.67 L147.82,529.24 L148.81,528.08 L149.8,527.18 L150.8,526.55 L151.79,526.21 L152.78,526.15 L153.78,526.39 L154.77,526.91 L155.76,527.72 L156.76,528.8 L157.75,530.16 L158.74,531.79 L159.74,533.67 L160.73,535.78 L161.73,538.13 L162.72,540.68 L163.71,543.42 L164.71,546.33 L165.7,549.4 L166.69,552.59 L167.69,555.9 L168.68,559.3 L169.67,562.77 L170.67,566.29 L171.66,569.83 L172.65,573.38 L173.65,576.93 L174.64,580.44 L175.63,583.92 L176.63,587.33 L177.62,590.67 L178.61,593.93 L179.61,597.09 L180.6,600.14 L181.6,603.08 L182.59,605.89 L183.58,608.58 L184.58,611.14 L185.57,613.57 L186.56,615.86 L187.56,618.02 L188.55,620.04 L189.54,621.93 L190.54,623.69 L191.53,625.33 L192.52,626.84 L193.52,628.24 L194.51,629.52 L195.5,630.69 L196.5,631.76 L197.49,632.74 L198.48,633.63 L199.48,634.43 L200.47,635.15 L201.47,635.8 L202.46,636.38 L203.45,636.9 L204.45,637.36 L205.44,637.77 L206.43,638.13 L207.43,638.45 L208.42,638.73 L209.41,638.98 L210.41,639.2 L211.4,639.38" stroke="#4a2ad8" stroke-width="0.85" fill="none"/>
<circle cx="43.9" cy="644.58" r="1.6" fill="#4a2ad8"/><circle cx="53.95" cy="644.2" r="1.6" fill="#4a2ad8"/><circle cx="64" cy="643.37" r="1.6" fill="#4a2ad8"/><circle cx="74.05" cy="641.78" r="1.6" fill="#4a2ad8"/><circle cx="84.1" cy="639.13" r="1.6" fill="#4a2ad8"/><circle cx="94.15" cy="635.07" r="1.6" fill="#4a2ad8"/><circle cx="104.2" cy="628.48" r="1.6" fill="#4a2ad8"/><circle cx="114.25" cy="616.43" r="1.6" fill="#4a2ad8"/><circle cx="124.3" cy="595.46" r="1.6" fill="#4a2ad8"/><circle cx="134.35" cy="564.18" r="1.6" fill="#4a2ad8"/><circle cx="144.4" cy="535.14" r="1.6" fill="#4a2ad8"/><circle cx="154.45" cy="526.71" r="1.6" fill="#4a2ad8"/><circle cx="164.5" cy="545.71" r="1.6" fill="#4a2ad8"/><circle cx="174.55" cy="580.12" r="1.6" fill="#4a2ad8"/><circle cx="184.6" cy="611.2" r="1.6" fill="#4a2ad8"/><circle cx="194.65" cy="629.69" r="1.6" fill="#4a2ad8"/><circle cx="204.7" cy="637.47" r="1.6" fill="#4a2ad8"/>
<path d="M43.5,644.38 L44.49,644.35 L45.49,644.33 L46.48,644.29 L47.47,644.26 L48.47,644.22 L49.46,644.18 L50.45,644.14 L51.45,644.09 L52.44,644.04 L53.43,643.99 L54.43,643.93 L55.42,643.86 L56.42,643.79 L57.41,643.71 L58.4,643.63 L59.4,643.54 L60.39,643.45 L61.38,643.34 L62.38,643.24 L63.37,643.12 L64.36,642.99 L65.36,642.86 L66.35,642.72 L67.34,642.57 L68.34,642.41 L69.33,642.24 L70.32,642.06 L71.32,641.87 L72.31,641.67 L73.3,641.46 L74.3,641.23 L75.29,641 L76.29,640.75 L77.28,640.5 L78.27,640.23 L79.27,639.94 L80.26,639.65 L81.25,639.34 L82.25,639.02 L83.24,638.68 L84.23,638.33 L85.23,637.97 L86.22,637.59 L87.21,637.19 L88.21,636.78 L89.2,636.35 L90.19,635.9 L91.19,635.43 L92.18,634.94 L93.17,634.43 L94.17,633.9 L95.16,633.34 L96.16,632.75 L97.15,632.14 L98.14,631.49 L99.14,630.81 L100.13,630.1 L101.12,629.34 L102.12,628.54 L103.11,627.7 L104.1,626.8 L105.1,625.85 L106.09,624.84 L107.08,623.77 L108.08,622.62 L109.07,621.41 L110.06,620.12 L111.06,618.74 L112.05,617.28 L113.04,615.73 L114.04,614.09 L115.03,612.34 L116.02,610.49 L117.02,608.54 L118.01,606.48 L119.01,604.31 L120,602.03 L120.99,599.63 L121.99,597.13 L122.98,594.53 L123.97,591.81 L124.97,588.99 L125.96,586.08 L126.95,583.08 L127.95,579.99 L128.94,576.83 L129.93,573.6 L130.93,570.33 L131.92,567.03 L132.91,563.71 L133.91,560.38 L134.9,557.08 L135.89,553.82 L136.89,550.61 L137.88,547.48 L138.88,544.44 L139.87,541.52 L140.86,538.74 L141.86,536.12 L142.85,533.67 L143.84,531.42 L144.84,529.38 L145.83,527.57 L146.82,526 L147.82,524.7 L148.81,523.66 L149.8,522.9 L150.8,522.43 L151.79,522.25 L152.78,522.37 L153.78,522.79 L154.77,523.5 L155.76,524.51 L156.76,525.8 L157.75,527.36 L158.74,529.2 L159.74,531.28 L160.73,533.61 L161.73,536.16 L162.72,538.92 L163.71,541.86 L164.71,544.97 L165.7,548.22 L166.69,551.6 L167.69,555.09 L168.68,558.66 L169.67,562.28 L170.67,565.95 L171.66,569.63 L172.65,573.32 L173.65,576.98 L174.64,580.61 L175.63,584.19 L176.63,587.69 L177.62,591.12 L178.61,594.45 L179.61,597.67 L180.6,600.78 L181.6,603.77 L182.59,606.63 L183.58,609.35 L184.58,611.94 L185.57,614.39 L186.56,616.71 L187.56,618.88 L188.55,620.91 L189.54,622.81 L190.54,624.57 L191.53,626.21 L192.52,627.72 L193.52,629.11 L194.51,630.39 L195.5,631.56 L196.5,632.62 L197.49,633.59 L198.48,634.47 L199.48,635.26 L200.47,635.97 L201.47,636.61 L202.46,637.19 L203.45,637.7 L204.45,638.15 L205.44,638.56 L206.43,638.91 L207.43,639.23 L208.42,639.5 L209.41,639.74 L210.41,639.96 L211.4,640.14" stroke="#4048dc" stroke-width="0.85" fill="none"/>
<circle cx="43.9" cy="644.37" r="1.6" fill="#4048dc"/><circle cx="53.95" cy="643.96" r="1.6" fill="#4048dc"/><circle cx="64" cy="643.04" r="1.6" fill="#4048dc"/><circle cx="74.05" cy="641.29" r="1.6" fill="#4048dc"/><circle cx="84.1" cy="638.38" r="1.6" fill="#4048dc"/><circle cx="94.15" cy="633.91" r="1.6" fill="#4048dc"/><circle cx="104.2" cy="626.71" r="1.6" fill="#4048dc"/><circle cx="114.25" cy="613.72" r="1.6" fill="#4048dc"/><circle cx="124.3" cy="590.89" r="1.6" fill="#4048dc"/><circle cx="134.35" cy="558.91" r="1.6" fill="#4048dc"/><circle cx="144.4" cy="530.25" r="1.6" fill="#4048dc"/><circle cx="154.45" cy="523.24" r="1.6" fill="#4048dc"/><circle cx="164.5" cy="544.31" r="1.6" fill="#4048dc"/><circle cx="174.55" cy="580.28" r="1.6" fill="#4048dc"/><circle cx="184.6" cy="612.01" r="1.6" fill="#4048dc"/><circle cx="194.65" cy="630.56" r="1.6" fill="#4048dc"/><circle cx="204.7" cy="638.26" r="1.6" fill="#4048dc"/>
<path d="M43.5,644.53 L44.49,644.5 L45.49,644.47 L46.48,644.43 L47.47,644.4 L48.47,644.35 L49.46,644.31 L50.45,644.26 L51.45,644.21 L52.44,644.15 L53.43,644.08 L54.43,644.01 L55.42,643.94 L56.42,643.86 L57.41,643.77 L58.4,643.68 L59.4,643.58 L60.39,643.47 L61.38,643.35 L62.38,643.23 L63.37,643.09 L64.36,642.95 L65.36,642.8 L66.35,642.64 L67.34,642.46 L68.34,642.28 L69.33,642.09 L70.32,641.88 L71.32,641.66 L72.31,641.44 L73.3,641.19 L74.3,640.94 L75.29,640.67 L76.29,640.39 L77.28,640.09 L78.27,639.78 L79.27,639.46 L80.26,639.12 L81.25,638.76 L82.25,638.39 L83.24,638.01 L84.23,637.6 L85.23,637.18 L86.22,636.74 L87.21,636.28 L88.21,635.8 L89.2,635.3 L90.19,634.78 L91.19,634.24 L92.18,633.67 L93.17,633.07 L94.17,632.45 L95.16,631.8 L96.16,631.11 L97.15,630.4 L98.14,629.64 L99.14,628.84 L100.13,628 L101.12,627.12 L102.12,626.18 L103.11,625.19 L104.1,624.14 L105.1,623.03 L106.09,621.84 L107.08,620.59 L108.08,619.26 L109.07,617.84 L110.06,616.34 L111.06,614.74 L112.05,613.04 L113.04,611.23 L114.04,609.32 L115.03,607.28 L116.02,605.11 L117.02,602.8 L118.01,600.35 L119.01,597.75 L120,595 L120.99,592.1 L121.99,589.07 L122.98,585.91 L123.97,582.65 L124.97,579.31 L125.96,575.93 L126.95,572.52 L127.95,569.1 L128.94,565.7 L129.93,562.31 L130.93,558.94 L131.92,555.6 L132.91,552.26 L133.91,548.95 L134.9,545.65 L135.89,542.39 L136.89,539.18 L137.88,536.04 L138.88,532.99 L139.87,530.06 L140.86,527.28 L141.86,524.68 L142.85,522.27 L143.84,520.09 L144.84,518.14 L145.83,516.46 L146.82,515.05 L147.82,513.93 L148.81,513.1 L149.8,512.59 L150.8,512.39 L151.79,512.5 L152.78,512.94 L153.78,513.69 L154.77,514.76 L155.76,516.13 L156.76,517.8 L157.75,519.76 L158.74,521.99 L159.74,524.48 L160.73,527.21 L161.73,530.16 L162.72,533.31 L163.71,536.65 L164.71,540.14 L165.7,543.77 L166.69,547.51 L167.69,551.34 L168.68,555.24 L169.67,559.18 L170.67,563.14 L171.66,567.11 L172.65,571.05 L173.65,574.96 L174.64,578.81 L175.63,582.59 L176.63,586.28 L177.62,589.86 L178.61,593.34 L179.61,596.7 L180.6,599.92 L181.6,603.01 L182.59,605.95 L183.58,608.75 L184.58,611.4 L185.57,613.9 L186.56,616.25 L187.56,618.45 L188.55,620.5 L189.54,622.41 L190.54,624.18 L191.53,625.82 L192.52,627.33 L193.52,628.72 L194.51,629.98 L195.5,631.14 L196.5,632.19 L197.49,633.14 L198.48,634.01 L199.48,634.78 L200.47,635.48 L201.47,636.1 L202.46,636.66 L203.45,637.15 L204.45,637.59 L205.44,637.98 L206.43,638.32 L207.43,638.63 L208.42,638.89 L209.41,639.12 L210.41,639.32 L211.4,639.49" stroke="#36a4ea" stroke-width="1.1" fill="none"/>
<circle cx="43.9" cy="644.52" r="1.8" fill="#36a4ea"/><circle cx="53.95" cy="644.05" r="1.8" fill="#36a4ea"/><circle cx="64" cy="643" r="1.8" fill="#36a4ea"/><circle cx="74.05" cy="641" r="1.8" fill="#36a4ea"/><circle cx="84.1" cy="637.66" r="1.8" fill="#36a4ea"/><circle cx="94.15" cy="632.46" r="1.8" fill="#36a4ea"/><circle cx="104.2" cy="624.03" r="1.8" fill="#36a4ea"/><circle cx="114.25" cy="608.89" r="1.8" fill="#36a4ea"/><circle cx="124.3" cy="581.56" r="1.8" fill="#36a4ea"/><circle cx="134.35" cy="547.48" r="1.8" fill="#36a4ea"/><circle cx="144.4" cy="518.97" r="1.8" fill="#36a4ea"/><circle cx="154.45" cy="514.38" r="1.8" fill="#36a4ea"/><circle cx="164.5" cy="539.41" r="1.8" fill="#36a4ea"/><circle cx="174.55" cy="578.46" r="1.8" fill="#36a4ea"/><circle cx="184.6" cy="611.46" r="1.8" fill="#36a4ea"/><circle cx="194.65" cy="630.15" r="1.8" fill="#36a4ea"/><circle cx="204.7" cy="637.7" r="1.8" fill="#36a4ea"/>
<path d="M43.5,645.44 L44.49,645.36 L45.49,645.28 L46.48,645.2 L47.47,645.1 L48.47,645 L49.46,644.89 L50.45,644.76 L51.45,644.63 L52.44,644.48 L53.43,644.32 L54.43,644.15 L55.42,643.96 L56.42,643.76 L57.41,643.54 L58.4,643.3 L59.4,643.05 L60.39,642.77 L61.38,642.48 L62.38,642.16 L63.37,641.83 L64.36,641.47 L65.36,641.08 L66.35,640.67 L67.34,640.24 L68.34,639.78 L69.33,639.28 L70.32,638.77 L71.32,638.22 L72.31,637.64 L73.3,637.03 L74.3,636.38 L75.29,635.71 L76.29,635 L77.28,634.26 L78.27,633.48 L79.27,632.67 L80.26,631.83 L81.25,630.94 L82.25,630.03 L83.24,629.07 L84.23,628.08 L85.23,627.06 L86.22,626 L87.21,624.9 L88.21,623.76 L89.2,622.59 L90.19,621.38 L91.19,620.13 L92.18,618.85 L93.17,617.52 L94.17,616.16 L95.16,614.75 L96.16,613.31 L97.15,611.82 L98.14,610.29 L99.14,608.72 L100.13,607.1 L101.12,605.43 L102.12,603.71 L103.11,601.94 L104.1,600.11 L105.1,598.23 L106.09,596.28 L107.08,594.27 L108.08,592.2 L109.07,590.05 L110.06,587.84 L111.06,585.54 L112.05,583.17 L113.04,580.71 L114.04,578.16 L115.03,575.51 L116.02,572.76 L117.02,569.9 L118.01,566.93 L119.01,563.84 L120,560.63 L120.99,557.31 L121.99,553.9 L122.98,550.4 L123.97,546.85 L124.97,543.27 L125.96,539.7 L126.95,536.16 L127.95,532.68 L128.94,529.28 L129.93,525.96 L130.93,522.72 L131.92,519.56 L132.91,516.48 L133.91,513.47 L134.9,510.55 L135.89,507.71 L136.89,504.97 L137.88,502.36 L138.88,499.9 L139.87,497.61 L140.86,495.52 L141.86,493.66 L142.85,492.03 L143.84,490.67 L144.84,489.6 L145.83,488.82 L146.82,488.35 L147.82,488.2 L148.81,488.37 L149.8,488.87 L150.8,489.7 L151.79,490.86 L152.78,492.34 L153.78,494.15 L154.77,496.26 L155.76,498.68 L156.76,501.38 L157.75,504.35 L158.74,507.58 L159.74,511.04 L160.73,514.71 L161.73,518.58 L162.72,522.62 L163.71,526.8 L164.71,531.1 L165.7,535.5 L166.69,539.97 L167.69,544.5 L168.68,549.04 L169.67,553.59 L170.67,558.12 L171.66,562.61 L172.65,567.04 L173.65,571.39 L174.64,575.65 L175.63,579.8 L176.63,583.83 L177.62,587.72 L178.61,591.47 L179.61,595.07 L180.6,598.51 L181.6,601.78 L182.59,604.89 L183.58,607.84 L184.58,610.61 L185.57,613.22 L186.56,615.66 L187.56,617.94 L188.55,620.05 L189.54,622.02 L190.54,623.84 L191.53,625.51 L192.52,627.05 L193.52,628.46 L194.51,629.74 L195.5,630.91 L196.5,631.97 L197.49,632.93 L198.48,633.8 L199.48,634.58 L200.47,635.28 L201.47,635.9 L202.46,636.46 L203.45,636.96 L204.45,637.39 L205.44,637.78 L206.43,638.13 L207.43,638.43 L208.42,638.69 L209.41,638.92 L210.41,639.12 L211.4,639.3" stroke="#33dcee" stroke-width="1.1" fill="none"/>
<circle cx="43.9" cy="645.41" r="1.8" fill="#33dcee"/><circle cx="53.95" cy="644.23" r="1.8" fill="#33dcee"/><circle cx="64" cy="641.6" r="1.8" fill="#33dcee"/><circle cx="74.05" cy="636.55" r="1.8" fill="#33dcee"/><circle cx="84.1" cy="628.22" r="1.8" fill="#33dcee"/><circle cx="94.15" cy="616.18" r="1.8" fill="#33dcee"/><circle cx="104.2" cy="599.93" r="1.8" fill="#33dcee"/><circle cx="114.25" cy="577.6" r="1.8" fill="#33dcee"/><circle cx="124.3" cy="545.67" r="1.8" fill="#33dcee"/><circle cx="134.35" cy="512.16" r="1.8" fill="#33dcee"/><circle cx="144.4" cy="490.04" r="1.8" fill="#33dcee"/><circle cx="154.45" cy="495.55" r="1.8" fill="#33dcee"/><circle cx="164.5" cy="530.2" r="1.8" fill="#33dcee"/><circle cx="174.55" cy="575.27" r="1.8" fill="#33dcee"/><circle cx="184.6" cy="610.68" r="1.8" fill="#33dcee"/><circle cx="194.65" cy="629.91" r="1.8" fill="#33dcee"/><circle cx="204.7" cy="637.5" r="1.8" fill="#33dcee"/>
<path d="M43.5,644.13 L44.49,643.98 L45.49,643.81 L46.48,643.63 L47.47,643.43 L48.47,643.2 L49.46,642.96 L50.45,642.7 L51.45,642.41 L52.44,642.1 L53.43,641.76 L54.43,641.4 L55.42,641 L56.42,640.57 L57.41,640.1 L58.4,639.61 L59.4,639.07 L60.39,638.49 L61.38,637.87 L62.38,637.21 L63.37,636.5 L64.36,635.74 L65.36,634.94 L66.35,634.08 L67.34,633.17 L68.34,632.21 L69.33,631.18 L70.32,630.1 L71.32,628.96 L72.31,627.76 L73.3,626.5 L74.3,625.17 L75.29,623.78 L76.29,622.32 L77.28,620.8 L78.27,619.21 L79.27,617.56 L80.26,615.84 L81.25,614.06 L82.25,612.21 L83.24,610.29 L84.23,608.32 L85.23,606.28 L86.22,604.18 L87.21,602.02 L88.21,599.81 L89.2,597.54 L90.19,595.22 L91.19,592.85 L92.18,590.44 L93.17,587.97 L94.17,585.47 L95.16,582.92 L96.16,580.34 L97.15,577.73 L98.14,575.09 L99.14,572.41 L100.13,569.71 L101.12,566.99 L102.12,564.25 L103.11,561.49 L104.1,558.71 L105.1,555.92 L106.09,553.12 L107.08,550.3 L108.08,547.48 L109.07,544.65 L110.06,541.81 L111.06,538.97 L112.05,536.13 L113.04,533.28 L114.04,530.43 L115.03,527.58 L116.02,524.74 L117.02,521.9 L118.01,519.06 L119.01,516.24 L120,513.43 L120.99,510.64 L121.99,507.87 L122.98,505.12 L123.97,502.41 L124.97,499.72 L125.96,497.08 L126.95,494.47 L127.95,491.93 L128.94,489.44 L129.93,487.03 L130.93,484.71 L131.92,482.48 L132.91,480.37 L133.91,478.38 L134.9,476.54 L135.89,474.86 L136.89,473.35 L137.88,472.02 L138.88,470.89 L139.87,469.97 L140.86,469.28 L141.86,468.82 L142.85,468.61 L143.84,468.66 L144.84,468.97 L145.83,469.55 L146.82,470.4 L147.82,471.54 L148.81,472.96 L149.8,474.66 L150.8,476.64 L151.79,478.89 L152.78,481.42 L153.78,484.21 L154.77,487.25 L155.76,490.54 L156.76,494.05 L157.75,497.77 L158.74,501.69 L159.74,505.79 L160.73,510.04 L161.73,514.44 L162.72,518.95 L163.71,523.56 L164.71,528.25 L165.7,532.99 L166.69,537.76 L167.69,542.54 L168.68,547.31 L169.67,552.06 L170.67,556.75 L171.66,561.39 L172.65,565.93 L173.65,570.38 L174.64,574.72 L175.63,578.94 L176.63,583.02 L177.62,586.96 L178.61,590.74 L179.61,594.36 L180.6,597.82 L181.6,601.12 L182.59,604.24 L183.58,607.2 L184.58,609.98 L185.57,612.6 L186.56,615.05 L187.56,617.33 L188.55,619.47 L189.54,621.44 L190.54,623.27 L191.53,624.96 L192.52,626.51 L193.52,627.94 L194.51,629.24 L195.5,630.43 L196.5,631.51 L197.49,632.5 L198.48,633.38 L199.48,634.18 L200.47,634.9 L201.47,635.55 L202.46,636.13 L203.45,636.64 L204.45,637.1 L205.44,637.51 L206.43,637.87 L207.43,638.19 L208.42,638.48 L209.41,638.72 L210.41,638.94 L211.4,639.13" stroke="#26cc2c" stroke-width="1.1" fill="none"/>
<circle cx="43.9" cy="644.07" r="1.8" fill="#26cc2c"/><circle cx="53.95" cy="641.58" r="1.8" fill="#26cc2c"/><circle cx="64" cy="636.03" r="1.8" fill="#26cc2c"/><circle cx="74.05" cy="625.51" r="1.8" fill="#26cc2c"/><circle cx="84.1" cy="608.59" r="1.8" fill="#26cc2c"/><circle cx="94.15" cy="585.51" r="1.8" fill="#26cc2c"/><circle cx="104.2" cy="558.44" r="1.8" fill="#26cc2c"/><circle cx="114.25" cy="529.82" r="1.8" fill="#26cc2c"/><circle cx="124.3" cy="501.52" r="1.8" fill="#26cc2c"/><circle cx="134.35" cy="477.55" r="1.8" fill="#26cc2c"/><circle cx="144.4" cy="468.8" r="1.8" fill="#26cc2c"/><circle cx="154.45" cy="486.24" r="1.8" fill="#26cc2c"/><circle cx="164.5" cy="527.27" r="1.8" fill="#26cc2c"/><circle cx="174.55" cy="574.33" r="1.8" fill="#26cc2c"/><circle cx="184.6" cy="610.05" r="1.8" fill="#26cc2c"/><circle cx="194.65" cy="629.42" r="1.8" fill="#26cc2c"/><circle cx="204.7" cy="637.21" r="1.8" fill="#26cc2c"/>
<path d="M43.5,644.09 L44.49,643.87 L45.49,643.63 L46.48,643.37 L47.47,643.08 L48.47,642.76 L49.46,642.41 L50.45,642.04 L51.45,641.62 L52.44,641.18 L53.43,640.69 L54.43,640.16 L55.42,639.6 L56.42,638.98 L57.41,638.32 L58.4,637.6 L59.4,636.83 L60.39,636.01 L61.38,635.12 L62.38,634.17 L63.37,633.16 L64.36,632.08 L65.36,630.93 L66.35,629.7 L67.34,628.4 L68.34,627.03 L69.33,625.57 L70.32,624.03 L71.32,622.4 L72.31,620.69 L73.3,618.9 L74.3,617.01 L75.29,615.03 L76.29,612.96 L77.28,610.81 L78.27,608.56 L79.27,606.21 L80.26,603.78 L81.25,601.26 L82.25,598.65 L83.24,595.95 L84.23,593.17 L85.23,590.31 L86.22,587.37 L87.21,584.35 L88.21,581.26 L89.2,578.1 L90.19,574.87 L91.19,571.59 L92.18,568.25 L93.17,564.86 L94.17,561.43 L95.16,557.96 L96.16,554.46 L97.15,550.92 L98.14,547.37 L99.14,543.8 L100.13,540.23 L101.12,536.65 L102.12,533.07 L103.11,529.51 L104.1,525.95 L105.1,522.42 L106.09,518.92 L107.08,515.44 L108.08,512 L109.07,508.61 L110.06,505.26 L111.06,501.98 L112.05,498.76 L113.04,495.62 L114.04,492.58 L115.03,489.66 L116.02,486.89 L117.02,484.3 L118.01,481.92 L119.01,479.76 L120,477.85 L120.99,476.17 L121.99,474.69 L122.98,473.35 L123.97,472.09 L124.97,470.79 L125.96,469.39 L126.95,467.79 L127.95,465.97 L128.94,463.9 L129.93,461.63 L130.93,459.24 L131.92,456.81 L132.91,454.46 L133.91,452.28 L134.9,450.36 L135.89,448.76 L136.89,447.5 L137.88,446.6 L138.88,446.05 L139.87,445.84 L140.86,445.95 L141.86,446.36 L142.85,447.06 L143.84,448.04 L144.84,449.28 L145.83,450.79 L146.82,452.56 L147.82,454.6 L148.81,456.89 L149.8,459.44 L150.8,462.24 L151.79,465.29 L152.78,468.57 L153.78,472.09 L154.77,475.83 L155.76,479.77 L156.76,483.92 L157.75,488.24 L158.74,492.73 L159.74,497.37 L160.73,502.13 L161.73,507.01 L162.72,511.98 L163.71,517.02 L164.71,522.12 L165.7,527.24 L166.69,532.38 L167.69,537.51 L168.68,542.61 L169.67,547.67 L170.67,552.66 L171.66,557.57 L172.65,562.39 L173.65,567.1 L174.64,571.69 L175.63,576.14 L176.63,580.44 L177.62,584.6 L178.61,588.59 L179.61,592.42 L180.6,596.07 L181.6,599.55 L182.59,602.85 L183.58,605.98 L184.58,608.93 L185.57,611.7 L186.56,614.31 L187.56,616.74 L188.55,619.01 L189.54,621.12 L190.54,623.08 L191.53,624.89 L192.52,626.56 L193.52,628.09 L194.51,629.5 L195.5,630.78 L196.5,631.96 L197.49,633.02 L198.48,633.99 L199.48,634.87 L200.47,635.66 L201.47,636.37 L202.46,637.01 L203.45,637.58 L204.45,638.09 L205.44,638.54 L206.43,638.95 L207.43,639.31 L208.42,639.63 L209.41,639.91 L210.41,640.15 L211.4,640.37" stroke="#f4e61e" stroke-width="1.1" fill="none"/>
<circle cx="43.9" cy="644.01" r="1.8" fill="#f4e61e"/><circle cx="53.95" cy="640.42" r="1.8" fill="#f4e61e"/><circle cx="64" cy="632.48" r="1.8" fill="#f4e61e"/><circle cx="74.05" cy="617.49" r="1.8" fill="#f4e61e"/><circle cx="84.1" cy="593.55" r="1.8" fill="#f4e61e"/><circle cx="94.15" cy="561.49" r="1.8" fill="#f4e61e"/><circle cx="104.2" cy="525.61" r="1.8" fill="#f4e61e"/><circle cx="114.25" cy="491.95" r="1.8" fill="#f4e61e"/><circle cx="124.3" cy="471.67" r="1.8" fill="#f4e61e"/><circle cx="134.35" cy="451.39" r="1.8" fill="#f4e61e"/><circle cx="144.4" cy="448.7" r="1.8" fill="#f4e61e"/><circle cx="154.45" cy="474.6" r="1.8" fill="#f4e61e"/><circle cx="164.5" cy="521.06" r="1.8" fill="#f4e61e"/><circle cx="174.55" cy="571.27" r="1.8" fill="#f4e61e"/><circle cx="184.6" cy="609" r="1.8" fill="#f4e61e"/><circle cx="194.65" cy="629.69" r="1.8" fill="#f4e61e"/><circle cx="204.7" cy="638.21" r="1.8" fill="#f4e61e"/>
<path d="M43.5,644.09 L44.49,643.87 L45.49,643.63 L46.48,643.36 L47.47,643.07 L48.47,642.75 L49.46,642.4 L50.45,642.03 L51.45,641.61 L52.44,641.16 L53.43,640.68 L54.43,640.15 L55.42,639.58 L56.42,638.96 L57.41,638.29 L58.4,637.57 L59.4,636.8 L60.39,635.97 L61.38,635.08 L62.38,634.13 L63.37,633.11 L64.36,632.03 L65.36,630.87 L66.35,629.64 L67.34,628.33 L68.34,626.95 L69.33,625.48 L70.32,623.93 L71.32,622.29 L72.31,620.57 L73.3,618.76 L74.3,616.86 L75.29,614.86 L76.29,612.78 L77.28,610.6 L78.27,608.33 L79.27,605.97 L80.26,603.52 L81.25,600.97 L82.25,598.34 L83.24,595.62 L84.23,592.81 L85.23,589.92 L86.22,586.94 L87.21,583.89 L88.21,580.76 L89.2,577.57 L90.19,574.3 L91.19,570.98 L92.18,567.6 L93.17,564.16 L94.17,560.68 L95.16,557.16 L96.16,553.61 L97.15,550.02 L98.14,546.41 L99.14,542.79 L100.13,539.15 L101.12,535.51 L102.12,531.87 L103.11,528.24 L104.1,524.61 L105.1,521.01 L106.09,517.43 L107.08,513.88 L108.08,510.36 L109.07,506.88 L110.06,503.45 L111.06,500.07 L112.05,496.74 L113.04,493.48 L114.04,490.31 L115.03,487.22 L116.02,484.24 L117.02,481.38 L118.01,478.67 L119.01,476.11 L120,473.71 L120.99,471.47 L121.99,469.37 L122.98,467.4 L123.97,465.51 L124.97,463.64 L125.96,461.78 L126.95,459.86 L127.95,457.88 L128.94,455.84 L129.93,453.75 L130.93,451.67 L131.92,449.64 L132.91,447.73 L133.91,445.99 L134.9,444.47 L135.89,443.2 L136.89,442.21 L137.88,441.51 L138.88,441.1 L139.87,440.98 L140.86,441.13 L141.86,441.56 L142.85,442.27 L143.84,443.24 L144.84,444.49 L145.83,446 L146.82,447.78 L147.82,449.83 L148.81,452.15 L149.8,454.73 L150.8,457.58 L151.79,460.68 L152.78,464.02 L153.78,467.61 L154.77,471.43 L155.76,475.46 L156.76,479.7 L157.75,484.12 L158.74,488.72 L159.74,493.47 L160.73,498.35 L161.73,503.35 L162.72,508.45 L163.71,513.62 L164.71,518.85 L165.7,524.11 L166.69,529.38 L167.69,534.65 L168.68,539.88 L169.67,545.08 L170.67,550.2 L171.66,555.25 L172.65,560.2 L173.65,565.03 L174.64,569.74 L175.63,574.31 L176.63,578.73 L177.62,583 L178.61,587.1 L179.61,591.03 L180.6,594.78 L181.6,598.35 L182.59,601.74 L183.58,604.95 L184.58,607.98 L185.57,610.83 L186.56,613.5 L187.56,616 L188.55,618.33 L189.54,620.5 L190.54,622.5 L191.53,624.36 L192.52,626.07 L193.52,627.65 L194.51,629.09 L195.5,630.41 L196.5,631.61 L197.49,632.71 L198.48,633.7 L199.48,634.6 L200.47,635.41 L201.47,636.14 L202.46,636.79 L203.45,637.38 L204.45,637.9 L205.44,638.37 L206.43,638.78 L207.43,639.15 L208.42,639.48 L209.41,639.77 L210.41,640.02 L211.4,640.24" stroke="#f49a1e" stroke-width="1.1" fill="none"/>
<circle cx="43.9" cy="644" r="1.8" fill="#f49a1e"/><circle cx="53.95" cy="640.41" r="1.8" fill="#f49a1e"/><circle cx="64" cy="632.43" r="1.8" fill="#f49a1e"/><circle cx="74.05" cy="617.34" r="1.8" fill="#f49a1e"/><circle cx="84.1" cy="593.19" r="1.8" fill="#f49a1e"/><circle cx="94.15" cy="560.75" r="1.8" fill="#f49a1e"/><circle cx="104.2" cy="524.26" r="1.8" fill="#f49a1e"/><circle cx="114.25" cy="489.64" r="1.8" fill="#f49a1e"/><circle cx="124.3" cy="464.89" r="1.8" fill="#f49a1e"/><circle cx="134.35" cy="445.28" r="1.8" fill="#f49a1e"/><circle cx="144.4" cy="443.91" r="1.8" fill="#f49a1e"/><circle cx="154.45" cy="470.17" r="1.8" fill="#f49a1e"/><circle cx="164.5" cy="517.76" r="1.8" fill="#f49a1e"/><circle cx="174.55" cy="569.32" r="1.8" fill="#f49a1e"/><circle cx="184.6" cy="608.05" r="1.8" fill="#f49a1e"/><circle cx="194.65" cy="629.28" r="1.8" fill="#f49a1e"/><circle cx="204.7" cy="638.03" r="1.8" fill="#f49a1e"/>
<path d="M43.5,642.27 L44.49,642.05 L45.49,641.81 L46.48,641.54 L47.47,641.24 L48.47,640.92 L49.46,640.57 L50.45,640.19 L51.45,639.77 L52.44,639.32 L53.43,638.83 L54.43,638.29 L55.42,637.72 L56.42,637.09 L57.41,636.42 L58.4,635.7 L59.4,634.92 L60.39,634.08 L61.38,633.19 L62.38,632.23 L63.37,631.2 L64.36,630.11 L65.36,628.95 L66.35,627.71 L67.34,626.4 L68.34,625.01 L69.33,623.54 L70.32,621.98 L71.32,620.34 L72.31,618.61 L73.3,616.8 L74.3,614.89 L75.29,612.9 L76.29,610.81 L77.28,608.63 L78.27,606.36 L79.27,604 L80.26,601.55 L81.25,599 L82.25,596.37 L83.24,593.65 L84.23,590.84 L85.23,587.95 L86.22,584.98 L87.21,581.92 L88.21,578.8 L89.2,575.6 L90.19,572.34 L91.19,569.02 L92.18,565.63 L93.17,562.19 L94.17,558.71 L95.16,555.18 L96.16,551.61 L97.15,548.01 L98.14,544.38 L99.14,540.73 L100.13,537.07 L101.12,533.39 L102.12,529.7 L103.11,526.02 L104.1,522.34 L105.1,518.67 L106.09,515.01 L107.08,511.38 L108.08,507.76 L109.07,504.18 L110.06,500.63 L111.06,497.13 L112.05,493.67 L113.04,490.29 L114.04,486.98 L115.03,483.78 L116.02,480.7 L117.02,477.79 L118.01,475.05 L119.01,472.52 L120,470.21 L120.99,468.11 L121.99,466.2 L122.98,464.42 L123.97,462.71 L124.97,460.98 L125.96,459.16 L126.95,457.17 L127.95,454.98 L128.94,452.59 L129.93,450.04 L130.93,447.39 L131.92,444.74 L132.91,442.19 L133.91,439.83 L134.9,437.75 L135.89,436 L136.89,434.61 L137.88,433.6 L138.88,432.97 L139.87,432.69 L140.86,432.77 L141.86,433.17 L142.85,433.9 L143.84,434.94 L144.84,436.28 L145.83,437.93 L146.82,439.87 L147.82,442.11 L148.81,444.64 L149.8,447.46 L150.8,450.56 L151.79,453.94 L152.78,457.57 L153.78,461.47 L154.77,465.6 L155.76,469.95 L156.76,474.52 L157.75,479.27 L158.74,484.2 L159.74,489.28 L160.73,494.49 L161.73,499.81 L162.72,505.21 L163.71,510.68 L164.71,516.18 L165.7,521.71 L166.69,527.24 L167.69,532.73 L168.68,538.19 L169.67,543.58 L170.67,548.88 L171.66,554.09 L172.65,559.18 L173.65,564.14 L174.64,568.95 L175.63,573.61 L176.63,578.1 L177.62,582.42 L178.61,586.56 L179.61,590.51 L180.6,594.28 L181.6,597.85 L182.59,601.24 L183.58,604.43 L184.58,607.43 L185.57,610.24 L186.56,612.88 L187.56,615.33 L188.55,617.61 L189.54,619.73 L190.54,621.69 L191.53,623.49 L192.52,625.15 L193.52,626.67 L194.51,628.06 L195.5,629.32 L196.5,630.48 L197.49,631.52 L198.48,632.47 L199.48,633.32 L200.47,634.09 L201.47,634.78 L202.46,635.4 L203.45,635.95 L204.45,636.44 L205.44,636.88 L206.43,637.27 L207.43,637.61 L208.42,637.92 L209.41,638.18 L210.41,638.42 L211.4,638.63" stroke="#e6201c" stroke-width="1.1" fill="none"/>
<circle cx="43.9" cy="642.19" r="1.8" fill="#e6201c"/><circle cx="53.95" cy="638.55" r="1.8" fill="#e6201c"/><circle cx="64" cy="630.52" r="1.8" fill="#e6201c"/><circle cx="74.05" cy="615.38" r="1.8" fill="#e6201c"/><circle cx="84.1" cy="591.22" r="1.8" fill="#e6201c"/><circle cx="94.15" cy="558.77" r="1.8" fill="#e6201c"/><circle cx="104.2" cy="521.98" r="1.8" fill="#e6201c"/><circle cx="114.25" cy="486.29" r="1.8" fill="#e6201c"/><circle cx="124.3" cy="462.15" r="1.8" fill="#e6201c"/><circle cx="134.35" cy="438.87" r="1.8" fill="#e6201c"/><circle cx="144.4" cy="435.65" r="1.8" fill="#e6201c"/><circle cx="154.45" cy="464.24" r="1.8" fill="#e6201c"/><circle cx="164.5" cy="515.04" r="1.8" fill="#e6201c"/><circle cx="174.55" cy="568.52" r="1.8" fill="#e6201c"/><circle cx="184.6" cy="607.5" r="1.8" fill="#e6201c"/><circle cx="194.65" cy="628.24" r="1.8" fill="#e6201c"/><circle cx="204.7" cy="636.56" r="1.8" fill="#e6201c"/>
<path d="M95,639.01 L96.61,638.37 L98.22,637.66 L99.83,636.9 L101.44,636.05 L103.05,635.11 L104.66,634.08 L106.27,632.92 L107.88,631.63 L109.49,630.19 L111.1,628.59 L112.71,626.81 L114.32,624.86 L115.93,622.74 L117.54,620.48 L119.15,618.1 L120.76,615.59 L122.37,612.93 L123.98,610.03 L125.59,606.74 L127.2,602.96 L128.81,598.64 L130.42,593.8 L132.03,588.61 L133.64,583.25 L135.25,577.9 L136.86,572.7 L138.47,567.71 L140.08,563.01 L141.69,558.61 L143.31,554.57 L144.92,550.93 L146.53,547.76 L148.14,545.1 L149.75,543.02 L151.36,541.55 L152.97,540.73 L154.58,540.58 L156.19,541.11 L157.8,542.31 L159.41,544.15 L161.02,546.6 L162.63,549.62 L164.24,553.14 L165.85,557.11 L167.46,561.43 L169.07,566.05 L170.68,570.88 L172.29,575.85 L173.9,580.87 L175.51,585.87 L177.12,590.79 L178.73,595.58 L180.34,600.17 L181.95,604.53 L183.56,608.63 L185.17,612.45 L186.78,615.96 L188.39,619.16 L190,622.06" stroke="#22084e" stroke-width="0.5" fill="none"/>
<path d="M95,637.8 L96.61,637.08 L98.22,636.29 L99.83,635.44 L101.44,634.5 L103.05,633.47 L104.66,632.32 L106.27,631.06 L107.88,629.65 L109.49,628.09 L111.1,626.35 L112.71,624.43 L114.32,622.31 L115.93,620.01 L117.54,617.52 L119.15,614.88 L120.76,612.08 L122.37,609.08 L123.98,605.83 L125.59,602.24 L127.2,598.21 L128.81,593.73 L130.42,588.83 L132.03,583.64 L133.64,578.32 L135.25,573 L136.86,567.82 L138.47,562.86 L140.08,558.17 L141.69,553.8 L143.31,549.81 L144.92,546.26 L146.53,543.19 L148.14,540.68 L149.75,538.78 L151.36,537.52 L152.97,536.94 L154.58,537.05 L156.19,537.86 L157.8,539.36 L159.41,541.51 L161.02,544.28 L162.63,547.61 L164.24,551.44 L165.85,555.7 L167.46,560.32 L169.07,565.21 L170.68,570.29 L172.29,575.49 L173.9,580.71 L175.51,585.9 L177.12,590.99 L178.73,595.91 L180.34,600.62 L181.95,605.08 L183.56,609.26 L185.17,613.14 L186.78,616.7 L188.39,619.93 L190,622.85" stroke="#34107c" stroke-width="0.5" fill="none"/>
<path d="M95,636.74 L96.61,635.95 L98.22,635.09 L99.83,634.16 L101.44,633.13 L103.05,632.01 L104.66,630.78 L106.27,629.41 L107.88,627.9 L109.49,626.22 L111.1,624.36 L112.71,622.3 L114.32,620.04 L115.93,617.56 L117.54,614.88 L119.15,612.01 L120.76,608.93 L122.37,605.64 L123.98,602.09 L125.59,598.21 L127.2,593.97 L128.81,589.35 L130.42,584.4 L132.03,579.21 L133.64,573.91 L135.25,568.64 L136.86,563.49 L138.47,558.55 L140.08,553.88 L141.69,549.55 L143.31,545.61 L144.92,542.14 L146.53,539.18 L148.14,536.81 L149.75,535.08 L151.36,534.01 L152.97,533.65 L154.58,534.01 L156.19,535.08 L157.8,536.84 L159.41,539.27 L161.02,542.31 L162.63,545.92 L164.24,550.03 L165.85,554.56 L167.46,559.42 L169.07,564.55 L170.68,569.85 L172.29,575.24 L173.9,580.65 L175.51,586 L177.12,591.22 L178.73,596.26 L180.34,601.07 L181.95,605.61 L183.56,609.85 L185.17,613.77 L186.78,617.37 L188.39,620.63 L190,623.56" stroke="#5a22c0" stroke-width="0.5" fill="none"/>
<path d="M95,635.68 L96.61,634.82 L98.22,633.88 L99.83,632.87 L101.44,631.76 L103.05,630.55 L104.66,629.21 L106.27,627.74 L107.88,626.12 L109.49,624.32 L111.1,622.33 L112.71,620.14 L114.32,617.72 L115.93,615.07 L117.54,612.19 L119.15,609.08 L120.76,605.73 L122.37,602.13 L123.98,598.27 L125.59,594.12 L127.2,589.65 L128.81,584.9 L130.42,579.88 L132.03,574.7 L133.64,569.44 L135.25,564.21 L136.86,559.1 L138.47,554.18 L140.08,549.55 L141.69,545.26 L143.31,541.39 L144.92,538 L146.53,535.17 L148.14,532.95 L149.75,531.39 L151.36,530.53 L152.97,530.4 L154.58,531.01 L156.19,532.34 L157.8,534.38 L159.41,537.09 L161.02,540.42 L162.63,544.31 L164.24,548.69 L165.85,553.49 L167.46,558.61 L169.07,563.97 L170.68,569.48 L172.29,575.07 L173.9,580.65 L175.51,586.15 L177.12,591.5 L178.73,596.65 L180.34,601.55 L181.95,606.17 L183.56,610.47 L185.17,614.43 L186.78,618.06 L188.39,621.34 L190,624.29" stroke="#4a2ad8" stroke-width="0.5" fill="none"/>
<path d="M95,634.46 L96.61,633.51 L98.22,632.49 L99.83,631.38 L101.44,630.17 L103.05,628.85 L104.66,627.4 L106.27,625.81 L107.88,624.05 L109.49,622.12 L111.1,619.98 L112.71,617.62 L114.32,615.02 L115.93,612.17 L117.54,609.05 L119.15,605.66 L120.76,601.99 L122.37,598.04 L123.98,593.82 L125.59,589.34 L127.2,584.63 L128.81,579.71 L130.42,574.63 L132.03,569.46 L133.64,564.24 L135.25,559.06 L136.86,553.99 L138.47,549.13 L140.08,544.53 L141.69,540.31 L143.31,536.52 L144.92,533.25 L146.53,530.57 L148.14,528.53 L149.75,527.2 L151.36,526.59 L152.97,526.73 L154.58,527.64 L156.19,529.28 L157.8,531.65 L159.41,534.69 L161.02,538.35 L162.63,542.57 L164.24,547.26 L165.85,552.36 L167.46,557.76 L169.07,563.39 L170.68,569.15 L172.29,574.95 L173.9,580.72 L175.51,586.39 L177.12,591.89 L178.73,597.16 L180.34,602.16 L181.95,606.85 L183.56,611.21 L185.17,615.22 L186.78,618.88 L188.39,622.18 L190,625.14" stroke="#4048dc" stroke-width="0.5" fill="none"/>
<path d="M110,507.46 L111.39,503.77 L112.78,500.3 L114.17,497.08 L115.56,494.12 L116.95,491.44 L118.34,489.06 L119.73,486.99 L121.12,485.24 L122.51,483.84 L123.9,482.79 L125.29,482.09 L126.68,481.75 L128.07,481.77 L129.46,482.16 L130.85,482.9 L132.24,484 L133.63,485.45 L135.02,487.23 L136.41,489.34 L137.8,491.77 L139.19,494.48 L140.58,497.48 L141.97,500.74 L143.36,504.23 L144.75,507.94 L146.14,511.85 L147.53,515.93 L148.92,520.16 L150.31,524.51 L151.69,528.97 L153.08,533.5 L154.47,538.08 L155.86,542.7 L157.25,547.33 L158.64,551.95 L160.03,556.53 L161.42,561.07 L162.81,565.54 L164.2,569.93 L165.59,574.22 L166.98,578.4 L168.37,582.46 L169.76,586.38 L171.15,590.17 L172.54,593.81 L173.93,597.3 L175.32,600.63 L176.71,603.8 L178.1,606.81 L179.49,609.65 L180.88,612.34 L182.27,614.86 L183.66,617.23 L185.05,619.45 L186.44,621.51 L187.83,623.44 L189.22,625.22 L190.61,626.86 L192,628.38" stroke="#e23a3a" stroke-width="1.0" fill="none" stroke-dasharray="3.6,2.6"/>
<line x1="303.5" y1="431.6" x2="592.2" y2="431.6" stroke="#222" stroke-width="1" />
<line x1="303.5" y1="652.2" x2="592.2" y2="652.2" stroke="#222" stroke-width="1" />
<line x1="303.5" y1="431.6" x2="303.5" y2="652.2" stroke="#a03838" stroke-width="1" />
<line x1="592.2" y1="431.6" x2="592.2" y2="652.2" stroke="#3a7a56" stroke-width="1" />
<line x1="298.9" y1="435.9" x2="303.5" y2="435.9" stroke="#a03838" stroke-width="1" />
<line x1="300.5" y1="460" x2="303.5" y2="460" stroke="#a03838" stroke-width="1" />
<line x1="298.9" y1="484.1" x2="303.5" y2="484.1" stroke="#a03838" stroke-width="1" />
<line x1="300.5" y1="508.2" x2="303.5" y2="508.2" stroke="#a03838" stroke-width="1" />
<line x1="298.9" y1="532.3" x2="303.5" y2="532.3" stroke="#a03838" stroke-width="1" />
<line x1="300.5" y1="556.4" x2="303.5" y2="556.4" stroke="#a03838" stroke-width="1" />
<line x1="298.9" y1="580.5" x2="303.5" y2="580.5" stroke="#a03838" stroke-width="1" />
<line x1="300.5" y1="604.6" x2="303.5" y2="604.6" stroke="#a03838" stroke-width="1" />
<line x1="298.9" y1="628.7" x2="303.5" y2="628.7" stroke="#a03838" stroke-width="1" />
<line x1="300.5" y1="652.8" x2="303.5" y2="652.8" stroke="#a03838" stroke-width="1" />
<text x="296.2" y="439.7" font-size="10.6" text-anchor="end" fill="#a03838" stroke="#a03838" stroke-width="0.12" font-weight="normal" >20</text>
<text x="296.2" y="487.9" font-size="10.6" text-anchor="end" fill="#a03838" stroke="#a03838" stroke-width="0.12" font-weight="normal" >0</text>
<text x="296.2" y="536.1" font-size="10.6" text-anchor="end" fill="#a03838" stroke="#a03838" stroke-width="0.12" font-weight="normal" >−20</text>
<text x="296.2" y="584.3" font-size="10.6" text-anchor="end" fill="#a03838" stroke="#a03838" stroke-width="0.12" font-weight="normal" >−40</text>
<text x="296.2" y="632.5" font-size="10.6" text-anchor="end" fill="#a03838" stroke="#a03838" stroke-width="0.12" font-weight="normal" >−60</text>
<line x1="592.2" y1="652.2" x2="596.2" y2="652.2" stroke="#3a7a56" stroke-width="1" />
<line x1="592.2" y1="638.26" x2="594.8" y2="638.26" stroke="#3a7a56" stroke-width="1" />
<line x1="592.2" y1="624.32" x2="596.2" y2="624.32" stroke="#3a7a56" stroke-width="1" />
<line x1="592.2" y1="610.38" x2="594.8" y2="610.38" stroke="#3a7a56" stroke-width="1" />
<line x1="592.2" y1="596.44" x2="596.2" y2="596.44" stroke="#3a7a56" stroke-width="1" />
<line x1="592.2" y1="582.5" x2="594.8" y2="582.5" stroke="#3a7a56" stroke-width="1" />
<line x1="592.2" y1="568.56" x2="596.2" y2="568.56" stroke="#3a7a56" stroke-width="1" />
<line x1="592.2" y1="554.62" x2="594.8" y2="554.62" stroke="#3a7a56" stroke-width="1" />
<line x1="592.2" y1="540.68" x2="596.2" y2="540.68" stroke="#3a7a56" stroke-width="1" />
<line x1="592.2" y1="526.74" x2="594.8" y2="526.74" stroke="#3a7a56" stroke-width="1" />
<line x1="592.2" y1="512.8" x2="596.2" y2="512.8" stroke="#3a7a56" stroke-width="1" />
<line x1="592.2" y1="498.86" x2="594.8" y2="498.86" stroke="#3a7a56" stroke-width="1" />
<line x1="592.2" y1="484.92" x2="596.2" y2="484.92" stroke="#3a7a56" stroke-width="1" />
<line x1="592.2" y1="470.98" x2="594.8" y2="470.98" stroke="#3a7a56" stroke-width="1" />
<line x1="592.2" y1="457.04" x2="596.2" y2="457.04" stroke="#3a7a56" stroke-width="1" />
<line x1="592.2" y1="443.1" x2="594.8" y2="443.1" stroke="#3a7a56" stroke-width="1" />
<text x="600.8" y="655.7" font-size="9.7" text-anchor="start" fill="#3a7a56" stroke="#3a7a56" stroke-width="0.12" font-weight="normal" >0.0</text>
<text x="600.8" y="627.82" font-size="9.7" text-anchor="start" fill="#3a7a56" stroke="#3a7a56" stroke-width="0.12" font-weight="normal" >0.2</text>
<text x="600.8" y="599.94" font-size="9.7" text-anchor="start" fill="#3a7a56" stroke="#3a7a56" stroke-width="0.12" font-weight="normal" >0.4</text>
<text x="600.8" y="572.06" font-size="9.7" text-anchor="start" fill="#3a7a56" stroke="#3a7a56" stroke-width="0.12" font-weight="normal" >0.6</text>
<text x="600.8" y="544.18" font-size="9.7" text-anchor="start" fill="#3a7a56" stroke="#3a7a56" stroke-width="0.12" font-weight="normal" >0.8</text>
<text x="600.8" y="516.3" font-size="9.7" text-anchor="start" fill="#3a7a56" stroke="#3a7a56" stroke-width="0.12" font-weight="normal" >1.0</text>
<text x="600.8" y="488.42" font-size="9.7" text-anchor="start" fill="#3a7a56" stroke="#3a7a56" stroke-width="0.12" font-weight="normal" >1.2</text>
<text x="600.8" y="460.54" font-size="9.7" text-anchor="start" fill="#3a7a56" stroke="#3a7a56" stroke-width="0.12" font-weight="normal" >1.4</text>
<line x1="333.82" y1="652.2" x2="333.82" y2="654.8" stroke="#222" stroke-width="1" />
<line x1="383.5" y1="652.2" x2="383.5" y2="656.2" stroke="#222" stroke-width="1" />
<line x1="433.18" y1="652.2" x2="433.18" y2="654.8" stroke="#222" stroke-width="1" />
<line x1="482.85" y1="652.2" x2="482.85" y2="656.2" stroke="#222" stroke-width="1" />
<line x1="532.52" y1="652.2" x2="532.52" y2="654.8" stroke="#222" stroke-width="1" />
<line x1="582.2" y1="652.2" x2="582.2" y2="656.2" stroke="#222" stroke-width="1" />
<text x="383.5" y="667.2" font-size="9.7" text-anchor="middle" fill="#111" stroke="#111" stroke-width="0.12" font-weight="normal" >400</text>
<text x="482.85" y="667.2" font-size="9.7" text-anchor="middle" fill="#111" stroke="#111" stroke-width="0.12" font-weight="normal" >500</text>
<text x="582.2" y="667.2" font-size="9.7" text-anchor="middle" fill="#111" stroke="#111" stroke-width="0.12" font-weight="normal" >600</text>
<text x="447.6" y="682" font-size="9.75" text-anchor="middle" fill="#111" stroke="#111" stroke-width="0.12" font-weight="normal" >TDMA-Hf deposition time (s)</text>
<text x="269.3" y="541.5" font-size="9.7" text-anchor="middle" fill="#a03838" stroke="#a03838" stroke-width="0.12" font-weight="normal" transform="rotate(-90 269.3 541.5)" >Shift in binding energy (meV)</text>
<text x="627" y="541.5" font-size="9.7" text-anchor="middle" fill="#3a7a56" stroke="#3a7a56" stroke-width="0.12" font-weight="normal" transform="rotate(-90 627 541.5)" >Relative size of oxide components</text>
<svg x="303.5" y="431.6" width="288.7" height="220.6" overflow="hidden"><g transform="translate(-303.5,-431.6)">
<path d="M329.4,492.4 L329.4,520.4 M327.2,492.4 L331.6,492.4 M327.2,520.4 L331.6,520.4" stroke="#9ad49a" stroke-width="0.8" fill="none"/>
<path d="M353.4,509.6 L353.4,537.6 M351.2,509.6 L355.6,509.6 M351.2,537.6 L355.6,537.6" stroke="#9ad49a" stroke-width="0.8" fill="none"/>
<path d="M377.1,489.6 L377.1,517.6 M374.9,489.6 L379.3,489.6 M374.9,517.6 L379.3,517.6" stroke="#9ad49a" stroke-width="0.8" fill="none"/>
<path d="M400.6,507.1 L400.6,535.1 M398.4,507.1 L402.8,507.1 M398.4,535.1 L402.8,535.1" stroke="#9ad49a" stroke-width="0.8" fill="none"/>
<path d="M424.3,562 L424.3,590 M422.1,562 L426.5,562 M422.1,590 L426.5,590" stroke="#9ad49a" stroke-width="0.8" fill="none"/>
<path d="M447.7,615 L447.7,643 M445.5,615 L449.9,615 M445.5,643 L449.9,643" stroke="#9ad49a" stroke-width="0.8" fill="none"/>
<path d="M471.8,629 L471.8,657 M469.6,629 L474,629 M469.6,657 L474,657" stroke="#9ad49a" stroke-width="0.8" fill="none"/>
<path d="M495.4,630.9 L495.4,658.9 M493.2,630.9 L497.6,630.9 M493.2,658.9 L497.6,658.9" stroke="#9ad49a" stroke-width="0.8" fill="none"/>
<path d="M518.9,632.7 L518.9,660.7 M516.7,632.7 L521.1,632.7 M516.7,660.7 L521.1,660.7" stroke="#9ad49a" stroke-width="0.8" fill="none"/>
<path d="M542.7,635.3 L542.7,663.3 M540.5,635.3 L544.9,635.3 M540.5,663.3 L544.9,663.3" stroke="#9ad49a" stroke-width="0.8" fill="none"/>
<path d="M566.7,636.4 L566.7,664.4 M564.5,636.4 L568.9,636.4 M564.5,664.4 L568.9,664.4" stroke="#9ad49a" stroke-width="0.8" fill="none"/>
<path d="M316.6,497.6 L316.6,525.6 M314.4,497.6 L318.8,497.6 M314.4,525.6 L318.8,525.6" stroke="#555" stroke-width="0.8" fill="none"/>
<path d="M340,507.3 L340,535.3 M337.8,507.3 L342.2,507.3 M337.8,535.3 L342.2,535.3" stroke="#555" stroke-width="0.8" fill="none"/>
<path d="M363.7,489 L363.7,517 M361.5,489 L365.9,489 M361.5,517 L365.9,517" stroke="#555" stroke-width="0.8" fill="none"/>
<path d="M387.7,500.5 L387.7,528.5 M385.5,500.5 L389.9,500.5 M385.5,528.5 L389.9,528.5" stroke="#555" stroke-width="0.8" fill="none"/>
<path d="M411.4,570.6 L411.4,598.6 M409.2,570.6 L413.6,570.6 M409.2,598.6 L413.6,598.6" stroke="#555" stroke-width="0.8" fill="none"/>
<path d="M435.1,618.5 L435.1,646.5 M432.9,618.5 L437.3,618.5 M432.9,646.5 L437.3,646.5" stroke="#555" stroke-width="0.8" fill="none"/>
<path d="M458.6,599.8 L458.6,627.8 M456.4,599.8 L460.8,599.8 M456.4,627.8 L460.8,627.8" stroke="#555" stroke-width="0.8" fill="none"/>
<path d="M482.3,626.7 L482.3,654.7 M480.1,626.7 L484.5,626.7 M480.1,654.7 L484.5,654.7" stroke="#555" stroke-width="0.8" fill="none"/>
<path d="M506.1,631.9 L506.1,659.9 M503.9,631.9 L508.3,631.9 M503.9,659.9 L508.3,659.9" stroke="#555" stroke-width="0.8" fill="none"/>
<path d="M529.6,631.6 L529.6,659.6 M527.4,631.6 L531.8,631.6 M527.4,659.6 L531.8,659.6" stroke="#555" stroke-width="0.8" fill="none"/>
<path d="M553.8,627.8 L553.8,655.8 M551.6,627.8 L556,627.8 M551.6,655.8 L556,655.8" stroke="#555" stroke-width="0.8" fill="none"/>
<path d="M577.8,632.7 L577.8,660.7 M575.6,632.7 L580,632.7 M575.6,660.7 L580,660.7" stroke="#555" stroke-width="0.8" fill="none"/>
<path d="M329.4,506.4 L353.4,523.6 L377.1,503.6 L400.6,521.1 L424.3,576 L447.7,629 L471.8,643 L495.4,644.9 L518.9,646.7 L542.7,649.3 L566.7,650.4" stroke="#6ad46a" stroke-width="0.7" fill="none"/>
<path d="M316.6,514.1 L340,512.1 L363.7,514.1 L387.7,515 L411.4,518.5 L435.1,562.6 L458.6,631.6 L482.3,648.9 L506.1,650.2 L529.6,650 L553.8,650 L577.8,650" stroke="#1f6b3e" stroke-width="0.7" fill="none"/>
<path d="M316.6,511.6 L340,521.3 L363.7,503 L387.7,514.5 L411.4,584.6 L435.1,632.5 L458.6,613.8 L482.3,640.7 L506.1,645.9 L529.6,645.6 L553.8,641.8 L577.8,646.7" stroke="#222" stroke-width="0.7" fill="none"/>
<path d="M316.6,485 L340,470.1 L363.7,489.3 L387.7,465.9 L411.4,448.7 L435.1,463 L458.6,486.4 L482.3,520.5 L506.1,554.3 L529.6,573.3 L553.8,606.7 L577.8,592.2" stroke="#c03030" stroke-width="0.7" fill="none"/>
<path d="M329.4,479.3 L353.4,491.6 L377.1,491.6 L400.6,440.7 L424.3,438.4 L447.7,486.4 L471.8,554.2 L495.4,580.1 L518.9,613.3 L542.7,611.1 L566.7,618.2" stroke="#7a1a1a" stroke-width="0.7" fill="none"/>
<rect x="326.7" y="503.7" width="5.4" height="5.4" fill="#3ccc3c"/>
<rect x="350.7" y="520.9" width="5.4" height="5.4" fill="#3ccc3c"/>
<rect x="374.4" y="500.9" width="5.4" height="5.4" fill="#3ccc3c"/>
<rect x="397.9" y="518.4" width="5.4" height="5.4" fill="#3ccc3c"/>
<rect x="421.6" y="573.3" width="5.4" height="5.4" fill="#3ccc3c"/>
<rect x="445" y="626.3" width="5.4" height="5.4" fill="#3ccc3c"/>
<rect x="469.1" y="640.3" width="5.4" height="5.4" fill="#3ccc3c"/>
<rect x="492.7" y="642.2" width="5.4" height="5.4" fill="#3ccc3c"/>
<rect x="516.2" y="644" width="5.4" height="5.4" fill="#3ccc3c"/>
<rect x="540" y="646.6" width="5.4" height="5.4" fill="#3ccc3c"/>
<rect x="564" y="647.7" width="5.4" height="5.4" fill="#3ccc3c"/>
<circle cx="316.6" cy="514.1" r="3.0" fill="#1a6b3c"/>
<circle cx="340" cy="512.1" r="3.0" fill="#1a6b3c"/>
<circle cx="363.7" cy="514.1" r="3.0" fill="#1a6b3c"/>
<circle cx="387.7" cy="515" r="3.0" fill="#1a6b3c"/>
<circle cx="411.4" cy="518.5" r="3.0" fill="#1a6b3c"/>
<circle cx="435.1" cy="562.6" r="3.0" fill="#1a6b3c"/>
<circle cx="458.6" cy="631.6" r="3.0" fill="#1a6b3c"/>
<circle cx="482.3" cy="648.9" r="3.0" fill="#1a6b3c"/>
<circle cx="506.1" cy="650.2" r="3.0" fill="#1a6b3c"/>
<circle cx="529.6" cy="650" r="3.0" fill="#1a6b3c"/>
<circle cx="553.8" cy="650" r="3.0" fill="#1a6b3c"/>
<circle cx="577.8" cy="650" r="3.0" fill="#1a6b3c"/>
<path d="M316.6,507.5 L320.7,511.6 L316.6,515.7 L312.5,511.6 Z" fill="#0a0a0a"/>
<path d="M340,517.2 L344.1,521.3 L340,525.4 L335.9,521.3 Z" fill="#0a0a0a"/>
<path d="M363.7,498.9 L367.8,503 L363.7,507.1 L359.6,503 Z" fill="#0a0a0a"/>
<path d="M387.7,510.4 L391.8,514.5 L387.7,518.6 L383.6,514.5 Z" fill="#0a0a0a"/>
<path d="M411.4,580.5 L415.5,584.6 L411.4,588.7 L407.3,584.6 Z" fill="#0a0a0a"/>
<path d="M435.1,628.4 L439.2,632.5 L435.1,636.6 L431,632.5 Z" fill="#0a0a0a"/>
<path d="M458.6,609.7 L462.7,613.8 L458.6,617.9 L454.5,613.8 Z" fill="#0a0a0a"/>
<path d="M482.3,636.6 L486.4,640.7 L482.3,644.8 L478.2,640.7 Z" fill="#0a0a0a"/>
<path d="M506.1,641.8 L510.2,645.9 L506.1,650 L502,645.9 Z" fill="#0a0a0a"/>
<path d="M529.6,641.5 L533.7,645.6 L529.6,649.7 L525.5,645.6 Z" fill="#0a0a0a"/>
<path d="M553.8,637.7 L557.9,641.8 L553.8,645.9 L549.7,641.8 Z" fill="#0a0a0a"/>
<path d="M577.8,642.6 L581.9,646.7 L577.8,650.8 L573.7,646.7 Z" fill="#0a0a0a"/>
<path d="M312.9,481.8 L320.3,481.8 L316.6,488.5 Z" fill="#fff" stroke="#b41e1e" stroke-width="1.6"/>
<path d="M336.3,466.9 L343.7,466.9 L340,473.6 Z" fill="#fff" stroke="#b41e1e" stroke-width="1.6"/>
<path d="M360,486.1 L367.4,486.1 L363.7,492.8 Z" fill="#fff" stroke="#b41e1e" stroke-width="1.6"/>
<path d="M384,462.7 L391.4,462.7 L387.7,469.4 Z" fill="#fff" stroke="#b41e1e" stroke-width="1.6"/>
<path d="M407.7,445.5 L415.1,445.5 L411.4,452.2 Z" fill="#fff" stroke="#b41e1e" stroke-width="1.6"/>
<path d="M431.4,459.8 L438.8,459.8 L435.1,466.5 Z" fill="#fff" stroke="#b41e1e" stroke-width="1.6"/>
<path d="M454.9,483.2 L462.3,483.2 L458.6,489.9 Z" fill="#fff" stroke="#b41e1e" stroke-width="1.6"/>
<path d="M478.6,517.3 L486,517.3 L482.3,524 Z" fill="#fff" stroke="#b41e1e" stroke-width="1.6"/>
<path d="M502.4,551.1 L509.8,551.1 L506.1,557.8 Z" fill="#fff" stroke="#b41e1e" stroke-width="1.6"/>
<path d="M525.9,570.1 L533.3,570.1 L529.6,576.8 Z" fill="#fff" stroke="#b41e1e" stroke-width="1.6"/>
<path d="M550.1,603.5 L557.5,603.5 L553.8,610.2 Z" fill="#fff" stroke="#b41e1e" stroke-width="1.6"/>
<path d="M574.1,589 L581.5,589 L577.8,595.7 Z" fill="#fff" stroke="#b41e1e" stroke-width="1.6"/>
<circle cx="329.4" cy="479.3" r="2.8" fill="#fff" stroke="#6e0c0c" stroke-width="1.6"/>
<circle cx="353.4" cy="491.6" r="2.8" fill="#fff" stroke="#6e0c0c" stroke-width="1.6"/>
<circle cx="377.1" cy="491.6" r="2.8" fill="#fff" stroke="#6e0c0c" stroke-width="1.6"/>
<circle cx="400.6" cy="440.7" r="2.8" fill="#fff" stroke="#6e0c0c" stroke-width="1.6"/>
<circle cx="424.3" cy="438.4" r="2.8" fill="#fff" stroke="#6e0c0c" stroke-width="1.6"/>
<circle cx="447.7" cy="486.4" r="2.8" fill="#fff" stroke="#6e0c0c" stroke-width="1.6"/>
<circle cx="471.8" cy="554.2" r="2.8" fill="#fff" stroke="#6e0c0c" stroke-width="1.6"/>
<circle cx="495.4" cy="580.1" r="2.8" fill="#fff" stroke="#6e0c0c" stroke-width="1.6"/>
<circle cx="518.9" cy="613.3" r="2.8" fill="#fff" stroke="#6e0c0c" stroke-width="1.6"/>
<circle cx="542.7" cy="611.1" r="2.8" fill="#fff" stroke="#6e0c0c" stroke-width="1.6"/>
<circle cx="566.7" cy="618.2" r="2.8" fill="#fff" stroke="#6e0c0c" stroke-width="1.6"/>
</g></svg>
<path d="M521.5,460.5 L574.3,460.5" stroke="#8c0c0c" stroke-width="1.6"/>
<path d="M511.3,460.5 L522.5,454.9 L522.5,466.1 Z" fill="#8c0c0c"/>
<path d="M313.7,573 L368,573" stroke="#1f6b3e" stroke-width="1.6"/>
<path d="M377.1,573 L366,567.4 L366,578.6 Z" fill="#1f6b3e"/>
<line x1="518.6" y1="475.9" x2="541.3" y2="475.9" stroke="#c03030" stroke-width="0.7" />
<path d="M526.2,472.4 L533.6,472.4 L529.9,479.1 Z" fill="#fff" stroke="#b41e1e" stroke-width="1.6"/>
<text x="545.6" y="479" font-size="8.6" text-anchor="start" fill="#b42a2a" stroke="#b42a2a" stroke-width="0.12" font-weight="normal" >As 3d</text>
<line x1="518.6" y1="488.5" x2="541.3" y2="488.5" stroke="#7a1a1a" stroke-width="0.7" />
<circle cx="529.9" cy="488.5" r="3.0" fill="#fff" stroke="#6e0c0c" stroke-width="1.6"/>
<text x="545.6" y="491.6" font-size="8.6" text-anchor="start" fill="#6e1414" stroke="#6e1414" stroke-width="0.12" font-weight="normal" >In 3d</text>
<line x1="314.9" y1="589" x2="337.8" y2="589" stroke="#1f6b3e" stroke-width="0.7" />
<circle cx="326.3" cy="589" r="3.4" fill="#1a6b3c"/>
<text x="342.1" y="592.2" font-size="8.6" text-anchor="start" fill="#1f5a3a" stroke="#1f5a3a" stroke-width="0.12" font-weight="normal" >As+3</text>
<line x1="314.9" y1="602.2" x2="337.8" y2="602.2" stroke="#222" stroke-width="0.7" />
<path d="M326.3,597.8 L330.7,602.2 L326.3,606.6 L321.9,602.2 Z" fill="#0a0a0a"/>
<text x="342.1" y="605.4" font-size="8.6" text-anchor="start" fill="#222" stroke="#222" stroke-width="0.12" font-weight="normal" >As+5</text>
<line x1="314.9" y1="615.2" x2="337.8" y2="615.2" stroke="#8ad88a" stroke-width="0.7" />
<rect x="323.1" y="612" width="6.4" height="6.4" fill="#3ccc3c"/>
<text x="342.1" y="618.4" font-size="8.6" text-anchor="start" fill="#4ac44a" stroke="#4ac44a" stroke-width="0.12" font-weight="normal" >In-oxide</text>
<text x="-0.8" y="10.4" font-size="14" text-anchor="start" fill="#000" stroke="#000" stroke-width="0.0" font-weight="bold" >a</text>
<text x="300.6" y="10.4" font-size="13.5" text-anchor="start" fill="#000" stroke="#000" stroke-width="0.0" font-weight="bold" >b</text>
<text x="-0.6" y="436.2" font-size="14.5" text-anchor="start" fill="#000" stroke="#000" stroke-width="0.0" font-weight="bold" >c</text>
<text x="262.2" y="435.7" font-size="14.5" text-anchor="start" fill="#000" stroke="#000" stroke-width="0.0" font-weight="bold" >d</text>
</svg></body></html>
